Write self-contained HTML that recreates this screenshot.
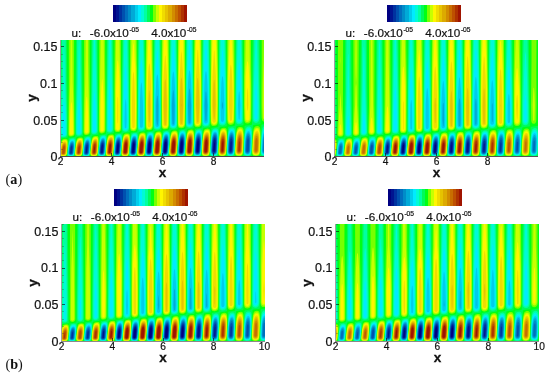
<!DOCTYPE html><html><head><meta charset="utf-8"><style>
*{margin:0;padding:0}
html,body{width:550px;height:374px;overflow:hidden;background:#fff}
body{position:relative;font-family:"Liberation Sans",Arial,sans-serif;color:#111}
.tl,.xl,.lg{-webkit-text-stroke:0.2px #111}
.fs{position:absolute;display:block;filter:blur(.35px)}
.ax{position:absolute}
.tl{position:absolute;font-size:12.5px;line-height:14px;white-space:nowrap}
.xl{position:absolute;font-size:10.2px;line-height:12px;white-space:nowrap}
.c{width:40px;text-align:center}
.at{position:absolute;font-size:13.5px;font-weight:bold;line-height:16px;-webkit-text-stroke:0.3px #111}
.yt{width:20px;text-align:center;transform:rotate(-90deg)}
.cb{position:absolute;width:74px;height:17px;filter:blur(.35px)}
.lg{position:absolute;font-size:11.7px;line-height:13px;white-space:nowrap}
.lg sup{font-size:6.7px;vertical-align:0;position:relative;top:-5.6px;margin-left:.6px}
.pl{position:absolute;font-family:"Liberation Serif",serif;font-size:14.2px;line-height:16px}
.pl b{font-weight:bold}
</style></head><body><svg class="fs" style="left:61px;top:40px" width="203" height="116" viewBox="0 0 2030 1160" fill-rule="evenodd"><rect width="2030" height="1160" fill="#00fa5a"/><path fill="#00ff14" d="M60 0h91l-8 705v260l-5 5-53 8-6 2-2 5-17 175h-60v-171l8 -4 38 -5 21 -5-1 -245-8 -730zM215 0h88l-6 650-1 300-5 5-56 9-5 6-17 190h-78l17 -185 10 -5 37 -5 20 -5-1 -290-7 -670zM370 0h87l-5 600-2 335-4 5-56 9-5 6-18 205h-79l19 -200 10 -5 36 -5 20 -5-1 -300-6 -645zM525 0h88l-5 390-2 535-16 5-42 5-7 5-18 220h-80l19 -215 10 -5 43 -6 13 -4-1 -395-5 -535zM680 0h89l-4 420-1 495-4 3-9 2-44 5-9 5-18 230h-81l19 -225 8 -5 43 -5 16 -5zM840 0h88l-4 385-1 520-11 5-44 5-11 5-19 240h-81l19 -235 10 -5 45 -5 12 -5-2 -545-3 -365zM1000 0h88l-4 400-1 495-3 3-6 2-45 5-12 5-19 250h-82l19 -245 12 -5 46 -5 10 -5-2 -525-3 -375zM1160 0h89l-4 885-9 5-45 5-13 5-18 260h-83l18 -254 10 -5 49 -6 10 -5zM1325 0h88l-3 395-2 480-3 3-6 2-46 5-8 2-5 3-17 270h-83l17 -265 13 -5 46 -5 11 -5-1 -490-4 -390zM1490 0h88l-3 400-1 465-12 5-52 7-6 3-1 5-15 275h-85l17 -274 10 -5 49 -6 12 -5-1 -465-3 -405zM1655 0h92l-4 315-2 540-14 5-47 5-10 5-16 290h-85l16 -285 10 -5 48 -5 14 -5-1 -490-4 -370zM1820 0h97l-5 430-2 415-15 4-49 6-10 5-14 300h-86l15 -295 10 -5 47 -5 17 -5-3 -515-4 -335zM1990 0h40v842l-21 3-4 4-1 6-12 305h-86l13 -305 7 -5 46 -5 22 -5-8 -840z"/><path fill="#78ff00" d="M80 0h51v430l5 500-2 15-5 10-14 8-15 2h-10l-10 -5-5 -8-2 -12 5 -510v-430zM230 0h55l4 915-2 15-7 11-10 6-15 3-10 -1-11 -4-6 -10-3 -15 4 -490zM385 0h56l3 635v260l-4 20-5 9-15 8-15 2-10 -1-10 -8-4 -10-2 -15 4 -900zM540 0h58l3 405v475l-3 20-5 10-13 9-15 2-15 -2-10 -9-4 -10-2 -15v-380l3 -505zM695 0h62l3 435-1 435-2 20-7 13-10 6-15 3-15 -1-12 -6-5 -10-3 -20v-555l2 -320zM850 0h66l4 475-1 385-3 20-6 12-10 7-20 4-15 -2-10 -6-5 -10-3 -20-1 -430zM1010 0h68l2 405-1 445-3 20-6 13-10 6-20 4-15 -1-10 -6-6 -11-2 -20-2 -440 3 -415zM1170 0h70l2 430-1 410-3 20-4 10-9 7-20 6-20 -2-10 -7-5 -12-2 -22-1 -440zM1335 0h69l2 400-2 425-3 25-6 11-10 7-20 4-15 -2-10 -5-6 -10-3 -25-2 -325 2 -405 1 -100zM1500 0h68l3 440-2 370-3 25-6 13-10 8-20 5-15 -2-8 -4-4 -5-6 -15-2 -20v-715l1 -100zM1665 0h69l3 435-2 365-4 25-6 12-11 8-19 4-15 -3-10 -8-5 -13-3 -25-1 -370 2 -430zM1835 0h64l5 500-2 285-3 20-6 15-13 12-15 3-15 -2-10 -8-6 -15-2 -20-2 -140v-300l3 -350zM2010 0h20v817l-10 -4-7 -8-4 -10-3 -20-2 -125v-145l3 -295v-210zM1950 863l15 -2 10 2 10 7 5 9 5 31 1 60-5 135-4 35-5 10-7 5-10 3-20 1-20 -2-9 -7-5 -15v-25l6 -135 5 -65 8 -30 10 -12zM1785 870l15 -1 15 6 7 10 4 15 1 65-5 145-4 30-3 9-5 5-15 5-26 1-14 -2-6 -3-4 -5-3 -10-1 -30 5 -105 5 -70 6 -35 3 -10 6 -10 9 -7zM1615 879l15 -2 15 3 10 10 4 15 2 60-7 150-4 28-7 12-15 5h-34l-14 -5-5 -10-1 -10 8 -160 5 -50 5 -25 8 -13zM1445 890l20 -4 17 4 8 10 5 20-1 70-8 140-2 15-4 8-5 4-10 3-45 -1-7 -4-3 -5-2 -10 6 -120 7 -85 4 -20 5 -13 6 -7zM1280 899l20 -3h10l10 4 7 10 4 15v65l-9 140-3 15-4 9-5 4-7 2-48 -1-6 -4-3 -5-2 -10 6 -120 8 -80 7 -26 6 -9zM1120 908l20 -3 15 3 8 7 4 10 2 20v35l-9 145-3 20-7 11-9 4h-45l-6 -2-5 -4-3 -19 10 -155 5 -35 5 -20 8 -11zM975 915l15 1 10 5 5 9 3 15-2 70-10 125-2 10-4 5-5 4-4 1h-47l-9 -5-3 -5-1 -15 7 -110 7 -65 5 -21 8 -14 12 -7zM815 925h15l10 5 5 8 3 12-1 65-10 125-3 10-4 6-5 3-51 1-9 -5-3 -10v-10l8 -112 7 -58 5 -20 6 -10 12 -8zM650 935l20 -1 10 4 6 7 3 10 1 20-1 35-10 125-4 16-5 6-5 3h-50l-8 -5-2 -5-1 -15 8 -100 6 -55 4 -20 8 -15 10 -7zM495 945l15 -1 10 2 5 3 4 6 3 10v55l-11 120-5 15-6 4-51 1-9 -7-2 -18 7 -90 7 -55 4 -20 8 -15 11 -7zM340 960l15 -1 10 2 5 3 4 6 2 10v50l-10 110-6 15-8 5h-49l-8 -7-2 -18 8 -85 6 -50 6 -20 6 -10 11 -8zM185 975l15 -1 10 1 6 5 5 10 1 15-1 30-9 105-6 15-6 4-51 1-7 -5-2 -15 7 -80 6 -45 5 -20 6 -10 11 -7zM30 990l15 -2 11 2 7 5 5 10v40l-9 95-4 13-9 7h-46v-132l5 -18 5 -9 10 -8z"/><path fill="#c8ff00" d="M100 0h13l4 430 8 220 4 260v25l-4 10-10 8-15 4-10 -3-5 -3-4 -6-1 -10 4 -285 8 -220 4 -430zM250 0h19l1 215 11 565 1 135-3 10-4 7-10 6-10 2-10 -2-6 -3-5 -10-1 -10 3 -260 6 -225 3 -220 2 -210zM400 0h27l10 640-1 255-1 10-6 10-9 6-10 3-10 -2-5 -2-7 -10-1 -10v-250l10 -650zM550 0h35l3 210 6 200 1 240-1 230-3 15-6 8-10 6-10 1-10 -2-5 -3-7 -10-2 -10v-385zM705 0h40l4 210 3 70 3 370-2 220-3 15-5 8-10 7-10 2-10 -1-11 -6-6 -10-2 -15-2 -215 2 -225zM860 3v-3h46l9 480-1 375-2 15-7 13-10 7-15 3-10 -2-10 -6-5 -10-3 -15-1 -210 1 -215zM1020 0h48l2 85 5 345-1 415-2 15-7 14-10 7-15 2-10 -1-10 -6-6 -11-3 -15-1 -200v-235l8 -415zM1180 0h51l6 430 1 220-2 180-1 15-6 15-9 8-15 5-15 -2-10 -7-5 -10-3 -19-1 -185 1 -250 4 -280 2 -120zM1345 0h50v21l6 409v220l-1 170-4 20-6 11-10 7-15 3-10 -1-10 -6-6 -9-4 -20-1 -175v-260l7 -390zM1505 4v-4h54l7 435v215l-2 155-3 20-6 13-10 8-15 3-10 -1-12 -8-5 -10-3 -20-2 -160 1 -220zM1675 0h47l8 435 1 215-2 145-4 20-6 10-9 8-15 3-10 -2-10 -9-5 -12-2 -18-2 -145v-215zM1850 0h35l3 210 7 225 1 215-2 135-3 15-6 11-10 7-10 3-10 -2-6 -4-6 -10-3 -10-4 -140 2 -290 6 -155 3 -210zM2030 0v794l-5 -4-3 -5-3 -10-4 -125 3 -220 9 -220zM1950 879l10 -2 10 2 8 6 6 10 6 30 2 50-4 125-3 28-4 12-6 7-10 5-15 2-20 -3-9 -6-6 -15-1 -20 5 -115 6 -64 5 -23 5 -13 5 -8zM1785 883l10 -1 10 3 9 10 4 10 6 40-1 75-4 90-4 25-5 10-10 7-10 3-15 1-15 -3-11 -8-4 -15-1 -25 6 -113 7 -62 9 -30 9 -11zM1620 890h15l10 7 5 8 5 17 2 63-5 120-4 30-3 8-5 7-15 6-20 1-11 -2-9 -4-5 -7-3 -9-1 -25 4 -75 6 -75 7 -40 7 -15 5 -7zM1450 899l15 -2 10 3 6 5 6 10 5 30-1 65-5 105-5 25-6 10-5 3-15 4-15 1-15 -3-10 -7-4 -13v-20l6 -110 7 -60 9 -30 7 -10zM1285 908l10 -2h10l10 5 5 5 4 9 3 15 1 45-6 125-4 25-3 10-5 6-5 3-10 3-15 1-20 -3-8 -5-4 -10-2 -20 7 -110 7 -56 5 -21 5 -11 5 -7zM1135 915l10 1 10 6 5 8 5 20v55l-7 115-4 20-4 9-5 4-15 5h-20l-10 -1-10 -6-4 -6-2 -10v-20l9 -115 5 -40 8 -25 4 -7 8 -8zM970 925h15l8 5 7 10 3 15 1 50-7 110-4 25-3 7-5 6-15 5-20 1-10 -2-10 -4-6 -13v-20l6 -88 6 -52 7 -30 4 -10 8 -9zM810 934h15l10 6 5 7 3 13 1 50-7 110-3 20-4 8-5 5-15 5-20 1-16 -4-6 -5-3 -9-1 -21 6 -75 6 -55 7 -30 5 -10 7 -9zM650 944l15 -1 10 4 6 8 4 12 1 48-7 105-4 20-5 11-5 4-10 3-25 1-15 -4-5 -5-3 -10v-20l6 -75 5 -45 7 -30 10 -18zM495 954l15 -1 10 5 5 8 3 14 1 45-7 95-4 20-3 8-5 6-15 5h-20l-16 -4-5 -5-3 -10v-15l6 -70 6 -50 7 -28 10 -16zM335 970l15 -3 10 3 5 4 5 8 3 28-2 55-6 65-5 17-5 6-10 5-25 1-15 -3-5 -4-4 -12v-15l8 -80 6 -40 10 -24 6 -6zM180 985l10 -3 10 1 10 5 5 8 4 29-3 50-5 55-6 19-5 5-10 4-25 1-15 -4-5 -5-2 -10v-15l7 -70 7 -40 8 -18 6 -7zM25 1000l10 -3h10l9 3 5 5 4 10 1 10v35l-6 70-4 15-4 7-10 6-25 2-15 -3v-109l5 -22 5 -12 5 -7z"/><path fill="#fff500" d="M875 0h17l3 54 11 316 4 280-3 210-2 8-5 8-10 7-10 1-10 -3-5 -4-4 -7-2 -10-3 -205 5 -335 9 -237zM1030 0h26l6 145 8 295 1 210-2 195-4 15-5 7-10 6-10 2-14 -5-7 -10-2 -10-1 -55-2 -145 2 -240 7 -260zM1190 0h30l11 395 3 255-3 185-3 10-6 10-7 6-10 2-15 -3-9 -10-3 -10-1 -40-2 -150 2 -225 7 -305zM1355 0h29l4 100 7 330 2 220-3 170-4 15-5 8-10 7-10 2-10 -3-5 -3-5 -6-3 -10-4 -175 2 -231 7 -324 4 -100zM1520 0h28l4 120 8 315 1 215-4 160-2 11-6 9-9 7-10 2-10 -3-5 -3-5 -8-3 -10-4 -160 2 -244 7 -311 4 -100zM1690 0h17l3 43 10 250 5 357-4 150-4 10-7 9-5 3-10 2-10 -4-4 -5-5 -15-4 -150 2 -220 4 -170 7 -185zM725 27l5 34 7 149 6 75 6 370-3 215-1 7-5 8-6 5-9 3-10 -2-5 -3-5 -7-2 -6-2 -220 5 -350 14 -253zM570 204l5 41 5 73 5 106 2 376-2 85-6 10-9 4-5 1-10 -5-5 -10v-375l5 -171 5 -87 5 -45zM1865 210l5 10 5 37 10 156 3 237-4 135-3 10-4 5-7 5-5 1-10 -5-6 -11-5 -140 4 -280 7 -99 5 -43zM410 393l5 5 8 112 4 135 1 155-2 100-6 9-10 4-10 -4-4 -9v-100-125l4 -128 5 -98zM260 568l5 43 5 112 3 187-2 10-4 5-12 5-10 -5-3 -5 1 -120 7 -180 5 -49zM105 617l5 23 5 73 3 87 2 130v5l-5 7-5 4-10 1-6 -2-4 -5-1 -35 1 -105 5 -104 5 -62zM1790 895l10 2 9 8 6 14 3 16 3 60-5 110-4 25-7 13-14 7-16 1-10 -1-9 -5-4 -5-4 -10-1 -20 4 -90 5 -55 7 -40 7 -15 5 -7 5 -4zM1950 895l5 -2h10l10 7 5 9 6 31 2 50-3 110-2 20-3 10-6 10-9 6-15 3-15 -2-10 -7-5 -10-3 -20 4 -100 6 -60 8 -34 5 -11zM1615 903l10 -3 10 2 5 4 6 9 4 12 3 18 1 55-5 105-3 25-4 10-7 7-10 5-15 1-15 -2-10 -7-5 -14-1 -20 5 -100 6 -55 5 -22 5 -13 6 -10zM1450 910l10 -3 10 2 7 6 6 10 5 30 1 45-5 110-4 22-5 11-5 5-10 5-15 1-15 -2-11 -7-5 -10-1 -20 6 -100 6 -55 5 -22 5 -13 5 -7zM1285 918l10 -3 10 1 6 4 8 10 5 25 1 45-6 110-4 25-5 10-5 5-10 4-15 1-15 -2-10 -6-5 -12-1 -20 6 -96 7 -54 8 -30 7 -10zM1130 924h10l10 5 5 7 5 14 3 40-3 70-4 60-5 20-6 8-5 4-10 3h-15l-15 -2-9 -8-4 -15v-20l7 -95 7 -50 4 -15 9 -15 6 -6zM965 935l10 -2 10 2 6 5 6 10 4 25v50l-6 90-3 20-5 10-7 6-10 4-15 1-15 -3-10 -7-4 -11v-15l7 -95 7 -49 5 -18 5 -10 5 -7zM805 944l10 -2 10 2 5 3 6 8 5 25v50l-6 90-5 20-5 8-5 4-10 3-15 1-15 -2-10 -9-3 -10v-15l6 -85 7 -47 5 -19 5 -11 6 -8zM645 954l10 -3 10 1 10 7 3 6 5 25v45l-6 85-5 20-7 10-5 3-10 3h-15l-10 -1-10 -5-5 -10-1 -20 7 -80 7 -45 7 -25 7 -10zM490 964l15 -3 10 4 5 7 6 23v45l-6 80-5 20-5 8-5 4-10 3-15 1-11 -1-10 -5-5 -10-1 -15 7 -80 6 -40 9 -26 7 -9zM335 978l10 -2 10 1 5 3 5 7 5 23v40l-7 75-3 15-5 8-5 4-10 4-15 1-11 -2-10 -5-5 -10-1 -15 7 -70 7 -40 8 -22 6 -8zM180 993l10 -3 10 2 5 3 5 6 5 24v35l-6 65-4 17-5 7-5 4-10 3-15 1-11 -2-9 -5-4 -10-1 -10 6 -65 6 -35 8 -22 6 -8zM35 1005h10l5 2 6 8 4 11 1 39-6 67-4 13-6 7-15 5-20 -1-10 -4 1 -92 6 -25 6 -15 9 -10z"/><path fill="#f0dc00" d="M1365 99h5l1 6 14 247 6 298-5 170-1 7-5 8-7 5-8 1-10 -4-5 -7-1 -5-5 -175 5 -265zM1530 102l5 8 14 255 6 285-6 160-4 10-5 5-10 3-10 -5-6 -13-5 -160 6 -290zM1205 110l5 42 13 238 5 260-5 185-3 10-5 5-10 4-10 -2-5 -4-5 -13-4 -185 4 -255 15 -261zM1045 155l10 120 5 91 6 289-4 190-2 7-5 8-5 3-10 2-10 -4-6 -11-4 -200 3 -215 3 -80 4 -69 10 -125zM880 240l5 -4 5 31 5 67 5 112 3 204-3 205-5 13-5 4-10 2-8 -4-5 -10-4 -210 6 -265 6 -106zM1700 247l5 32 5 81 5 145 2 145-7 145-4 10-6 4h-5l-5 -3-3 -6-8 -150 6 -262 5 -88 5 -46zM725 315l5 27 5 75 5 238-1 145-2 70-2 5-5 5-5 1h-5l-5 -4-2 -7-3 -70-1 -145 6 -247 5 -72zM1865 474l5 27 4 149-4 49-5 11-5 -29-2 -31 2 -95zM570 568l3 87-1 145-2 36-5 -5-2 -31v-145l2 -77zM1785 908h10l5 2 5 6 6 14 6 35v50l-4 90-3 20-5 10-5 6-10 5-10 1-15 -2-10 -9-4 -11-1 -20 4 -95 6 -49 5 -23 5 -13 5 -8zM1950 910l10 -3 5 1 5 4 5 8 7 30 3 50-5 115-5 14-5 7-10 6-10 2-15 -3-7 -6-5 -10-3 -20 5 -95 5 -50 9 -35zM1615 914l5 -2h10l10 8 5 10 5 30 1 50-4 95-3 20-4 10-9 10-11 4h-10l-15 -3-7 -6-5 -10-2 -20 6 -95 5 -50 8 -30 5 -11zM1450 920l10 -3 10 3 5 5 5 10 5 30 1 45-5 100-3 20-5 10-8 7-10 3-10 1-15 -3-10 -8-4 -10-1 -20 6 -90 6 -50 8 -31 5 -10zM1295 924l10 2 5 4 6 10 5 20 1 55-5 100-5 20-7 10-15 6-15 1-10 -3-6 -4-4 -5-3 -10-1 -20 6 -85 5 -45 8 -32 10 -16 5 -4zM1125 935l10 -2 10 3 5 5 5 10 5 29v50l-6 85-4 19-5 9-5 4-10 4-15 1-12 -2-8 -6-5 -10-1 -19 6 -89 6 -46 9 -28 5 -9zM965 943l10 -2 10 4 5 5 4 10 5 30-1 45-5 80-4 20-7 10-7 5-20 3-14 -3-7 -5-5 -10-1 -20 6 -80 6 -45 10 -31 6 -9zM815 950l10 3 5 5 5 10 3 17 1 45-6 90-4 15-4 8-5 5-15 5h-15l-10 -3-5 -4-4 -6-2 -10 7 -100 6 -35 8 -26 10 -14 5 -3zM650 960l10 -1 10 5 5 8 3 8 3 30-2 50-5 60-4 18-5 8-6 4-9 3-15 1-10 -3-9 -6-4 -10-1 -15 7 -80 7 -42 10 -26 5 -6zM495 970l10 -1 5 3 5 4 5 11 4 28-2 50-5 60-5 15-3 5-9 6-20 3-15 -4-5 -5-4 -10v-15l6 -75 8 -40 10 -24 6 -6zM340 984h10l5 2 5 6 5 12 2 31-2 45-4 45-4 15-4 5-8 6-20 3-15 -4-5 -5-4 -10v-15l7 -65 7 -38 10 -22 5 -5zM185 999h10l5 2 5 5 5 14 2 35-6 70-3 15-8 9-10 4-15 1-14 -4-7 -10-1 -10 4 -50 5 -35 8 -25 10 -15zM30 1013l10 -1 7 3 7 10 3 10 1 35-5 60-3 10-9 10-11 4h-15l-10 -3-5 -4v-62l5 -30 5 -18 10 -17z"/><path fill="#e6c300" d="M1205 375l5 19 5 58 6 198-5 155-4 30-7 6-5 -1-4 -5-4 -35-4 -150 7 -218 5 -45zM1365 380h5l6 50 4 73 4 147-7 150-3 20-4 6h-5l-5 -9-2 -17-7 -150 6 -190 3 -49zM1045 393l5 30 2 42 6 190-4 155-4 35-5 7h-5l-5 -7-4 -45-4 -150 8 -220 5 -35zM1530 395l5 5 5 43 6 207-6 108-5 37-5 4-5 -26-7 -123 6 -215zM885 500l5 55 3 100-3 137-5 35-5 -4-3 -23-4 -145 2 -67 5 -79zM1700 644v12l-3 -6zM1790 920l10 5 5 7 5 16 2 17 2 45-3 90-2 15-5 15-9 9-15 4-10 -1-10 -7-5 -10-2 -20 4 -95 7 -50 6 -19 5 -10 5 -7zM1615 925l10 -3 5 1 7 7 5 10 5 30 1 45-4 90-3 20-5 10-6 6-10 4-10 1-10 -2-10 -8-5 -11-1 -15 5 -90 5 -45 10 -35 6 -11zM1955 923l5 -1 5 3 5 6 5 12 5 32 1 45-5 95-4 10-7 8-15 6-10 -2-9 -7-5 -10-2 -15 4 -90 5 -45 8 -30 5 -10zM1450 929l10 -2 5 1 5 3 6 9 4 13 2 17 2 45-5 95-3 15-4 10-7 7-10 5-10 1-10 -2-10 -6-6 -10-1 -20 5 -85 5 -45 8 -30 4 -10zM1290 934h10l5 2 5 6 5 11 5 32-1 50-4 75-4 20-6 10-5 4-10 4-10 1-10 -2-11 -7-4 -10-2 -20 6 -85 6 -44 10 -32 5 -7zM1125 944l10 -3 5 2 8 7 5 10 4 30v50l-5 75-3 15-4 8-8 7-12 4h-10l-10 -2-9 -7-4 -10-1 -15 5 -80 7 -45 9 -30 6 -10zM970 950l10 1 5 4 6 10 4 18 1 47-5 85-3 15-8 13-10 5-15 2-16 -5-4 -5-4 -10-1 -15 5 -60 5 -45 6 -30 9 -19 5 -6zM810 958l10 1 7 6 5 10 3 15 2 45-6 80-5 20-6 9-10 5-15 2-15 -5-7 -11-2 -15 4 -55 5 -46 8 -34 11 -20zM650 968l10 -1 6 3 7 10 4 15 1 45-5 75-5 20-7 10-11 5-15 1-15 -6-5 -9-2 -11 2 -25 5 -57 7 -38 8 -23 5 -7zM490 980l10 -3 5 1 5 3 6 9 5 25-1 40-5 65-4 15-6 9-5 3-10 3-10 1-10 -3-9 -8-3 -10v-10l6 -65 6 -38 10 -26zM335 994l10 -3 5 2 5 3 5 9 4 20v35l-6 65-2 10-6 9-5 4-10 3h-10l-10 -2-6 -4-5 -10-1 -10 6 -65 6 -30 10 -25zM180 1009l10 -3 5 1 5 4 5 8 4 21v30l-5 55-4 13-10 10-10 3h-10l-10 -3-5 -3-4 -10v-10l4 -50 6 -30 9 -25zM35 1020h5l7 5 3 5 4 15 1 30-5 55-3 10-7 7-10 4h-15l-10 -4-5 -6v-25l4 -41 6 -25 5 -13 10 -13z"/><path fill="#dcaa00" d="M1205 635l2 15-2 18-3 -18zM1620 933h5l5 2 5 6 6 14 4 35v47l-3 68-3 15-4 10-5 6-10 5-10 1-10 -3-9 -9-4 -10v-15l4 -80 6 -45 8 -30 5 -9zM1785 934l5 -1 5 2 5 5 5 12 5 31 1 42-5 90-4 10-7 8-5 3-10 3-10 -2-8 -7-5 -10-1 -15 4 -85 5 -40 5 -23 5 -12zM1450 939l10 -3 5 2 5 5 5 10 5 27 1 45-6 95-4 10-6 8-10 5-10 1-10 -2-10 -7-4 -10-1 -15 5 -84 5 -39 9 -32 6 -11zM1955 939h5l5 4 7 17 4 25 1 40-4 85-3 8-5 8-5 4-10 3-10 -2-6 -6-5 -10-1 -15 3 -75 4 -39 5 -23 5 -13 5 -8zM1290 943h10l5 4 5 8 3 10 4 30v45l-4 70-3 15-5 10-5 5-10 5-10 1-10 -2-10 -9-4 -10v-15l4 -75 6 -45 9 -30 5 -8zM1125 952l10 -2 5 2 5 5 4 8 5 25 1 38-5 82-2 15-3 7-6 8-9 5-10 2-10 -2-10 -5-5 -10-2 -15 6 -80 6 -40 9 -30zM965 960l10 -2 5 2 5 6 4 9 5 30-1 40-5 70-3 15-5 8-5 5-10 4h-10l-10 -2-6 -5-5 -10-1 -15 5 -75 6 -40 9 -25 7 -11zM805 968l10 -2 5 2 5 5 5 11 4 26v40l-5 65-3 15-6 10-5 4-10 3-10 1-10 -3-6 -5-5 -10-1 -15 6 -70 6 -38 10 -27zM655 975l10 4 4 6 6 24v41l-5 70-5 15-5 7-10 5-15 1-9 -3-6 -5-4 -10v-10l6 -70 5 -35 8 -23 10 -14zM490 988l10 -3 5 2 5 5 4 8 4 25-1 35-5 60-2 11-5 9-5 4-10 4h-10l-10 -3-6 -5-3 -10-1 -10 6 -60 4 -30 10 -30zM340 1000h6l7 5 5 10 2 10 1 35-5 60-1 10-6 10-9 6-15 2-10 -3-5 -4-4 -11 4 -55 5 -30 5 -20 10 -18zM185 1015h7l7 5 6 18 1 32-5 55-3 10-8 10-10 3h-10l-10 -4-6 -9 4 -60 5 -25 7 -20 5 -8zM30 1029h10l5 4 3 7 4 20-1 25-6 51-5 7-5 3-15 3-10 -3-5 -4-3 -12 4 -45 5 -25 9 -22z"/><path fill="#d28c00" d="M1620 945h5l7 5 4 10 4 15 3 40-3 65-2 30-4 15-9 10-15 3-10 -3-8 -10-2 -10v-20l4 -75 5 -35 6 -20 4 -10 6 -7zM1450 950l5 -3h5l5 3 6 10 6 25 1 45-4 75-2 15-5 10-4 5-8 4-10 2-10 -3-5 -3-6 -10-1 -15 4 -75 4 -35 9 -35zM1785 948l5 -1 5 3 7 15 4 25 1 35-3 80-2 10-7 12-5 4-10 3-10 -3-5 -4-5 -11-1 -11 4 -80 3 -30 9 -34 5 -9zM1290 952h5l5 1 5 5 5 11 5 31-1 40-4 70-3 15-6 10-6 5-15 3-10 -3-6 -5-5 -10-1 -15 5 -75 5 -40 10 -30 7 -9zM1130 959h5l5 3 5 7 6 26 1 40-4 75-3 15-6 10-9 7-15 1-10 -4-5 -5-3 -9-1 -10 4 -67 5 -38 5 -23 10 -21zM1955 957l6 3 4 5 3 10 3 20 1 30-4 85-8 13-10 4-7 -2-6 -5-4 -10v-10l3 -75 3 -30 6 -24 5 -10zM965 969l10 -2 5 3 6 10 5 25v45l-7 75-4 9-7 6-8 4h-10l-10 -3-6 -6-4 -10v-10l5 -70 5 -34 10 -31zM810 975h5l5 3 5 7 5 20 1 40-5 70-3 15-8 10-10 4-10 1-12 -5-4 -5-3 -10 4 -65 4 -35 6 -24 10 -20zM650 984h10l5 5 5 11 3 25v30l-6 65-2 10-5 8-5 4-15 4-10 -3-5 -3-6 -10-1 -10 6 -70 5 -30 10 -25 6 -8zM495 994h5l8 6 4 10 3 15v35l-5 60-3 10-7 10-10 5h-10l-11 -5-6 -10 5 -65 3 -25 7 -25 7 -13zM340 1008l5 1 5 3 5 9 3 14v30l-4 55-2 10-7 10-10 5h-10l-11 -5-5 -10 5 -60 4 -25 6 -20 6 -10zM185 1023h5l5 4 5 8 2 10 1 25-5 55-3 10-5 6-10 4h-10l-10 -5-4 -10 5 -55 4 -20 5 -15 5 -9zM30 1038l5 -1 5 2 5 7 3 19v20l-6 50-7 8-5 2-10 1-5 -1-7 -5-3 -5v-7l5 -48 3 -15 7 -18z"/><path fill="#c86e00" d="M1455 958h5l5 4 6 13 4 28v37l-4 70-2 10-9 13-5 3-10 1-10 -3-5 -5-4 -9v-15l4 -75 5 -35 10 -29 5 -6zM1615 960l5 -3h5l5 5 5 12 4 26v30l-5 85-4 9-5 6-5 2-10 2-9 -4-4 -5-4 -10v-10l3 -70 4 -34 5 -22 5 -12zM1290 962l5 -1 5 3 5 7 3 9 4 25v40l-6 75-5 10-5 5-6 3-10 1-10 -3-5 -5-4 -11v-10l4 -70 5 -37 10 -31zM1785 963h5l5 5 5 12 3 25v25l-4 80-4 10-5 5-10 3-10 -3-4 -5-3 -15 3 -75 4 -30 5 -22 5 -10zM1130 968l5 1 5 4 6 12 3 25v35l-5 75-4 9-5 6-5 3-10 2-10 -2-9 -8-3 -10v-10l5 -70 6 -35 6 -20 5 -9zM965 977l5 -1 5 1 5 4 5 12 3 27v30l-4 65-3 10-6 10-5 3-15 3-10 -4-5 -7-3 -15 5 -65 4 -30 9 -30zM810 983l5 1 6 6 4 8 3 17 1 30-5 70-4 15-5 6-10 5-10 1-10 -5-6 -12 4 -70 3 -25 7 -25 7 -14zM1955 981l5 3 5 18v55l-2 48-5 10-8 3-5 -1-5 -6-2 -11 5 -90 7 -25zM650 992h5l5 2 6 11 4 20v35l-6 65-4 8-5 5-5 3-10 1-10 -2-5 -4-3 -6-1 -10 5 -60 4 -30 10 -28zM495 1003h5l5 4 5 12 2 11v30l-5 60-3 10-4 6-10 5-10 1-10 -6-4 -11 4 -60 5 -28 5 -16 5 -10zM335 1020l5 -2h5l5 7 5 19v21l-5 60-5 11-6 4-9 2-10 -2-5 -4-3 -11 8 -74 5 -17zM185 1033l5 1 5 6 4 15v20l-4 45-2 10-3 6-5 4-10 2-8 -2-5 -5-2 -11 5 -49 4 -20 6 -14 5 -6zM30 1047h5l5 4 4 14 1 15-5 49-2 6-6 5-12 2-6 -2-4 -5-1 -5 4 -45 7 -26 5 -8z"/><path fill="#be5000" d="M1455 969l5 1 5 6 6 24 1 35-4 70-1 10-5 10-7 6-10 2-10 -4-5 -9-2 -10 2 -31 3 -49 5 -30 7 -21 5 -7zM1290 972h5l5 4 5 11 3 18 1 30-4 74-2 11-7 10-6 4-10 2-10 -5-5 -8-2 -13 2 -26 3 -49 5 -30 7 -21 5 -8zM1615 974l5 -3 5 1 5 8 5 25v30l-5 80-7 10-8 4h-5l-5 -2-5 -5-3 -7-1 -10 6 -90 5 -25zM1130 978l5 2 5 6 5 17 2 27-2 41-5 51-5 8-5 4-10 3-10 -3-5 -5-4 -9v-10l5 -65 4 -31 5 -17 5 -11 5 -5zM1785 981l5 1 5 10 3 38-3 76-5 11-5 4-5 1-5 -1-5 -5-2 -11 5 -90 6 -25zM965 987l5 -2 5 2 5 8 5 21 1 29-6 75-5 10-5 5-10 3-10 -2-5 -4-4 -7-1 -10 5 -65 3 -25 7 -24 5 -9zM805 995l5 -2 5 1 5 6 5 20 1 30-6 72-4 8-5 5-11 4-10 -3-5 -4-3 -7-1 -10 5 -60 3 -25 6 -20zM645 1005l5 -4h5l5 4 3 5 4 20v25l-6 70-7 10-14 4-11 -4-4 -6-1 -9 6 -75 5 -21zM495 1013l5 1 6 11 3 20v20l-6 60-7 10-11 4-10 -3-5 -6-1 -10 1 -14 5 -51 4 -20 6 -13 5 -7zM335 1030l5 -2 5 2 3 5 3 15v20l-5 55-6 10-10 4-10 -4-5 -10 7 -65 6 -20zM185 1044l5 3 2 3 3 15-5 60-5 10-10 3-8 -3-3 -5 4 -50 7 -26 5 -7zM30 1059l5 2 5 14-5 55-5 6-10 2-5 -3-1 -5 4 -45 4 -15 3 -6z"/><path fill="#af3200" d="M1290 984h5l5 6 5 20 1 30-4 70-3 10-4 6-5 4-10 1-5 -1-5 -5-3 -10 3 -62 6 -43 5 -15 4 -7zM1450 985l5 -3 5 2 5 10 3 21 1 20-6 80-3 7-5 4-10 3-5 -2-5 -5-3 -12 6 -90 6 -25zM1130 989l5 3 4 8 4 20v25l-3 55-1 15-4 10-5 5-10 3-10 -4-5 -8v-24l4 -52 4 -25 7 -22 5 -7zM1620 987l5 3 2 5 4 20-3 90-3 10-4 5-6 3h-5l-5 -3-5 -10 4 -75 6 -34 5 -11zM965 998l5 -2 5 3 5 11 2 20v20l-5 70-7 10-10 4h-5l-6 -4-4 -5-2 -10 7 -81 5 -20 5 -11zM805 1005l5 -2 5 3 5 9 2 15 1 20-6 70-7 12-10 3h-5l-7 -5-3 -5-1 -10 7 -75 5 -20zM1785 1009l5 11v40l-2 45-3 6-5 1-5 -5v-14l4 -68 1 -6zM645 1015l5 -4 5 1 5 7 3 16 1 20-5 65-5 10-8 5-6 1-10 -6-3 -10 7 -75 5 -20zM495 1024l6 6 4 20-5 70-5 11-10 4-10 -5-2 -5 2 -36 6 -44 4 -11 5 -8zM335 1042l5 -1 5 6 2 23-5 55-3 5-9 4-8 -4-2 -9 5 -54 5 -17zM180 1062l5 -1 2 4 2 15-4 45-3 5-7 2-4 -2-1 -7 5 -48z"/><path fill="#a01400" d="M1290 997l5 2 3 6 4 20-4 85-3 10-5 5-10 2-5 -3-5 -9 4 -70 6 -33 5 -11zM1455 998l5 5 4 22-4 85-5 10-5 3h-5l-5 -3-4 -10 4 -71 5 -28 5 -10zM1125 1004l5 -2 5 5 4 18 1 20-5 70-5 10-10 3-5 -1-5 -5-2 -12 6 -75 6 -23zM965 1010l5 -1 5 6 3 15 1 20-5 65-4 10-10 5-5 -1-5 -4-3 -10 6 -75 5 -20zM1615 1014l5 -3 4 9 1 15-4 70-1 6-5 4-5 -1-3 -9 3 -69zM805 1017l5 -2 5 6 3 14 1 20-6 65-3 6-5 4-5 1-5 -1-5 -4-2 -11 6 -70 6 -21zM650 1024l5 2 5 19-4 70-1 6-5 7-10 3-5 -2-4 -9 4 -58 5 -25 5 -10zM495 1039l5 11v10l-4 60-6 8-5 1-5 -2-2 -7 4 -55 3 -15 5 -9zM335 1063l5 7v5l-5 47-5 4-2 -6 2 -31z"/><path fill="#00ffa0" d="M10 1v-1h37l4 430 9 370-1 150-4 10-5 6-10 5-15 2-15 -1-5 -3-5 -6v-289l6 -244zM165 0h35l5 430 7 370 1 120-2 15-4 10-7 6-10 5-15 2-10 -1-10 -6-5 -11-1 -10v-130l8 -370 4 -430zM315 0h40l10 710 1 195-2 15-5 10-9 8-20 4-14 -2-7 -5-5 -10-2 -15 1 -150zM470 0h41l9 571 2 314-2 16-6 14-14 9-15 2-10 -1-10 -5-6 -10-2 -20 1 -265 9 -625zM625 0h44l8 430 3 445-3 20-5 10-12 9-15 3-15 -2-10 -6-5 -9-3 -20 4 -495 6 -385zM780 0h48l9 435 2 430-3 20-6 12-10 7-20 4-15 -3-10 -7-5 -12-2 -16 3 -440 8 -430zM940 0h49l8 420 2 435-3 20-6 13-10 6-20 4-15 -2-11 -6-5 -10-2 -25 2 -460 8 -395zM1100 0h51l7 400 2 442-3 23-7 13-10 6-20 4-15 -2-10 -6-5 -10-3 -25 2 -445 7 -400zM1260 0h54l7 395 2 435-3 23-5 12-10 8-20 4-15 -1-12 -6-7 -15-2 -20 2 -445 7 -390zM1425 0h53l7 405 2 415-3 20-7 15-12 8-20 3-15 -2-10 -8-5 -11-2 -25 1 -430 7 -390zM1590 0h53l8 435 1 370-2 20-6 15-11 10-18 5-15 -2-8 -3-5 -5-7 -15-2 -20 2 -407 7 -403zM1760 0h48l8 430 2 360-3 25-5 13-10 9-10 4-10 1-15 -2-10 -8-5 -12-4 -25v-145l4 -329 6 -321zM1930 0h44l10 650v130l-2 20-7 16-10 9-15 4-15 -3-10 -10-5 -13-2 -18 1 -240 10 -545zM2030 863v296l-15 -2-11 -7-5 -10-1 -25 5 -130 5 -70 8 -35 5 -10zM1865 868l15 -2 10 2 10 7 3 5 3 10 3 20 1 55-5 140-4 35-5 10-6 5-10 3-20 1-20 -3-8 -6-4 -10-1 -25 7 -140 6 -65 5 -20 5 -10 5 -6zM1705 874l15 1 10 4 7 11 4 15 1 65-6 145-3 25-3 8-5 6-15 6h-26l-9 -1-9 -4-4 -5-3 -10v-30l8 -140 5 -50 6 -25 5 -10 6 -5zM1535 884l15 -1 15 5 6 7 4 15 1 60-7 150-4 24-7 11-14 5h-32l-14 -5-3 -5-3 -15 9 -170 4 -35 6 -25 9 -14zM1365 894l20 -2 13 3 7 6 5 15 2 24-1 35-8 145-3 24-6 11-12 5h-38l-11 -5-4 -5-1 -10v-30l8 -120 4 -46 5 -26 6 -13 4 -5zM1200 905l20 -4 15 3 7 6 5 15 1 55-8 140-4 25-6 11-10 4h-41l-10 -5-3 -5-2 -10 9 -145 5 -45 5 -25 7 -13zM1040 914l15 -3 15 1 10 7 5 12 2 19-1 35-9 140-5 25-7 8-6 2h-43l-6 -2-5 -6-2 -17 10 -145 4 -35 4 -20 9 -15zM880 923l15 -3 15 2 10 6 5 13 1 19v35l-9 130-5 25-7 8-6 2h-44l-5 -2-5 -5-2 -18 10 -140 5 -35 5 -20 7 -11zM735 930l15 1 9 4 6 10 2 10-1 60-10 125-3 10-8 9-4 1h-45l-8 -5-3 -7-1 -13 9 -110 6 -55 5 -20 6 -10 10 -7zM575 940h15l10 3 6 7 3 15-1 60-10 115-6 15-7 5h-46l-9 -6-3 -19 8 -95 6 -55 5 -20 7 -15 7 -6zM410 955l15 -3 15 1 9 7 3 10 2 20-2 30-9 115-4 15-4 6-5 3-47 1-8 -5-3 -15 12 -130 4 -25 5 -15 7 -10zM255 970l15 -3 15 1 8 7 4 10v45l-9 105-4 15-4 7-5 2-47 1-8 -6-2 -14 11 -120 4 -20 5 -15 7 -10zM100 985l15 -3 15 1 5 2 7 10 2 15-1 25-9 100-3 15-6 8-5 2h-46l-7 -5-2 -15 10 -102 4 -23 5 -15 6 -9z"/><path fill="#00fad7" d="M180 0h1l4 37 20 758v125l-1 10-6 10-8 6-15 2-10 -3-5 -5-4 -10v-20l1 -115 11 -365 7 -344zM330 0h11l16 655 2 245-2 15-7 10-10 6-10 1-10 -3-5 -4-5 -10v-10l3 -255 12 -532 3 -118zM480 0h19l13 565 3 235-2 95-3 7-7 8-8 4-10 1-10 -2-5 -4-5 -9-1 -10 2 -240zM635 0h23l11 420 4 235 1 145-1 80-3 10-5 8-10 6-10 2-10 -1-10 -6-5 -10-2 -14 1 -220 4 -225 11 -430zM790 0h28l12 419 4 231-1 220-3 10-7 10-8 5-15 3-15 -5-5 -5-4 -8-2 -15-1 -55 1 -160 3 -220zM950 0h29l13 420 2 220 1 160-2 60-3 11-6 9-9 6-15 2-15 -3-5 -4-5 -8-3 -18-1 -40 3 -385 13 -430zM1110 0h31l12 395 2 172v278l-4 15-6 9-10 6-15 3-15 -4-5 -4-5 -8-3 -17-1 -45 3 -400 12 -400zM1270 0h34l11 395 4 255-1 180-3 15-5 10-10 8-15 4-15 -2-10 -8-5 -12-1 -15-1 -180 3 -260 11 -390zM1435 0h33l12 435 3 215-2 170-3 15-8 12-10 6-15 2-15 -5-8 -10-4 -15-1 -25v-150l3 -250 11 -400zM1600 0h32l12 435 3 215-1 155-3 15-8 14-10 6-10 3-15 -3-10 -9-5 -14-2 -17v-150l2 -215 13 -435zM1770 0h27l11 395 4 255-2 150-5 14-5 7-10 6-10 2-10 -2-10 -9-5 -13-2 -15-1 -140 3 -220 13 -430zM1945 0h13l12 383 6 267-2 135-2 10-6 10-6 5-10 2-10 -2-5 -4-6 -11-2 -15-1 -55v-75l4 -215zM30 61l5 120 5 249 10 286 3 224-2 10-6 8-10 5-10 2-10 -2-5 -3-5 -7-1 -43 1 -117 13 -363 7 -336zM1865 884l10 -2 10 1 5 3 7 9 7 25 2 50-4 135-4 25-3 10-5 6-10 6-15 2-20 -3-8 -6-6 -15-1 -20 5 -110 7 -65 8 -33 5 -9zM2030 882v270l-15 -3-9 -9-3 -10-2 -20 4 -105 5 -62 7 -38 7 -15zM1700 889l10 -2 10 2 7 6 6 10 5 30 1 50-5 120-4 29-5 11-5 5-10 4-15 2-20 -3-9 -8-4 -15v-20l6 -115 6 -60 5 -20 6 -14 5 -6zM1540 895h10l10 5 6 10 5 20 2 60-6 115-2 25-6 15-9 8-10 3-15 1-10 -1-10 -4-5 -4-3 -8-2 -25 4 -80 6 -73 7 -37 9 -20 9 -7zM1370 904l10 -1 10 1 8 6 5 10 5 30-1 60-5 105-5 25-6 10-6 4-10 3-15 1-15 -3-10 -6-5 -14v-20l7 -110 7 -60 6 -20 5 -10 5 -5zM1205 914l10 -3 10 1 10 7 5 8 5 28-1 55-6 105-4 25-6 10-7 5-11 2-15 1-15 -3-8 -5-4 -10-1 -25 7 -105 7 -55 9 -28 6 -7zM1040 925l10 -4h10l10 3 5 5 5 11 2 10 1 40-7 125-4 25-5 10-7 5-10 3h-15l-15 -2-10 -6-4 -10-1 -15 7 -100 6 -55 9 -30 6 -10zM895 930l10 1 10 7 5 12 2 10v55l-7 110-3 15-7 12-15 6h-25l-10 -3-5 -4-3 -6-2 -10 5 -78 6 -62 5 -30 8 -20 11 -11zM730 940h15l9 5 6 9 3 11 1 50-8 105-3 20-8 13-15 5h-20l-15 -4-5 -5-3 -9v-20l7 -80 6 -50 5 -25 10 -17zM575 949h10l10 4 6 7 4 15 1 50-8 100-5 20-8 10-15 4-20 -1-10 -2-5 -4-4 -7-1 -9 9 -111 5 -35 6 -20 10 -14zM410 965l10 -4h10l9 4 5 5 5 20v40l-7 95-5 20-3 5-9 6-25 3-15 -3-7 -6-3 -10v-15l7 -80 7 -45 5 -15 5 -10zM255 980l10 -4h10l9 4 4 5 6 20v40l-7 80-5 20-2 5-10 7-25 2-10 -1-10 -6-4 -7-1 -15 8 -75 6 -40 10 -25zM100 995l15 -5 10 2 6 3 4 5 3 10 2 30-7 85-4 20-4 7-5 3-10 3-15 1-10 -1-10 -3-5 -5-2 -15 6 -65 6 -40 9 -25z"/><path fill="#00ebff" d="M1285 37l5 18 4 50 11 208 5 122 4 220-2 175-3 10-6 10-8 6-10 2-15 -4-7 -9-3 -10-2 -180 7 -312 15 -273zM1450 37l5 28 15 272 3 98 4 220-2 165-3 10-7 9-15 6-10 -1-7 -4-7 -10-2 -10-2 -165 4 -220 4 -112 12 -218 3 -46zM1125 65l5 42 16 293 5 250v145l-1 45-5 15-10 11-15 3-10 -3-5 -3-5 -8-3 -10-1 -195 4 -218 5 -121 10 -176 5 -60zM1615 92l5 26 13 212 4 105 4 220-2 150-3 10-6 10-5 3-10 3-10 -1-5 -3-6 -7-3 -10-2 -155 6 -280 15 -256zM960 114l5 -3 5 51 10 153 5 110 4 225v145l-2 65-5 10-6 5-6 3-10 1-13 -4-7 -10-2 -10-2 -60 1 -145 4 -220 8 -160zM805 194l10 88 7 148 6 220v150l-2 70-5 10-6 5-15 3-10 -3-5 -5-5 -15v-210l5 -221 5 -114 5 -72 5 -40zM1780 222l5 2 5 38 5 72 4 101 6 220-3 140-7 14-5 4-10 2-5 -1-7 -4-3 -5-3 -10-3 -140 8 -285 8 -116zM645 266l5 15 5 55 5 99 6 215 1 150-2 80-5 10-8 5-7 1-7 -1-7 -5-5 -10-1 -80 1 -150 7 -220 7 -133zM490 405l5 43 7 162 4 185-1 90v5l-5 9-5 3-10 2-7 -4-5 -10v-90l2 -145 5 -128 5 -92zM1950 434l5 20 10 201-2 125-5 10-8 4-7 -4-4 -10-2 -125 8 -177zM335 525l5 32 5 83 5 160v105l-5 11-6 4-9 1-5 -2-4 -4-2 -5v-110l6 -178 5 -75zM180 587l5 17 5 68 5 128 1 110v15l-2 5-4 5-10 3-11 -3-4 -10 5 -218 5 -87zM30 615l5 36 5 86 5 203-5 11-8 4-7 1-10 -5-3 -6v-35l3 -115 5 -113 5 -57zM1705 900l10 1 10 8 5 12 4 19 2 60-5 105-4 25-7 13-12 7-18 2-10 -3-7 -4-4 -5-3 -10-2 -20 4 -85 5 -55 7 -39 10 -22 5 -5zM1865 900l5 -3h10l10 8 5 9 6 31 2 45-5 115-2 20-4 10-7 8-10 5-10 1-15 -2-10 -7-5 -13-2 -17 5 -100 5 -55 8 -35 5 -10zM2030 901v246l-10 -3-10 -9-4 -15-1 -15 3 -95 5 -50 7 -39zM1530 909l5 -2 10 -1 10 4 5 6 5 11 3 13 2 45-5 120-4 25-4 10-7 8-10 4-10 1-15 -1-11 -7-5 -10-2 -20 6 -100 6 -55 9 -35 6 -10zM1370 914l10 -1 10 3 5 5 5 10 5 33v56l-5 90-5 25-5 10-5 4-10 4-15 1-15 -3-7 -6-5 -15-1 -20 6 -95 7 -54 5 -20 5 -12 5 -7zM1205 924l15 -3 10 6 5 6 6 27 1 45-6 105-4 25-5 10-6 5-11 4-10 1-15 -2-10 -6-5 -12-1 -15 6 -94 7 -56 8 -29 5 -9zM1055 930l10 3 7 7 4 10 4 20v50l-7 100-5 20-8 10-15 5h-15l-15 -6-5 -7-2 -12 7 -115 6 -40 8 -25 11 -15zM890 939h10l10 7 5 9 4 15 1 50-7 95-3 20-4 10-6 5-10 4-20 1-15 -5-5 -7-2 -8v-20l6 -80 6 -45 6 -25 9 -17 5 -4zM730 949l10 -1 10 5 5 7 3 10 3 30-2 55-5 65-4 20-5 7-5 4-10 4-15 1-15 -4-8 -7-3 -10 1 -20 7 -85 7 -45 5 -15 6 -11 5 -5zM570 959l10 -2 10 3 5 5 5 10 3 30-2 55-5 60-4 20-7 10-5 3-10 2-15 1-15 -5-5 -6-2 -10v-15l7 -80 6 -40 9 -27 6 -8zM425 970l10 3 5 6 6 21v45l-7 80-3 15-7 10-14 5h-20l-12 -5-3 -5-3 -10 5 -65 5 -40 6 -30 7 -16 10 -10zM265 985h10l7 5 6 10 2 10 1 40-7 75-3 15-7 10-12 5-17 1-15 -5-6 -11-1 -15 7 -65 5 -33 7 -22 8 -12 5 -4zM110 999h10l5 3 5 5 5 13 1 40-6 70-5 15-5 6-15 5h-15l-10 -3-5 -3-4 -10 5 -70 6 -30 6 -20 7 -12 5 -4z"/><path fill="#00cdeb" d="M1285 303l5 9 5 35 5 63 8 245-3 172-5 13-5 5-10 3-11 -3-5 -5-3 -10-3 -175 7 -225 5 -69 5 -42zM1450 309l5 15 4 31 5 75 7 225-3 160-3 9-5 6-10 5-5 -1-8 -4-3 -5-3 -10-3 -160 7 -230 5 -67 5 -38zM1125 315l5 21 5 47 5 91 5 176-1 145-3 50-6 10-5 3-10 2-10 -5-5 -9-1 -6-2 -190 8 -242 5 -57 5 -31zM965 345l5 25 5 52 5 120 3 108v150l-3 55-6 10-9 5h-5l-10 -5-5 -10-2 -55v-145l8 -225 4 -52 5 -30zM1615 359l5 16 6 55 8 225-4 145-5 14-10 5-10 -4-5 -10-4 -150 8 -225 6 -57zM805 422l5 31 7 127 3 75 1 140-3 70-3 7-10 6-10 -2-5 -7-3 -74 3 -206 5 -100 5 -54zM1780 512l5 7 5 52 4 84-7 135-2 5-5 1-3 -6-2 -16-5 -124 5 -96zM645 589l5 14 4 47 3 150-3 75-4 6-5 2-5 -3-2 -5-3 -75 4 -150zM1700 913l10 -1 5 2 5 4 6 12 5 30 1 50-4 95-3 20-4 10-6 7-10 4-10 2-10 -2-10 -6-6 -10-2 -20 5 -95 5 -50 8 -31 5 -10zM1865 915l10 -4 5 1 5 4 5 9 7 30 2 45-4 105-2 15-8 16-10 6-10 2-15 -3-7 -6-4 -10-2 -20 3 -85 5 -49 8 -36 7 -15zM1535 918l10 -1 5 2 6 6 6 15 5 35-1 55-4 80-4 20-5 10-8 6-10 3h-10l-10 -2-10 -8-5 -14v-15l5 -93 5 -47 10 -35 5 -9zM2030 920v221l-10 -4-6 -7-4 -10-2 -15 7 -128 5 -32zM1370 924l10 -1 6 2 9 10 3 10 4 35v50l-5 80-3 20-4 9-6 6-9 4-15 2-15 -5-6 -6-4 -14v-16l5 -86 7 -54 8 -28 5 -9zM1205 933l5 -2h10l6 4 7 10 5 25 1 45-5 95-3 20-5 10-6 6-10 4-10 2-12 -2-9 -5-6 -10-2 -20 6 -85 6 -50 9 -30 6 -10zM1050 939l10 1 7 5 5 10 4 15 2 50-6 90-3 20-4 10-4 5-11 6-15 1-15 -4-5 -5-4 -8-1 -20 4 -65 6 -50 6 -30 9 -20 5 -5zM885 950l10 -2 5 1 8 6 5 10 4 30v45l-6 75-4 20-6 10-6 4-10 3h-10l-12 -2-8 -6-5 -14v-15l6 -80 7 -45 8 -25 7 -10zM725 959l5 -2h10l6 3 7 10 5 25v45l-6 80-4 15-6 10-7 5-20 3-10 -2-8 -6-5 -10-1 -15 7 -80 6 -40 8 -25 6 -10zM570 967l10 -1 5 1 5 3 6 10 4 25v40l-6 75-3 15-6 10-5 4-10 3-10 1-14 -3-6 -5-5 -10v-15l6 -75 7 -40 9 -25 8 -9zM415 980l10 -2 5 2 6 5 5 15 3 35-4 57-4 38-6 14-10 7-20 2-10 -3-6 -5-4 -10v-18l6 -62 7 -40 7 -20 5 -7zM260 994l10 -1 5 2 6 5 5 15 2 40-6 70-4 15-8 9-10 3-15 1-10 -3-5 -4-4 -11 4 -56 5 -34 5 -23 10 -20zM105 1009l10 -2 5 2 5 3 4 8 4 20v35l-6 55-3 10-9 10-10 3h-10l-10 -1-9 -7-3 -15 6 -60 6 -30 9 -20z"/><path fill="#00aad7" d="M1285 483l5 13 5 48 6 111-4 145-4 30-8 5-5 -2-2 -3-4 -30-4 -145 5 -94 5 -56zM1125 501l5 29 7 125-2 145-4 40-6 6h-5l-5 -6-3 -40-3 -145 6 -104 5 -43zM1450 510l5 22 8 123-6 140-2 13-5 8-5 -4-3 -17-6 -140 8 -115 1 -14zM965 554l5 36 4 65-1 145-3 34-5 20h-5l-1 -4-6 -50-1 -145 3 -51 5 -45zM1615 615l6 35-1 19-5 30-5 -24-1 -25 1 -16zM1705 924h5l5 3 5 7 5 14 4 37v50l-3 70-3 15-8 16-10 6-10 1-10 -1-10 -9-5 -13v-15l5 -90 5 -44 10 -33 5 -8zM1535 928h10l5 3 5 6 5 13 4 35-1 50-3 75-3 15-5 10-7 6-10 4-10 1-10 -3-8 -8-4 -10-1 -20 5 -85 6 -45 9 -30 6 -10zM1870 927l5 -1 5 2 5 6 5 13 5 33v40l-5 95-3 10-7 9-5 3-10 2-10 -1-9 -8-5 -10-1 -15 4 -90 6 -45 8 -30 7 -10zM1370 934l10 -1 5 2 5 6 5 11 5 33-1 50-4 75-4 20-6 9-5 4-10 4h-10l-10 -2-9 -10-3 -10-1 -15 5 -85 6 -45 9 -30 6 -10zM1215 940l10 5 5 8 6 27 1 50-6 85-3 15-8 12-10 5-15 1-10 -3-5 -4-6 -16 6 -100 5 -38 8 -27 10 -15 7 -5zM2030 940v194l-8 -4-4 -5-4 -10-1 -10 5 -110 5 -35zM1050 948l10 2 5 5 5 10 4 20 1 45-5 80-4 20-6 11-10 6-15 2-10 -3-5 -3-5 -7-2 -6-1 -15 5 -65 5 -45 7 -30 10 -20zM885 958l10 -2 5 2 5 5 5 10 4 27v45l-5 70-4 18-4 7-6 5-10 4h-10l-10 -2-9 -7-3 -10-1 -15 6 -75 6 -40 10 -30zM735 965l10 4 4 6 6 25v45l-5 75-4 15-6 8-10 6-15 1-10 -3-5 -3-6 -14 6 -85 5 -35 7 -25 10 -15 8 -5zM575 974l10 2 5 6 5 12 2 11 1 40-6 70-2 15-5 10-10 8-15 2-15 -5-7 -10-1 -15 3 -35 5 -49 7 -31 8 -19 5 -7zM415 988l10 -1 5 3 6 10 5 25-1 35-5 60-3 15-7 9-5 3-15 3-10 -2-6 -3-6 -10-1 -10 6 -65 6 -35 9 -25 7 -9zM260 1003l10 -1 5 3 5 7 5 23v30l-6 60-2 10-7 10-5 3-15 2-10 -2-6 -3-5 -10v-10l5 -60 6 -30 10 -23zM105 1017l10 -1 5 2 5 7 5 20v30l-7 60-8 11-10 4-10 1-14 -6-3 -5-2 -10 9 -76 9 -24 6 -9z"/><path fill="#008cc8" d="M1535 940l5 -2 5 1 5 5 6 11 4 25 1 45-6 95-4 10-6 7-6 3-9 2-11 -2-9 -7-3 -8-2 -15 5 -85 5 -40 5 -22 5 -12zM1700 938l5 -2 5 1 5 5 5 10 5 28 1 45-4 80-2 14-5 11-5 5-15 4-10 -2-7 -7-4 -10-1 -15 4 -75 4 -40 9 -38zM1370 944l5 -1 8 2 4 5 5 10 4 25 1 40-6 95-4 10-7 9-15 5-10 -1-10 -7-5 -11-1 -15 6 -85 5 -38 10 -31zM1870 943l5 -1 5 4 6 14 4 25 1 40-3 80-2 10-6 11-5 5-10 3-10 -3-5 -4-5 -10-1 -12 3 -80 4 -35 4 -21 5 -14 5 -9zM1210 950l10 1 5 6 5 11 4 32v40l-5 70-2 15-5 10-5 5-7 4-10 1-10 -2-10 -8-3 -10-1 -15 5 -75 7 -45 8 -25 7 -10zM1045 959l10 -1 5 2 5 7 3 8 4 30v40l-7 81-4 9-6 6-10 4-10 1-10 -4-5 -4-4 -8-2 -15 6 -75 5 -37 10 -32zM2030 962v165l-5 -3-5 -7-3 -17 4 -90 4 -29zM885 967l10 -1 5 2 7 12 5 25-1 45-4 65-4 15-8 11-10 5h-10l-10 -3-5 -4-4 -9-1 -15 5 -70 5 -35 9 -30zM730 974l10 1 5 5 5 13 2 12 1 40-5 70-3 15-7 10-8 5-15 2-7 -2-7 -5-4 -10-1 -10 5 -60 4 -35 6 -25 9 -19zM570 984l10 -1 5 3 5 9 5 25v35l-6 65-2 10-6 10-6 4-15 3-10 -2-6 -5-4 -10v-10l5 -64 5 -32 10 -29zM415 997h10l5 4 4 9 4 25-1 30-5 55-2 12-5 8-5 4-15 3-10 -2-6 -5-4 -10v-10l5 -57 5 -30 10 -26zM260 1011l5 -1 5 1 5 5 4 9 3 20-1 30-5 50-3 10-8 9-15 3-9 -2-6 -5-3 -5-1 -10 6 -55 4 -25 9 -24zM110 1024l5 1 5 4 5 11 1 10 1 25-5 50-2 10-5 7-10 5h-10l-10 -3-5 -9 4 -55 5 -25 6 -17 5 -8z"/><path fill="#006ebe" d="M1540 950l5 2 5 6 7 27 1 40-3 68-1 17-4 15-10 10-10 3-10 -2-5 -3-6 -13-1 -10 2 -46 4 -54 6 -32 10 -22 5 -5zM1705 950l5 2 5 7 5 16 2 15 1 35-4 80-3 15-6 9-5 3-10 2-11 -4-4 -5-3 -10 2 -80 5 -40 5 -25 6 -12 5 -6zM1370 955l5 -2 5 1 5 5 5 12 4 24v35l-6 90-8 14-5 4-10 2-10 -1-9 -9-3 -10-1 -10 8 -105 9 -35 6 -11zM1210 960l5 -1 5 3 5 8 3 10 3 25v40l-6 77-4 8-6 7-5 3-10 2-10 -3-5 -4-5 -10-1 -15 5 -75 5 -35 5 -20 5 -10 6 -8zM1865 965l5 -4h5l5 7 5 19 2 33-5 90-7 13-10 4-8 -2-5 -5-4 -15 6 -100 5 -25zM1045 969l5 -2h5l5 4 5 10 4 24 1 30-6 85-4 10-5 7-5 3-10 3-10 -2-8 -6-4 -10-1 -10 5 -70 4 -30 9 -33zM890 974l5 1 5 4 3 6 6 25v35l-5 70-4 15-5 7-10 5-10 1-10 -4-5 -6-3 -8 5 -70 3 -29 6 -26 9 -19zM730 983l5 -1 5 3 7 15 3 20v35l-6 70-4 8-5 6-5 3-10 2-10 -2-8 -7-3 -10v-10l5 -65 6 -34 10 -25zM570 993l5 -1 5 1 5 5 3 7 4 20v35l-7 68-4 7-6 6-15 3-10 -3-5 -6-3 -15 5 -60 5 -30 8 -25zM2030 993v124l-6 -7-1 -10 3 -75zM420 1005l5 2 5 7 5 21v25l-5 60-3 10-7 10-15 4-11 -4-6 -10 5 -65 4 -25 6 -20 7 -10 5 -4zM265 1020l5 2 5 8 3 20v20l-5 55-3 10-5 5-5 3-10 1-10 -4-5 -10 5 -60 5 -25 5 -13 5 -7 5 -4zM110 1034l5 2 5 7 3 17-4 65-3 10-4 5-7 3-10 1-8 -4-4 -10 4 -50 8 -31 5 -9 5 -4z"/><path fill="#0050af" d="M1375 964l5 2 5 8 5 19 2 32-2 38-5 57-6 10-7 5-7 1-10 -2-5 -4-4 -10-1 -15 5 -75 5 -33 5 -16 5 -10 5 -5zM1535 963l5 -1 5 4 5 9 4 25 1 31-5 84-5 10-4 5-11 4-10 -3-5 -5-4 -16 4 -78 3 -27 7 -27 5 -10zM1210 970h5l5 5 5 11 3 24v35l-6 75-7 13-5 3-10 2-10 -3-5 -5-3 -10-1 -10 5 -65 4 -35 5 -19 5 -12 5 -6zM1700 967l5 -2 5 3 5 12 3 25 1 25-4 80-4 10-4 5-7 4h-5l-10 -5-4 -9-1 -10 5 -95 5 -23 5 -13zM1045 979l5 -2 5 1 7 12 4 20 1 30-6 80-6 12-5 4-10 3-10 -2-5 -4-4 -8-1 -10 4 -70 4 -25 7 -26zM890 984l5 1 5 6 6 24v35l-5 65-2 10-7 10-7 4-10 1-10 -6-5 -14 5 -70 4 -30 6 -19 5 -10 5 -5zM1870 983l5 3 5 18v51l-2 50-5 10-8 5-5 -2-5 -6-1 -12 5 -90 6 -21zM725 995l5 -3h5l7 8 5 20v30l-6 75-6 10-5 3-10 3-6 -1-8 -5-3 -5-2 -10 5 -60 4 -30 6 -20zM570 1003l5 -2 5 2 5 8 4 19v30l-6 65-8 12-5 2-10 2-11 -6-2 -5-2 -10 5 -60 4 -25 6 -19 5 -8zM410 1020l5 -4 5 -1 6 5 4 15 1 25-6 67-5 8-5 4-10 1-10 -4-4 -11 6 -70 5 -20zM260 1031h5l5 4 5 20-5 69-5 11-5 4-10 1-9 -5-3 -5 2 -27 6 -48 6 -15zM105 1047l5 -1 5 4 4 15v15l-5 50-4 6-10 4h-5l-5 -3-3 -7v-5l6 -55 7 -18z"/><path fill="#0032a0" d="M1370 978l5 -1 5 3 5 12 3 18v25l-5 80-3 8-5 6-10 3-8 -2-5 -5-4 -15 7 -94 5 -21 5 -11zM1535 977h5l5 5 3 8 2 15 1 30-4 75-2 7-5 8-10 4-10 -4-3 -5-3 -15 6 -86 5 -24 5 -12zM1205 984l5 -3 5 1 5 7 5 21 1 30-6 78-8 12-12 4-10 -4-3 -5-3 -15 7 -85 4 -20 5 -13zM1700 985l5 -1 5 7 4 19v25l-4 75-5 9-5 3-5 1-5 -2-4 -6-2 -10 6 -90 5 -22zM1045 989l5 -1 5 2 5 10 3 20 1 25-6 75-8 12-10 3h-5l-8 -5-3 -5-1 -10 7 -88 5 -21 5 -11zM890 995l5 2 4 8 4 20v25l-4 65-3 10-6 7-5 3-10 1-9 -6-3 -10 5 -70 7 -37 5 -11 5 -6zM725 1005l5 -3 5 1 5 8 4 19v20l-5 70-4 9-5 5-10 3-10 -3-5 -9-1 -5 7 -75 4 -20 5 -13zM570 1013l5 -1 4 3 4 10 3 20-1 25-6 55-8 10-11 2-5 -2-6 -10 1 -27 6 -53 4 -16 5 -11zM415 1027h5l2 3 3 5 2 10 1 20-3 32-2 23-3 9-7 6-8 1-5 -2-6 -9 5 -55 6 -29 5 -10zM260 1044l5 1 5 15-5 65-5 8-10 2-5 -3-2 -7 4 -50 5 -20 3 -6zM105 1061l5 1 1 3 2 15-4 45-4 8-5 2-5 -2-2 -3v-5l4 -45 3 -12z"/><path fill="#001491" d="M1210 994l5 3 4 8 3 20-4 85-3 10-3 5-7 4-5 1-8 -5-4 -10 4 -65 3 -27 5 -17 5 -9zM1370 992l5 -1 6 9 3 20v20l-4 72-5 11-10 4-5 -1-5 -4-3 -12 6 -85 6 -25zM1535 994l5 1 5 12 1 33-3 70-6 10-7 3-5 -1-5 -6-1 -11 6 -85 5 -19zM1045 1002l5 -2 5 5 2 5 3 18v22l-5 67-5 9-10 5-5 -1-5 -3-4 -12 6 -80 5 -20zM885 1008l5 -1 6 8 3 15 1 20-6 70-4 7-10 5-5 -1-5 -3-4 -13 7 -75 5 -20zM730 1014l6 6 5 20-5 75-1 6-5 8-10 4-7 -3-4 -5 1 -37 5 -48 5 -15 5 -8zM1700 1012l5 1 2 12-2 67-3 18-2 3h-5l-4 -8 4 -75zM570 1026h5l5 9 2 25-5 60-2 5-4 5-6 2h-5l-5 -4-3 -8 7 -70 6 -18zM415 1042l5 3 2 15-4 60-3 8-5 3h-5l-5 -5-1 -6 5 -50 5 -20zM260 1065l2 10-2 30-3 20-2 2-5 -3 5 -52z"/><path fill="#000082" d="M1370 1010l5 1 1 4 3 25-4 70-5 10-5 1-5 -2-3 -9 4 -70 4 -22zM1205 1013l5 -3 5 7 2 28-5 70-2 5-5 3-5 1-6 -4-2 -10 5 -70 3 -16zM1045 1017h5l4 8 2 25-5 65-6 9-5 2-5 -2-5 -9 5 -70 5 -20zM885 1023h5l3 7 2 10v15l-4 60-6 10-5 2-6 -2-4 -10 6 -65 4 -19zM1535 1021l4 14-3 70-1 6-5 2-4 -3v-5l4 -70zM730 1030l5 10 1 10-5 65v5l-4 5-7 2-5 -2-2 -5 4 -60 4 -20 4 -8zM570 1043l5 5 1 17-5 55-6 6-5 -1-2 -10 5 -55 2 -9z"/></svg><div class="ax" style="left:60px;top:40px;width:1px;height:117px;background:#a0a0a0"></div><div class="ax" style="left:60px;top:156px;width:204px;height:1px;background:#4a4a4a"></div><div class="ax" style="left:61px;top:149px;width:2px;height:1px;background:rgba(40,40,40,.28)"></div><div class="ax" style="left:61px;top:142px;width:2px;height:1px;background:rgba(40,40,40,.28)"></div><div class="ax" style="left:61px;top:134px;width:2px;height:1px;background:rgba(40,40,40,.28)"></div><div class="ax" style="left:61px;top:127px;width:2px;height:1px;background:rgba(40,40,40,.28)"></div><div class="ax" style="left:61px;top:120px;width:3px;height:1px;background:rgba(0,0,0,.6)"></div><div class="ax" style="left:61px;top:112px;width:2px;height:1px;background:rgba(40,40,40,.28)"></div><div class="ax" style="left:61px;top:105px;width:2px;height:1px;background:rgba(40,40,40,.28)"></div><div class="ax" style="left:61px;top:98px;width:2px;height:1px;background:rgba(40,40,40,.28)"></div><div class="ax" style="left:61px;top:90px;width:2px;height:1px;background:rgba(40,40,40,.28)"></div><div class="ax" style="left:61px;top:83px;width:3px;height:1px;background:rgba(0,0,0,.6)"></div><div class="ax" style="left:61px;top:76px;width:2px;height:1px;background:rgba(40,40,40,.28)"></div><div class="ax" style="left:61px;top:68px;width:2px;height:1px;background:rgba(40,40,40,.28)"></div><div class="ax" style="left:61px;top:61px;width:2px;height:1px;background:rgba(40,40,40,.28)"></div><div class="ax" style="left:61px;top:54px;width:2px;height:1px;background:rgba(40,40,40,.28)"></div><div class="ax" style="left:61px;top:46px;width:3px;height:1px;background:rgba(0,0,0,.6)"></div><div class="ax" style="left:111px;top:153px;width:1px;height:3px;background:rgba(25,25,25,.75)"></div><div class="ax" style="left:162px;top:153px;width:1px;height:3px;background:rgba(25,25,25,.75)"></div><div class="ax" style="left:213px;top:153px;width:1px;height:3px;background:rgba(25,25,25,.75)"></div><div class="tl" style="right:492.5px;top:150.3px">0</div><div class="tl" style="right:492.5px;top:113.6px">0.05</div><div class="tl" style="right:492.5px;top:76.9px">0.1</div><div class="tl" style="right:492.5px;top:40.2px">0.15</div><div class="xl c" style="left:40.5px;top:155.8px">2</div><div class="xl c" style="left:91.5px;top:155.8px">4</div><div class="xl c" style="left:142.5px;top:155.8px">6</div><div class="xl c" style="left:193.5px;top:155.8px">8</div><div class="at c" style="left:142.5px;top:164.6px">x</div><div class="at yt" style="left:21.5px;top:90.3px">y</div><div class="cb" style="left:113px;top:5px;background:linear-gradient(90deg,#000082 0.00% 4.17%,#001491 4.17% 8.33%,#0032a0 8.33% 12.50%,#0050af 12.50% 16.67%,#006ebe 16.67% 20.83%,#008cc8 20.83% 25.00%,#00aad7 25.00% 29.17%,#00cdeb 29.17% 33.33%,#00ebff 33.33% 37.50%,#00fad7 37.50% 41.67%,#00ffa0 41.67% 45.83%,#00fa5a 45.83% 50.00%,#00ff14 50.00% 54.17%,#78ff00 54.17% 58.33%,#c8ff00 58.33% 62.50%,#fff500 62.50% 66.67%,#f0dc00 66.67% 70.83%,#e6c300 70.83% 75.00%,#dcaa00 75.00% 79.17%,#d28c00 79.17% 83.33%,#c86e00 83.33% 87.50%,#be5000 87.50% 91.67%,#af3200 91.67% 95.83%,#a01400 95.83% 100.00%)"></div><div class="lg" style="left:71.5px;top:26.4px">u:</div><div class="lg" style="left:89.8px;top:26.4px">-6.0x10<sup>-05</sup></div><div class="lg" style="left:151.2px;top:26.4px">4.0x10<sup>-05</sup></div><svg class="fs" style="left:335px;top:40px" width="203" height="116" viewBox="0 0 2030 1160" fill-rule="evenodd"><rect width="2030" height="1160" fill="#00fa5a"/><path fill="#00ff14" d="M10 0h92l-3 430-5 365v175l-6 5-49 5-9 2-3 3-17 175h-10v-179l10 -2 6 -4v-175l-5 -370-3 -430zM165 0h93l-4 430-5 365v165l-2 5-2 1-50 5-12 4-18 185h-79l18 -180 11 -4 53 -6 3 -5v-170l-5 -365-3 -430zM320 0h94l-8 750v200l-1 5-5 2-50 5-10 4-19 194h-80l19 -190 10 -3 55 -7 2 -5v-160l-5 -365zM480 0h91l-7 710-1 235-58 8-6 2-3 5-17 200h-81l18 -195 2 -5 7 -2 59 -8v-215l-8 -735zM635 0h94l-5 430-2 505-12 4-50 6-6 5-17 210h-81l17 -205 4 -5 3 -1 50 -6 12 -3-1 -365zM795 0h93l-4 355-2 570-12 4-49 6-7 5-17 220h-82l17 -215 3 -4 5 -2 50 -5 12 -4-3 -565zM960 0h88l-4 380-2 535-2 3-6 2-48 5-12 5-17 230h-82l17 -225 9 -5 49 -5 12 -5-2 -540-4 -380zM1120 0h89l-3 400-2 505-5 5-49 5-14 5-17 240h-83l17 -235 14 -5 49 -5 7 -5-1 -550-4 -360zM1285 0h87l-3 370-1 525-3 5-5 1-55 6-6 3-2 5-15 245h-83l16 -243 10 -6 56 -6 5 -5-1 -430-4 -470zM1445 0h92l-3 350-2 535-2 5-5 1-55 7-7 2-3 5-14 255h-84l15 -250 2 -5 6 -2 60 -8 4 -5zM1610 0h94l-4 330-2 545-3 5-5 2-55 6-7 2-3 5-13 265h-85l14 -260 3 -5 6 -2 60 -7 5 -6zM1775 0h98l-7 585-1 280-3 5-7 2-55 6-6 2-3 5-13 275h-85l13 -270 3 -5 6 -2 60 -7 3 -1 3 -5-2 -485-5 -385zM1940 0h90v857l-10 4-55 6-6 3-2 5-11 285h-86l12 -280 3 -5 5 -2 60 -7 4 -1 5 -5-11 -860z"/><path fill="#78ff00" d="M30 0h51l-2 650 7 285-2 15-6 10-8 5-15 3-15 -2-10 -6-5 -10-1 -10 7 -290zM185 0h52l-2 650 7 275-2 15-5 9-10 7-15 3-15 -2-10 -6-5 -10-1 -11 6 -280-1 -650zM340 0h54v650l5 265-3 15-6 11-10 6-15 2-15 -1-10 -7-5 -11-1 -10 6 -270zM500 0h52l5 905-3 15-5 10-14 8-15 2-10 -1-10 -5-6 -9-3 -15 4 -260 1 -650zM655 0h57l5 445-1 450-4 20-7 9-10 5-15 2-15 -2-10 -6-5 -12-2 -16v-390l4 -505zM815 0h59l3 505v380l-4 20-8 10-10 5-15 2-15 -1-10 -6-6 -10-2 -20-1 -530 4 -355zM970 0h66l3 550-1 320-2 20-6 13-10 7-20 3-15 -1-10 -5-6 -12-3 -20v-490l3 -385zM1130 0h68l3 505-1 360-3 20-7 10-15 7-15 2-15 -2-10 -6-5 -11-3 -20-1 -360zM1295 0h67l3 490-1 360-3 20-6 14-10 6-20 4-20 -2-8 -7-5 -10-2 -20v-700l2 -155zM1460 0h66l3 500-1 340-3 20-5 12-10 8-20 4-20 -2-9 -7-5 -10-2 -20v-690l1 -155zM1625 0h65l3 505v320l-3 22-6 13-9 8-20 5-15 -1-12 -7-7 -15-2 -20v-585l3 -245zM1795 0h57l6 570-1 245-3 20-8 15-11 8-15 2-15 -2-10 -7-5 -11-3 -25-1 -420 5 -395zM1965 0h50l-2 305 2 345-2 150-2 15-6 14-10 8-10 1-10 -3-5 -5-5 -11-3 -19-2 -150 5 -440zM1910 884l15 1 10 4 8 11 4 15 2 60-4 135-4 30-6 12-5 3-10 3-25 1-10 -1-10 -4-5 -5-3 -9-1 -30 4 -105 5 -60 7 -35 8 -16 10 -7zM1735 894l20 -2 10 2 8 6 7 17 3 28-2 80-6 111-5 14-5 5-10 4-11 1-24 -1-14 -4-6 -10-2 -15 6 -125 6 -68 5 -22 5 -10 5 -5zM1580 900h15l11 5 7 10 3 15 1 60-7 135-3 20-7 10-15 5h-32l-15 -5-3 -5-3 -15 4 -95 6 -75 4 -30 7 -20 12 -11zM1410 909l15 -1 15 4 7 8 5 15v60l-7 130-3 20-7 11-11 4h-40l-9 -3-5 -5-3 -17 10 -160 4 -30 6 -20 8 -10zM1240 920l20 -3 15 2 5 3 5 7 4 16v60l-8 125-2 15-4 8-5 4-8 3-47 -1-7 -4-3 -6-1 -9 6 -110 6 -70 4 -17 5 -12 5 -6zM1075 930l20 -4h10l10 3 5 4 4 7 3 15-1 60-8 120-3 13-4 7-10 5h-47l-9 -5-4 -10v-20l5 -75 8 -80 6 -25 5 -8zM930 935h15l10 3 6 7 4 15v60l-9 120-6 15-9 5h-50l-8 -5-3 -10v-10l7 -105 6 -55 6 -20 6 -11 10 -6zM760 945l20 -2 15 4 7 8 3 10v50l-9 120-3 15-8 9-55 1-7 -5-3 -8v-12l12 -140 3 -20 5 -15 9 -10zM600 955l20 -2 13 2 7 5 5 11 2 19-1 30-9 115-4 15-3 5-5 4-53 1-8 -5-3 -15 12 -135 3 -20 5 -15 8 -10zM445 965l15 -2 15 2 6 5 5 10 2 15-1 30-9 110-4 15-4 6-5 3-49 1-9 -5-4 -15 12 -124 5 -25 5 -13 8 -8zM290 974l15 -1 15 4 6 8 3 10v45l-9 98-5 15-10 7h-45l-10 -6-3 -14 12 -120 4 -20 7 -14 10 -9zM130 984l15 -2 15 2 8 6 4 10 1 40-9 95-4 16-5 6-5 2-47 1-9 -5-3 -15 11 -105 4 -20 5 -15 8 -10zM5 994l5 3 5 8 3 30-9 100-4 15-5 7v-165z"/><path fill="#c8ff00" d="M205 0h11l1 215-2 149-4 66 4 33 5 187 14 260v20l-4 9-10 8-10 2-10 -1-6 -3-7 -10-1 -10 9 -190 6 -85 4 -172 4 -48-4 -100-2 -115zM360 0h15l3 430 3 220 10 260-1 12-5 9-10 7-10 2-10 -2-5 -3-7 -10-1 -10 11 -265 3 -220 2 -430zM515 0h21l1 210 12 690-2 15-7 9-10 5-10 1-10 -3-5 -3-5 -9-1 -10 6 -255 8 -650zM670 0h28l11 460v435l-2 10-7 10-10 5-10 1-10 -1-7 -5-6 -10-2 -10 1 -360 11 -535zM825 0h36l8 315 3 335-1 230-3 15-7 10-11 6-10 2-10 -2-10 -6-5 -8-2 -12-2 -235 3 -300 9 -350zM980 0h45l9 550-1 320-3 15-5 9-10 7-15 3-15 -3-7 -6-5 -10-2 -15v-365l3 -240zM1140 0h48l2 50 6 455v355l-3 15-8 12-10 5-15 3-10 -2-10 -6-6 -12-2 -15v-340zM1305 0h47l3 129 5 376-1 340-3 20-6 10-10 7-15 3-15 -3-9 -7-5 -10-2 -15v-345l4 -350 3 -155zM1470 0h46l2 75 6 420-1 340-2 15-6 13-10 7-15 4-15 -2-9 -7-5 -10-3 -15v-335l4 -350 3 -155zM1635 0h43l7 295 4 355-2 175-3 15-5 10-9 8-15 4-10 -1-11 -6-6 -10-4 -20-1 -235 3 -290 7 -300zM1810 0h26l15 545v110l-2 160-4 15-5 9-10 6-10 2-11 -2-10 -10-5 -15-1 -25-1 -145 2 -230 13 -420zM55 157l2 53-2 33-1 -33zM1990 477l5 60 4 118-4 145-5 8h-5l-3 -3-2 -10-4 -145 7 -145 2 -24zM55 524l5 68 1 58 9 103 8 157v25l-2 10-9 10-12 3-15 -3-7 -10-1 -10 8 -175 9 -110zM1910 900h10l10 5 5 7 5 13 5 45-1 70-3 70-4 25-6 10-6 5-10 3-15 1-15 -3-10 -7-5 -14-1 -25 5 -105 7 -55 4 -18 5 -12 10 -11zM1735 908l10 -3 10 1 10 5 5 7 4 12 3 15 2 45-4 120-4 25-5 10-6 5-10 4-15 2-20 -4-9 -7-3 -10-2 -20 6 -105 5 -55 9 -30 6 -10zM1570 914l10 -3 10 1 10 5 5 6 7 22 2 40-5 125-4 25-4 10-6 6-10 4-15 2-18 -2-10 -5-5 -10-2 -20 5 -100 6 -60 9 -30 5 -8zM1410 920l10 -2 10 2 10 8 5 10 4 32-1 60-4 85-4 25-7 10-8 5-25 3-15 -3-10 -6-5 -14v-20l6 -100 7 -55 6 -20 6 -10 5 -5zM1245 928l10 -2 10 1 10 6 5 7 4 15 2 15-1 60-5 90-5 23-5 8-7 4-13 3h-15l-15 -2-9 -6-4 -10-1 -20 7 -100 6 -50 6 -20 5 -10 5 -6zM1095 935l10 2 10 7 5 10 3 16v55l-6 100-5 20-7 8-15 5h-25l-15 -6-4 -7-2 -10 4 -80 6 -60 6 -30 7 -15 3 -5 10 -7zM925 944h15l10 4 6 7 5 15 1 50-6 100-4 20-7 13-15 5-25 1-15 -5-5 -6-2 -8-1 -20 7 -85 5 -40 6 -26 10 -17zM760 954l15 -3 10 2 10 7 3 5 4 25v40l-7 95-4 20-6 8-5 3-10 3h-20l-15 -2-10 -7-3 -10v-15l8 -90 6 -45 9 -24 5 -6zM600 964l10 -3h10l10 3 6 6 4 10 3 15-1 45-6 85-5 20-6 9-5 2-15 3h-15l-15 -2-8 -7-3 -10v-15l7 -80 6 -45 8 -22 6 -8zM445 974l10 -2 10 1 10 6 5 8 4 28-3 55-5 60-6 19-5 5-10 3-25 1-14 -3-6 -5-3 -10v-15l7 -75 6 -40 10 -24 5 -6zM290 984l10 -1 10 2 7 5 6 10 3 25-3 50-5 55-4 15-4 6-10 5-25 2-15 -3-6 -5-3 -10v-15l7 -70 7 -40 10 -21 5 -5zM130 995l10 -3 10 1 10 5 5 7 4 20-1 35-6 70-4 15-3 5-10 6-25 2-10 -1-10 -5-4 -7-1 -15 6 -65 8 -40 8 -20zM2 1005l5 5 4 10 2 30-7 80-2 10-4 9v-145z"/><path fill="#fff500" d="M995 0h16l10 245 8 405-2 220-2 10-5 8-10 6-10 1-10 -2-5 -3-6 -10-2 -85-1 -145 4 -269 3 -121zM1155 0h21l9 264 6 386-1 210-3 10-7 10-10 5-10 1-10 -3-5 -3-6 -10-2 -75-1 -145 4 -270 10 -330 3 -50zM1315 0h25l6 155 7 350 2 150-2 190-3 15-5 8-10 6-10 2-15 -4-8 -12-2 -10-1 -50 1 -315 7 -330 7 -155zM1480 0h24l7 155 7 350 1 150-2 180-2 11-5 9-10 8-10 2-15 -4-8 -11-3 -10v-40l-1 -150 2 -213 6 -282 7 -155zM1655 2l5 17 5 60 11 206 6 365-2 175-3 10-7 10-5 4-10 2-10 -1-5 -3-5 -7-3 -10-3 -180 7 -395 9 -166 5 -64zM840 98l5 5 15 217 6 335-2 225-2 10-7 9-5 3-10 1-10 -2-5 -4-5 -12-2 -230 5 -315 12 -195zM680 270l5 -3 5 34 5 69 5 100 2 185-1 240-6 11-6 4-9 1-6 -1-7 -5-3 -5-1 -10 2 -365 5 -140 5 -74zM1820 278l5 11 3 26 7 91 6 114 2 130-3 165-4 10-4 5-12 4-11 -4-4 -6-3 -9-2 -165 5 -233 10 -120zM525 659l5 19 5 61 5 161-2 10-3 5-10 4h-5l-8 -4-4 -10 7 -164 5 -60zM365 775l5 5 5 33 7 97-2 10-4 5-11 4-10 -4-4 -10 4 -66 5 -48zM210 819l5 10 5 33 4 48-1 20-3 5-10 4-10 -4-3 -10 3 -56 5 -37zM55 841l5 11 7 58-1 30-4 5-7 2-8 -2-3 -5-1 -5 2 -45 5 -36zM1910 914l10 1 10 9 5 12 4 19 2 55-3 95-3 21-7 14-13 8-15 1-15 -4-6 -5-4 -10-2 -20 2 -61 4 -59 6 -38 10 -26 5 -6zM1740 919l10 -1 10 5 5 6 5 11 4 30 1 50-4 90-3 20-5 10-8 7-10 4h-10l-15 -2-10 -8-4 -11-2 -20 5 -95 6 -48 5 -21 5 -12 5 -7zM1575 924l10 -2 10 5 5 5 5 11 5 37v60l-4 75-4 20-7 10-5 4-10 3-15 1-15 -4-9 -9-3 -10v-20l5 -95 7 -50 5 -18 5 -10 5 -7zM1415 929l10 1 10 6 5 9 5 20 1 55-5 95-3 20-8 12-10 5-20 2-10 -1-10 -6-6 -12-2 -20 4 -70 6 -55 8 -35 10 -18 5 -4zM1245 938l10 -2 10 2 5 3 6 9 6 25 1 45-5 95-4 20-4 9-6 6-9 4-15 1-15 -2-10 -6-5 -9-2 -18 6 -90 6 -45 5 -20 5 -12 6 -8zM1090 944l10 1 10 6 5 9 4 15 2 50-6 95-5 20-8 10-12 5h-20l-16 -5-4 -5-3 -10-1 -15 6 -85 5 -40 8 -29 10 -15zM920 954l10 -3 10 1 10 7 4 6 5 25 1 35-6 95-4 18-5 9-5 4-10 4-15 1-15 -2-10 -5-4 -9-2 -15 6 -80 7 -50 8 -25 5 -8zM770 959l10 1 10 6 5 9 3 15 1 45-6 85-3 18-7 12-13 6-20 1-15 -4-5 -3-5 -10v-20l5 -70 7 -45 7 -25 11 -15zM610 969h10l10 6 5 8 3 12 2 45-7 85-3 15-7 10-13 6h-20l-15 -4-5 -4-3 -8-1 -15 6 -70 6 -40 7 -25 10 -14zM445 983l10 -2 10 2 5 3 5 7 5 22v40l-6 70-4 16-5 7-5 4-10 3-15 1-10 -2-10 -5-5 -9-1 -15 6 -65 7 -40 8 -22 6 -8zM290 993l10 -1 10 4 5 5 5 14 2 40-6 70-4 15-7 10-15 5h-15l-10 -2-9 -8-3 -15 2 -21 5 -49 7 -35 9 -20 4 -5zM130 1004l15 -3 9 4 4 5 6 15 1 30-6 70-3 15-6 9-5 3-20 3-10 -1-11 -4-5 -10-1 -10 6 -60 6 -33 9 -22zM3 1020l5 15 1 25-6 70-3 12v-127z"/><path fill="#f0dc00" d="M1325 160l5 12 10 160 6 158 2 165-2 190-2 10-4 6-6 4-9 2-10 -3-5 -5-3 -9-2 -195 3 -165 7 -185zM1490 157l5 26 10 169 5 153 2 150-2 180-3 10-4 5-13 5-10 -2-5 -5-3 -8-3 -185 7 -285 4 -93zM1165 213l5 30 5 72 7 190 3 150-3 205-2 7-5 6-10 4-10 -2-5 -3-5 -12-2 -205 2 -140 8 -195 7 -94zM1000 266l5 1 7 83 7 155 3 150-3 215-4 10-8 5-7 1-10 -5-4 -11-3 -215 7 -257 5 -90zM1655 287l5 18 5 68 9 282-3 170-6 10-10 5-10 -4-5 -11-3 -170 8 -262 5 -78zM840 365l5 7 5 61 7 222-3 225-4 9-10 3-6 -2-3 -5-1 -5-3 -225 5 -170 3 -71zM1820 544l5 15 5 96-5 126-5 20-5 -63-3 -83 3 -64zM685 612l2 43-1 235-1 5h-5l-1 -240 1 -36zM1910 929l10 2 5 5 5 10 5 21 2 48-3 90-3 20-6 10-10 7-15 2-10 -3-5 -3-5 -8-3 -10 2 -85 4 -45 7 -34 10 -20zM1575 935l10 -1 5 2 5 4 5 10 6 30 1 45-4 85-3 19-5 10-5 5-10 4-10 1-15 -2-9 -7-4 -10-2 -15 5 -85 5 -45 5 -22 5 -13 5 -8zM1740 932l10 -1 5 2 5 5 5 10 5 27 2 50-4 85-2 15-5 10-6 6-10 5-10 1-10 -1-10 -6-5 -10-3 -20 5 -85 5 -45 8 -30 6 -10zM1415 939l10 1 6 5 6 10 5 20 1 50-4 90-4 18-9 12-11 5-15 1-10 -2-6 -4-5 -5-3 -10-1 -15 4 -75 5 -45 7 -30 9 -17 5 -5zM1255 945l10 3 5 5 5 10 4 17 1 50-5 85-4 20-6 9-10 6-20 2-10 -3-7 -4-3 -5-3 -10-1 -15 5 -80 6 -40 8 -30 10 -14 5 -4zM1085 954l10 -1 5 1 8 6 5 10 5 30-1 45-5 75-3 15-6 10-8 5-20 3-13 -3-7 -5-5 -10-2 -15 6 -80 6 -42 10 -30 6 -8zM930 959l10 2 5 4 6 10 4 15 2 45-6 85-3 15-8 12-15 6h-15l-15 -5-5 -6-2 -7-1 -15 6 -75 5 -40 7 -23 10 -16 5 -3zM760 970l15 -3 10 5 5 6 6 22 1 35-6 85-3 15-5 10-6 5-12 4h-10l-15 -2-9 -7-4 -10v-10l6 -75 6 -40 8 -25 7 -10zM605 978l10 -1 5 1 5 2 7 10 5 25v40l-6 70-4 15-4 5-8 6-20 3-10 -1-10 -5-5 -8-2 -15 6 -70 7 -40 9 -23 5 -7zM455 990l10 3 5 5 5 12 1 10 1 35-6 70-4 15-7 8-10 4-15 1-15 -5-5 -6-2 -7 5 -75 5 -30 7 -20 10 -14 5 -4zM290 1003l10 -2 5 2 5 5 4 7 4 20v35l-5 55-3 12-5 7-5 4-10 3-10 1-11 -2-8 -5-4 -10v-10l6 -60 6 -30 8 -20 8 -10zM130 1014l10 -4 5 1 5 2 5 6 5 16 1 30-7 70-4 8-5 4-10 4-10 1-12 -2-8 -5-2 -5-2 -10 5 -50 5 -30 9 -25zM0 1030l5 15 1 20-6 64z"/><path fill="#e6c300" d="M1325 478l5 7 5 52 5 118-2 145-3 45-1 5-4 4-5 1-6 -5-4 -48-2 -147 7 -142zM1490 481l5 15 1 9 4 60 3 90-3 150-3 30-2 4-5 2-5 -3-1 -3-3 -35-3 -145 7 -145zM1165 506l5 33 6 116-2 145-4 59-5 4-5 -1-2 -2-3 -36-3 -169 3 -72 5 -64zM1000 579h5l6 71-3 145-3 34h-5l-3 -29-2 -91-1 -59zM1655 641l2 14-2 16-1 -16zM1580 944l10 4 5 7 5 13 3 17 1 45-4 80-2 15-8 13-10 6-15 1-10 -3-5 -4-6 -13-1 -15 4 -75 5 -40 8 -30 10 -16zM1740 945l5 -2 6 2 6 5 5 10 5 30 1 40-5 90-3 9-5 6-10 6-10 2-10 -2-8 -6-5 -10-1 -15 4 -80 4 -40 9 -30 7 -11zM1910 944l5 1 5 3 8 17 4 25 1 40-4 85-3 10-6 8-5 3-10 3-10 -2-10 -7-4 -10-1 -15 4 -80 5 -40 5 -20 5 -10 6 -8zM1410 950l10 -1 5 2 5 5 5 10 5 29v40l-6 90-4 10-5 6-10 5-10 2-14 -3-7 -5-5 -10-2 -15 5 -80 6 -40 9 -30 7 -10zM1250 954l10 1 5 4 8 16 4 30v45l-4 65-3 15-5 9-5 5-10 4-10 1-15 -4-6 -5-5 -10-1 -15 6 -80 6 -40 10 -28 5 -6zM1085 963l10 -2 5 2 5 5 5 10 5 27v45l-5 70-4 15-6 8-5 3-10 3-10 1-10 -2-10 -8-3 -10-1 -15 5 -70 6 -40 8 -26 6 -9zM925 968h10l5 2 5 5 5 11 4 29v40l-5 65-4 15-5 8-5 4-10 3-10 1-10 -2-10 -5-5 -9-1 -15 6 -75 5 -35 10 -28 5 -7zM770 974l10 3 5 4 5 10 3 14 1 40-5 75-3 15-7 10-14 6h-15l-10 -3-5 -3-3 -5-3 -10 6 -80 5 -33 7 -22 10 -15zM610 984l10 2 5 4 5 9 3 16 1 35-5 70-3 15-6 9-10 6-15 1-15 -4-5 -4-3 -8-1 -10 4 -55 5 -36 8 -29 11 -15zM450 999l10 1 5 3 5 9 3 13 1 35-5 60-3 15-6 8-10 5-15 2-12 -5-7 -10-1 -10 5 -55 5 -30 5 -18 10 -17zM290 1012l10 -1 5 3 5 8 5 23-1 30-4 50-3 10-9 10-8 3-10 1-10 -3-5 -3-4 -8-1 -10 5 -53 5 -27 10 -24zM140 1020l5 1 5 4 5 10 2 10v30l-5 55-5 10-5 5-12 4-10 -1-10 -4-5 -9 5 -61 5 -24 5 -13 10 -14zM0 1050l1 20-1 23z"/><path fill="#dcaa00" d="M1415 958l5 1 7 6 8 20 3 30-1 35-3 60-3 15-5 10-6 5-15 4-10 -2-10 -7-4 -10-1 -15 5 -75 5 -35 10 -29 5 -7zM1575 957l5 -1 5 1 5 4 5 10 5 26 1 38-5 85-8 15-8 5-10 2-10 -2-7 -5-5 -10-2 -15 4 -72 5 -39 9 -29 6 -9zM1740 958l5 -1 5 2 5 5 5 11 4 25 1 35-5 82-5 11-5 5-5 3-10 2-10 -3-6 -5-4 -10-1 -10 4 -75 3 -30 9 -33zM1250 964l10 1 5 5 5 11 4 29v40l-5 75-4 8-6 7-9 5-10 1-10 -2-10 -8-4 -11v-10l5 -70 5 -40 9 -27 5 -7zM1905 964l5 -3 5 1 5 6 3 7 4 20 2 30-4 88-5 12-6 5-9 3-10 -2-5 -4-4 -7-2 -10 6 -103 5 -23 5 -13zM1090 970l10 3 5 7 6 25 1 40-4 70-3 15-7 10-9 5-14 2-10 -3-5 -4-6 -10v-15l4 -60 5 -40 7 -25 10 -15zM920 979l10 -4 5 1 5 4 5 7 6 23 1 35-5 75-3 10-4 8-5 5-10 4-10 1-10 -2-9 -6-4 -10-1 -10 5 -65 4 -30 9 -30zM765 983l10 -1 5 3 8 15 4 25-1 35-6 70-5 9-5 5-10 4-10 1-10 -2-10 -7-3 -10-1 -10 6 -65 5 -35 10 -25 8 -10zM605 993l10 -1 5 3 7 10 5 25-1 35-5 60-3 10-9 10-9 3-10 1-10 -3-8 -6-3 -10v-10l5 -60 6 -34 10 -24zM445 1010l10 -2 5 2 5 6 5 18 1 26-7 70-4 8-5 5-15 4-10 -2-7 -5-3 -5-2 -10 5 -55 4 -25 8 -23zM290 1022l5 -1 5 1 5 6 3 7 3 20-1 25-5 50-5 9-5 3-15 3-12 -5-3 -5-1 -10 8 -70 8 -23zM130 1034l5 -3 5 -1 5 3 5 7 3 15v20l-4 50-3 10-6 7-15 3-13 -5-4 -10 8 -65 4 -15z"/><path fill="#d28c00" d="M1415 969l5 1 5 5 5 11 3 19 2 35-4 70-2 10-4 10-10 8-10 2-10 -2-5 -3-6 -10-1 -10 2 -36 4 -49 6 -34 10 -21 5 -4zM1575 969l5 -1 5 2 5 7 3 8 4 25v30l-5 80-7 12-5 3-10 3-10 -3-6 -5-4 -10-1 -10 4 -70 4 -30 8 -28 5 -9zM1250 973h5l8 7 7 20 2 30-2 48-2 37-3 11-5 9-5 4-15 3-10 -2-6 -5-5 -10v-10l4 -70 6 -35 9 -25 7 -9zM1740 974l5 -2 5 3 5 10 5 25v30l-4 75-6 12-5 4-10 2-8 -3-5 -5-4 -15 3 -70 4 -30 5 -21 5 -10zM1090 979l5 1 8 10 6 25 1 30-5 70-3 15-7 8-10 5h-10l-10 -3-5 -5-4 -10 4 -70 5 -34 5 -19 10 -18zM925 985h10l5 5 5 11 4 24-1 35-4 60-3 10-6 9-5 3-15 3-10 -2-8 -8-3 -10v-10l5 -65 5 -30 10 -25 6 -7zM1905 984l5 -3 5 3 3 6 4 15 1 25-3 80-5 11-10 5-6 -1-6 -5-3 -7-1 -8 5 -85 5 -25zM770 989l5 2 5 4 5 10 3 15 1 35-5 65-2 10-7 11-10 5h-10l-10 -2-5 -3-6 -11 5 -70 4 -30 7 -22 10 -15zM605 1001h10l5 4 5 9 4 21v30l-7 65-6 10-6 4-15 2-10 -3-5 -5-3 -8-1 -10 5 -55 4 -26 10 -27zM445 1020l5 -3 5 1 7 7 4 15 1 25-6 65-9 10-12 3-10 -2-5 -5-3 -11 4 -50 4 -25 5 -16zM290 1033h5l5 3 5 11 2 18-2 28-5 39-9 8-11 1-10 -6-2 -5 2 -31 7 -44 6 -15zM135 1043h5l5 6 3 11 1 20-4 40-1 10-4 6-6 4-9 1-5 -1-5 -4-2 -6 2 -24 6 -41 4 -12 5 -7z"/><path fill="#c86e00" d="M1250 983l5 1 6 6 4 9 3 16 1 30-4 66-1 9-5 10-9 7-10 2-11 -4-4 -5-3 -10 3 -58 3 -32 6 -25 6 -13 5 -6zM1410 982l5 -1 5 2 5 7 5 20 1 35-5 75-6 10-7 5-8 1-7 -1-7 -5-3 -5-2 -10 4 -66 4 -29 6 -24 5 -9zM1575 982l5 -1 5 4 5 11 3 19 1 25-4 75-5 10-5 5-10 3-9 -3-5 -5-3 -15 4 -65 3 -29 5 -19 5 -10zM1085 990l5 -1 5 1 6 10 5 20 1 30-7 75-6 10-14 5-10 -1-5 -4-6 -10v-10l5 -65 4 -25 7 -23zM925 993h5l5 2 5 7 3 8 3 25-1 36-5 55-5 9-5 4-15 3-10 -3-5 -5-3 -9v-10l4 -55 4 -30 10 -27zM1740 991l5 -1 6 10 4 19v26l-4 70-6 9-10 2-5 -1-4 -5-3 -15 5 -80 6 -25zM765 998h5l5 2 5 6 3 9 3 20v30l-4 55-3 10-9 10-15 4-10 -3-5 -5-3 -6-1 -10 5 -55 4 -30 10 -27zM605 1010l5 -1 5 1 7 10 4 20v30l-7 60-9 10-15 3-8 -3-5 -5-2 -5-1 -10 8 -75 8 -24zM1905 1014l5 -3 2 4 3 9 1 11-3 70-3 8-5 3-5 -2-3 -9 3 -66zM450 1028l5 2 4 5 4 15v20l-3 39-2 16-3 7-5 5-10 2-11 -4-3 -10 4 -50 6 -30 5 -10 4 -4zM290 1047l5 1 4 7 2 20-4 50-2 5-5 5-5 1h-5l-5 -4-2 -7 7 -60 5 -13zM135 1058l5 4 2 13-4 50-3 8-5 2h-5l-6 -5 5 -50 6 -18z"/><path fill="#be5000" d="M1250 995l5 1 5 7 5 22v25l-4 65-1 6-5 8-5 4-10 2-10 -5-5 -10 4 -65 7 -40 4 -11 5 -7zM1410 995l5 -1 2 1 3 2 3 8 3 15 1 25-4 70-3 9-5 5-10 3-7 -2-5 -5-2 -5-1 -10 6 -80 5 -20 4 -10zM1090 999l5 3 4 8 4 20v25l-4 60-2 10-7 8-5 3h-10l-10 -6-3 -10 5 -70 3 -20 5 -16 5 -9 5 -5zM1575 998h5l5 7 4 20v20l-4 70-5 9-10 3-5 -1-5 -5-2 -11 5 -80 5 -20zM925 1003l5 -1 5 4 7 19 1 25-3 50-2 20-3 10-10 8-10 1-9 -4-4 -5-2 -5v-14l4 -56 4 -20 7 -22 5 -7zM765 1007h5l5 3 5 9 2 11 2 25-4 53-2 17-3 7-10 7-10 2-10 -4-5 -7v-23l4 -47 4 -25 7 -18 5 -7zM605 1019l5 -1 5 3 6 14 2 25-3 40-3 25-2 6-10 8h-10l-9 -4-4 -10 3 -39 6 -41 5 -15zM1740 1017l5 2 3 16-3 70v5l-3 5-7 2-5 -7v-5l4 -70zM445 1044l5 -2 5 5 3 23-5 55-3 6-10 3-8 -4-1 -5 4 -55 5 -18z"/><path fill="#af3200" d="M1250 1008l5 3 2 4 4 20-4 80-2 7-5 6-10 2-8 -5-3 -10 4 -60 2 -19 5 -17 5 -8zM1415 1010l5 8 2 17-3 75-4 12-5 4h-5l-5 -1-5 -10 4 -70 6 -28 5 -7zM925 1013l5 1 5 6 4 20-3 75-3 10-3 5-5 4-10 1-9 -5-3 -10 4 -55 3 -23 5 -17 5 -8zM1085 1012h5l6 8 3 15 1 20-5 65-5 8-10 4-10 -3-4 -9v-5l5 -70 6 -20 3 -8zM760 1020l5 -4 5 1 5 5 5 18v20l-5 65-8 10-12 2-5 -1-5 -5-3 -11 7 -70 5 -20zM1575 1020l5 3 2 17-2 65-2 10-3 3-5 2-5 -4-1 -6 1 -27 4 -48zM605 1030l5 -1 5 6 4 15v15l-5 60-4 6-10 5-10 -3-4 -8v-5l7 -65 7 -20zM445 1070l3 5-3 40-2 -15z"/><path fill="#a01400" d="M765 1027l5 2 3 6 3 15-4 70-5 10-7 3h-5l-6 -3-3 -10 4 -54 5 -25 5 -10zM920 1030l5 -4 5 2 4 12 1 15-4 65-6 9-5 2h-5l-5 -4-3 -7 5 -65 3 -14zM1085 1028l5 1 2 6 3 20-5 64-5 7-5 1-6 -2-3 -5v-5l4 -62 5 -19zM1245 1028l5 -2 5 10v36l-3 43-2 5-5 4h-5l-5 -4-1 -5 1 -16 4 -54zM1410 1035l5 7v17l-3 51-2 6-5 1-2 -2-1 -5 3 -55zM605 1044l5 1 2 5 2 20-4 50-5 9-5 2-5 -1-4 -5v-5l5 -55 4 -15z"/><path fill="#00ffa0" d="M115 0h36l4 505 9 425-2 15-6 10-11 6-15 3-10 -1-10 -4-6 -9-3 -15 9 -430zM270 0h37l5 505 8 415-2 15-6 10-12 7-15 2-10 -1-10 -4-6 -9-3 -15 9 -420zM430 0h35l6 505 6 360v45l-4 20-3 5-10 7-20 3-10 -2-10 -5-6 -13-1 -15 7 -405 5 -505zM585 0h39l10 585 2 320-4 15-7 9-10 5-15 2-15 -3-10 -7-4 -11-1 -15 12 -900zM740 0h45l10 572 1 313-1 16-6 14-9 8-20 4-15 -2-10 -6-5 -9-3 -20 4 -465zM900 0h47l10 580 1 295-3 20-5 12-10 7-20 4-15 -2-10 -5-6 -11-3 -20v-225l4 -275 7 -380zM1060 0h49l9 525 1 340-2 20-7 14-15 8-15 2-15 -2-10 -5-6 -12-3 -20 1 -220 3 -278 7 -372zM1220 0h52l8 485 2 370-2 19-5 13-10 8-20 4-20 -2-10 -7-5 -13-2 -17 2 -379 8 -481zM1385 0h51l8 490 2 355-3 20-3 9-5 6-10 6-20 3-15 -1-11 -8-5 -10-3 -25 4 -498 6 -347zM1550 0h50l9 575 1 260-3 20-7 14-15 8-15 2-15 -2-11 -7-5 -10-3 -25 4 -515 6 -320zM1715 0h48l12 625v195l-2 20-8 16-10 7-20 4-15 -3-10 -7-5 -12-2 -25 2 -337zM1890 0h35l12 650 1 150-2 20-4 15-7 10-10 6-10 2-15 -3-10 -8-5 -12-3 -25 1 -190 13 -615zM0 515l9 425-2 15-7 10zM1985 884l15 -3 15 4 5 5 5 8 5 24v114l-5 96-4 13-6 8-10 4-15 2-20 -2-10 -4-5 -7-2 -6-1 -20 5 -125 5 -65 8 -30 5 -8zM1825 889h15l10 4 5 5 5 11 4 36-1 80-4 90-4 28-4 7-6 5-10 3-20 2-20 -4-7 -6-4 -15v-25l6 -125 6 -55 4 -18 5 -10 10 -9zM1650 900l20 -4 15 5 5 5 4 9 4 30-1 80-7 110-4 15-5 5-6 3-14 2h-21l-15 -4-5 -6-3 -15 5 -115 6 -75 7 -30 5 -8zM1495 905h15l10 3 7 7 5 15 1 25v35l-7 135-3 20-3 6-5 5-13 4h-32l-10 -3-5 -4-3 -8-1 -10 9 -158 5 -37 5 -17 10 -13zM1325 915l15 -2 15 3 5 3 5 6 3 10 2 20-1 35-7 135-3 20-4 8-5 4-9 3h-38l-11 -5-3 -5-2 -10 8 -144 5 -41 5 -22 10 -13zM1160 924l15 -2 15 1 10 7 5 13 2 22-1 30-7 130-5 25-4 5-5 3-6 2h-41l-10 -5-3 -5-1 -10 9 -140 4 -35 4 -20 9 -15zM995 935l20 -4 15 2 10 8 4 19v55l-9 120-5 18-5 5-7 2h-43l-9 -5-4 -10v-20l5 -75 8 -76 4 -19 4 -10zM850 939l15 1 10 4 5 6 4 15-1 60-9 115-4 12-5 6-5 2h-48l-8 -5-2 -5-1 -15 8 -105 6 -52 5 -18 5 -10 10 -7zM685 949h20l10 3 5 6 4 12v50l-9 115-4 15-6 8-5 2h-48l-7 -5-3 -10v-10l12 -140 4 -20 7 -15 10 -8zM525 960l15 -2 15 4 7 8 3 10v45l-9 110-4 15-7 8-5 2h-45l-8 -5-3 -15 11 -130 5 -24 5 -13 7 -8zM370 970l15 -1 10 2 8 9 3 10v45l-9 100-3 15-4 5-5 4-5 1h-40l-10 -5-3 -15 11 -120 5 -25 7 -14 10 -8zM210 980l15 -2 10 2 8 5 5 10 2 15-1 25-8 100-4 15-7 8-7 2h-39l-10 -5-3 -5-1 -10 11 -105 4 -24 5 -15 9 -11zM55 989l15 -2 10 2 8 6 4 10 1 40-8 90-4 15-6 7-8 3h-39l-9 -5-3 -5-1 -10 11 -100 4 -22 5 -14 7 -9z"/><path fill="#00fad7" d="M445 0h1l4 51 20 854-1 10-4 10-10 7-10 3-10 -1-10 -7-4 -7-1 -10 7 -260 13 -597 4 -53zM600 0h10l16 610 3 285-2 15-7 9-10 5-10 2-10 -2-6 -4-6 -10-1 -10 2 -175 16 -699 1 -26zM755 0h17l12 370 6 297v223l-3 10-7 10-10 5-10 2-10 -1-10 -7-5 -9-1 -15 1 -235 4 -235 11 -369 2 -46zM910 0h26l9 335 7 315v230l-3 10-6 10-8 5-15 3-15 -3-6 -5-5 -10-2 -15v-220l3 -164 13 -491zM1070 0h29l11 415 4 235v220l-4 13-5 8-10 6-15 2-15 -3-7 -6-5 -10-2 -15 1 -215 3 -196 12 -454zM1230 0h32l13 490 2 165v200l-3 15-6 10-8 6-15 4-15 -2-10 -7-5 -11-2 -15 2 -355 10 -391 3 -109zM1395 0h31l10 355 5 295-1 200-5 15-5 6-10 6-15 2-15 -3-7 -6-4 -10-3 -20v-190l4 -224 11 -426zM1560 0h29l11 388 5 262v185l-4 15-6 9-10 6-15 3-10 -1-11 -7-5 -10-3 -20v-180l4 -234 12 -416zM1730 0h21l11 370 7 285-1 170-5 15-8 9-10 5-10 1-15 -5-7 -10-4 -15-1 -25v-150l7 -284 12 -366zM290 62l5 121 3 252 15 485-3 10-5 8-10 5-10 1-10 -2-8 -7-3 -10v-15l9 -260 12 -565zM1905 114l5 32 10 229 8 275 1 150-2 15-4 10-8 9-10 4-10 -2-10 -11-3 -10-2 -20 1 -145 9 -263 10 -225zM135 143l6 292 15 495-2 10-4 7-10 6-10 1-10 -2-8 -7-3 -10v-25l14 -405 5 -315 2 -45zM1995 899l10 1 10 8 6 12 4 20 2 60-3 105-4 25-5 12-10 8-20 3-15 -3-10 -9-4 -16-1 -20 5 -105 6 -55 9 -30 10 -12zM1825 905l10 -1 10 5 5 6 5 11 5 39-1 70-3 75-4 25-5 10-7 5-10 3-15 1-15 -3-7 -6-6 -15v-20l5 -105 6 -55 9 -30 8 -10zM1665 910l10 1 10 9 5 12 2 13 3 55-5 115-4 20-6 12-5 4-10 4-20 1-10 -2-7 -4-4 -5-4 -14v-21l5 -105 5 -45 8 -30 6 -10 6 -5zM1490 918l10 -2 10 2 5 2 8 10 6 25 1 50-5 105-4 25-4 10-7 7-10 4-15 1-15 -2-10 -6-5 -10-1 -19 5 -100 6 -55 5 -21 5 -12 5 -7zM1330 925h15l10 5 6 10 3 15 2 55-6 105-4 25-6 10-15 7h-20l-15 -3-5 -4-4 -10-2 -20 4 -70 6 -60 6 -35 5 -13 5 -8 5 -5zM1165 934l10 -2 10 1 9 7 5 10 4 30-1 50-5 90-4 20-5 10-8 5-10 2-15 1-15 -2-9 -6-4 -10-1 -20 7 -100 7 -48 5 -17 5 -10 5 -6zM1000 943l10 -3 10 1 10 4 5 7 5 18 1 40-6 106-4 24-5 10-6 5-10 3-15 1-15 -2-10 -5-5 -12-1 -15 7 -90 6 -50 8 -27 6 -8zM845 949l10 -1 10 2 7 5 5 10 4 30-3 65-5 65-4 20-4 6-10 6-25 2-15 -3-8 -6-3 -10v-20l7 -85 7 -50 5 -15 5 -10 7 -7zM685 958l10 -1 10 2 8 6 5 10 3 30-2 55-5 65-5 20-4 7-10 5-25 2-15 -3-8 -6-3 -10 1 -20 7 -85 7 -45 6 -15 5 -8 5 -4zM525 969l10 -2 13 3 7 6 4 9 3 30-2 50-6 60-4 20-5 7-10 5-25 2-15 -4-5 -5-3 -10v-15l7 -80 6 -40 5 -16 5 -9 5 -5zM370 980l10 -1 10 3 8 8 3 10 2 40-7 85-5 20-6 8-15 5h-20l-10 -3-5 -3-5 -12 6 -80 5 -35 7 -25 11 -15zM215 989h10l10 4 5 7 5 15v40l-7 75-4 15-9 9-15 4h-15l-15 -5-5 -8-1 -5 6 -74 5 -32 7 -24 8 -13 5 -4zM55 999l10 -2 10 2 5 3 5 8 4 25-2 50-5 45-3 15-4 5-10 6-25 2-12 -3-6 -5-3 -10v-15l7 -60 6 -35 9 -20 5 -5z"/><path fill="#00ebff" d="M1410 84l5 40 2 31 8 149 5 133 5 213 1 150-1 40-3 15-7 9-5 3-15 4-10 -3-5 -3-5 -8-3 -12v-190l3 -165 10 -243 10 -152zM1245 89l5 24 5 74 10 210 7 253v150 50l-2 12-4 8-6 6-15 5-15 -3-5 -4-5 -9-1 -10-1 -55 1 -150 6 -239 12 -241 3 -53zM1570 129l5 -4 5 48 10 179 9 298v145 35l-4 14-10 11-15 4-12 -4-8 -10-3 -10v-40-145l7 -270 6 -120zM1085 143l10 122 5 100 8 265 1 170-1 65-2 10-6 9-5 3-15 4-10 -2-5 -4-5 -7-2 -8-1 -215 3 -121 10 -253 10 -132zM920 222l5 4 5 39 5 76 10 274 2 185-2 80-5 10-5 5-15 5-14 -5-6 -10-3 -85 1 -150 7 -217 6 -123 4 -56zM1740 260l5 30 5 65 5 109 7 186v150l-1 20-6 15-10 7-10 2-9 -4-5 -5-5 -15-1 -165 14 -325 6 -61zM760 296l5 4 5 48 5 90 7 212 1 150-1 90-7 12-5 3-10 2-9 -2-6 -5-3 -10-1 -90 1 -150 8 -225 5 -88zM605 470l5 51 5 95 5 177 1 102-2 10-4 5-5 4-10 1-11 -5-3 -5-1 -10 4 -180 6 -162 5 -72zM1905 545l5 22 5 66 2 162-2 17-5 6-5 2-5 -1-5 -5-2 -19 1 -145 6 -83zM445 677l5 20 5 62 6 146-2 10-4 5-10 4h-5l-7 -4-4 -10 6 -147 5 -63zM290 732l5 31 3 37 5 120-5 10-8 4h-5l-5 -2-5 -5-1 -17 6 -128 5 -44zM130 759l5 -1 5 37 6 115-1 25-5 6-10 3-8 -4-3 -5v-5l6 -130zM1825 919h10l5 3 5 5 5 11 5 32 1 50-3 90-3 17-5 11-5 5-10 5-10 1-15 -2-9 -7-4 -10-2 -20 5 -95 5 -48 5 -21 5 -12 5 -8zM1990 917l10 -1 5 2 5 5 6 12 6 35 1 55-3 80-3 20-5 10-7 7-10 4-10 1-10 -2-10 -8-5 -12-1 -20 4 -90 5 -50 8 -30 6 -10zM1655 925l10 -3 9 3 6 6 5 10 5 29 1 50-4 90-3 20-4 9-5 6-10 5-15 2-10 -2-10 -6-5 -9-3 -20 5 -95 6 -50 9 -30 7 -10zM1490 930l10 -3 10 3 5 4 5 9 6 27 1 50-5 90-3 20-4 10-5 7-10 4-15 2-15 -3-7 -5-5 -10-2 -20 6 -90 6 -50 9 -30 6 -10zM1330 935l10 -1 10 5 5 7 4 9 4 30-1 55-4 75-4 20-4 8-8 7-7 3-15 1-15 -3-8 -6-4 -10-1 -20 6 -90 7 -50 5 -18 5 -10 5 -6zM1165 943l10 -2 10 3 5 5 5 9 5 32-1 50-5 80-4 19-5 8-5 3-10 4-15 1-15 -4-7 -6-3 -10-1 -20 6 -85 6 -45 9 -27 6 -8zM1010 950l10 1 7 4 6 10 4 15 1 50-6 90-4 20-8 10-15 5h-15l-15 -5-5 -6-3 -9v-15l6 -80 5 -40 7 -28 10 -15 5 -4zM840 960l15 -3 10 3 5 6 6 19 2 40-6 95-3 15-4 10-5 5-10 5-15 1-15 -2-7 -4-6 -10-1 -15 6 -80 6 -45 8 -25 7 -10zM680 969l10 -4 10 1 5 3 6 6 6 20 1 35-6 90-4 20-7 10-6 4-20 2-15 -2-7 -4-5 -10-1 -15 6 -80 7 -40 9 -25zM525 978l10 -2 10 2 5 5 4 7 4 25v40l-6 70-3 15-4 7-10 7-20 2-10 -2-10 -5-5 -9-1 -15 6 -70 7 -40 8 -23 5 -7zM370 990l10 -1 10 5 7 16 2 35-4 59-3 26-5 15-12 8-20 2-15 -5-5 -7-2 -13 2 -27 5 -49 7 -34 8 -19 6 -6zM215 999h10l5 3 6 8 4 12 1 38-5 65-4 15-7 9-10 5-15 1-15 -4-5 -6-2 -5-1 -10 3 -33 5 -43 7 -29 8 -16 5 -5zM55 1009l10 -2 5 1 5 3 5 6 5 20v33l-6 60-2 10-7 9-5 3-20 3-16 -5-6 -10-1 -10 6 -60 6 -30 9 -20z"/><path fill="#00cdeb" d="M1410 367l5 26 5 61 5 96 3 100 1 150-1 40-3 10-10 10-10 1-10 -4-6 -12v-190l6 -166 5 -74 5 -41zM1245 371l5 15 10 130 5 134 1 150-2 55-4 10-6 5-9 2-11 -2-7 -10-3 -60 1 -150 5 -124 10 -136zM1570 405l5 -1 2 11 3 22 5 69 6 144 1 145-3 40-7 10-12 3-10 -5-5 -8-1 -40 1 -180 5 -103 5 -71zM1085 410l5 31 5 65 5 99 2 195-2 68-4 7-6 5-10 2-10 -5-5 -12-1 -65v-145l6 -133 5 -72 5 -37zM920 481l5 3 5 40 5 75 2 56 1 145-1 75-5 10-7 4h-5l-9 -4-3 -5-2 -80 1 -155 8 -129zM1740 539l5 26 6 85v145l-1 25-5 7-5 3-5 -1-6 -4-2 -5-1 -25v-145l4 -63 5 -41zM760 599l5 3 5 45 2 153-1 85-1 5-5 4-5 1-5 -4-1 -6-2 -85 2 -150zM1665 935l10 5 5 8 6 27 2 50-4 85-3 15-6 13-10 7-15 2-15 -5-6 -7-3 -10-1 -15 5 -80 5 -45 6 -25 9 -18 5 -5zM1825 934h10l5 5 7 16 5 30 1 45-4 80-3 15-5 10-6 5-15 4-10 -1-10 -7-5 -11-2 -15 4 -85 6 -45 8 -30 6 -10zM1990 935l5 -2h5l5 4 8 18 5 30v45l-2 75-3 15-3 9-5 6-10 5-10 1-10 -3-7 -8-4 -10-1 -15 3 -80 4 -40 9 -35 6 -11zM1495 939h10l5 4 5 7 5 14 3 31v50l-4 70-3 15-5 10-6 5-10 4h-10l-10 -1-11 -8-4 -11-1 -19 5 -85 6 -42 5 -19 5 -12 5 -7zM1330 945l10 -1 5 3 5 5 5 11 5 32-1 50-4 70-4 20-6 8-5 4-10 3-10 1-10 -2-10 -7-5 -12-1 -15 6 -85 5 -40 10 -30 5 -8zM1165 953l10 -2 5 1 8 8 5 10 4 30-1 50-4 65-4 20-7 10-6 4-20 2-10 -2-10 -8-3 -11-1 -15 6 -75 6 -45 7 -25 6 -10zM1005 959h10l5 1 5 5 6 10 4 30v45l-5 70-3 15-7 10-5 4-10 3h-10l-12 -2-8 -5-5 -10-1 -15 6 -79 6 -41 9 -26 5 -7zM850 965l10 2 5 4 5 9 4 15 1 45-5 80-4 15-6 11-10 6-20 1-10 -2-5 -4-6 -12-1 -15 6 -75 6 -38 7 -22 8 -13 5 -4zM685 975l10 -2 5 2 5 4 5 7 5 25v44l-6 70-4 15-10 10-10 3-10 1-10 -2-10 -5-5 -9-1 -13 6 -74 6 -36 9 -27 5 -6zM530 984l10 1 5 4 5 6 4 15 2 40-6 70-3 15-7 12-10 5-15 1-15 -5-5 -5-3 -8 4 -60 4 -35 7 -30 8 -15 5 -5zM370 999h10l5 3 6 8 4 15 1 35-6 65-5 15-5 6-10 5h-15l-14 -6-4 -10 4 -60 4 -30 5 -20 10 -19zM215 1009l10 1 5 4 5 11 2 10 1 30-6 60-2 11-6 9-9 5-15 1-10 -3-5 -3-4 -10 4 -56 5 -29 5 -19 10 -17zM55 1019l10 -2 5 2 8 11 3 20v30l-5 50-4 10-4 5-8 5-15 1-10 -2-5 -4-3 -5-1 -10 5 -50 4 -25 9 -25z"/><path fill="#00aad7" d="M1245 581l5 15 5 54 2 145-3 55-4 9-5 1-5 -1-3 -4-3 -60 1 -145 5 -51zM1410 585l5 27 3 38 1 145-3 45-2 5-4 3-5 -1-5 -7-2 -45 1 -145 6 -58zM1085 627l4 28 2 140-1 30-5 40-5 -3-6 -67 3 -140 3 -25zM1570 634l5 -1 3 22v140l-3 24-5 -1-2 -18v-145zM1495 950h6l8 5 7 15 4 30v46l-3 64-3 15-4 9-5 6-10 5h-10l-10 -2-9 -8-3 -10-1 -15 4 -75 7 -45 7 -25 5 -8zM1660 948h5l5 2 5 6 5 13 3 16 1 40-3 85-3 15-6 10-12 7-10 1-10 -3-5 -4-5 -10-2 -11 2 -37 4 -58 6 -40 10 -24zM1825 949l5 -1 5 3 5 7 4 12 4 30 1 35-4 75-2 10-8 14-5 3-10 2-10 -2-8 -7-4 -10-1 -10 3 -75 5 -42 5 -22 5 -11 5 -8zM1330 955h10l5 4 8 16 4 30-1 45-3 65-4 15-9 12-10 5h-10l-10 -2-7 -5-5 -10-1 -15 5 -80 6 -40 8 -25 7 -10zM1990 953l5 -2 5 2 7 12 5 20 2 35-4 94-4 11-5 5-11 5-10 -2-5 -3-6 -10-2 -15 3 -75 4 -35 6 -25 5 -11zM1165 962l10 -1 5 2 5 5 4 7 5 25 1 35-5 80-3 15-6 10-6 5-15 3-10 -1-10 -6-5 -10-1 -11 5 -75 5 -40 10 -30zM1005 968h10l5 3 5 6 3 8 5 30-1 40-4 65-3 11-5 9-5 5-10 4h-10l-10 -2-9 -7-4 -10v-10l5 -70 5 -40 8 -25 5 -8zM845 974h10l5 2 8 14 4 25v40l-5 65-3 15-9 11-10 4-10 1-10 -2-10 -7-3 -7-2 -15 6 -70 7 -40 10 -25 7 -8zM685 983l10 -1 5 2 8 11 4 25v40l-5 60-3 15-9 11-10 4-10 1-10 -2-10 -7-4 -12v-10l6 -65 6 -35 9 -25 8 -10zM525 995l10 -2 5 2 8 10 5 25-1 35-5 60-3 10-9 11-10 4h-10l-10 -3-5 -3-5 -9-1 -10 6 -64 5 -30 10 -26zM370 1009l5 -1 5 2 5 4 5 11 2 20-1 30-4 50-3 10-9 10-15 3-10 -2-5 -3-5 -8-1 -10 6 -60 5 -25 10 -23zM215 1019h5l7 6 3 5 3 15 1 25-5 55-3 10-6 8-10 4h-10l-10 -4-5 -8 4 -60 5 -25 6 -17 5 -8zM55 1030l10 -2 5 4 4 8 3 20v25l-5 45-2 6-10 10-15 1-8 -2-5 -5-2 -5v-10l5 -50 4 -20 6 -14z"/><path fill="#008cc8" d="M1335 964l5 2 7 9 3 10 3 20 1 35-4 75-4 15-6 8-10 5-10 1-10 -4-5 -4-5 -11v-10l4 -75 5 -35 6 -20 10 -17zM1490 964l5 -3h5l5 3 6 11 5 25 1 40-3 70-3 15-6 9-5 4-15 3-10 -3-5 -4-4 -9-1 -15 4 -75 4 -30 7 -25zM1655 964l5 -3h5l5 4 5 10 5 25 1 25-4 90-7 15-5 5-10 3-10 -1-8 -7-4 -10-1 -10 3 -70 4 -35 6 -23 5 -12zM1820 969l5 -4h5l5 5 3 5 5 20 1 30-4 90-4 10-5 5-11 3-10 -2-5 -6-4 -15 6 -95 4 -25zM1165 972l10 -2 5 4 5 7 6 24 1 35-6 85-5 10-5 5-6 3-10 2-10 -2-10 -8-3 -10-1 -10 5 -65 4 -35 10 -30zM1990 975l5 -2 3 2 6 10 3 15 1 25-3 85-5 12-10 5-10 -2-4 -5-3 -15 4 -90 5 -25zM1005 977h10l5 4 5 10 4 24 1 40-5 65-3 10-6 10-6 4-15 2-10 -3-5 -3-5 -10-1 -15 6 -70 5 -32 10 -26zM845 982h10l5 4 5 9 5 25-1 40-4 60-2 10-6 10-7 5-15 3-10 -2-7 -6-5 -10v-10l5 -65 6 -35 8 -25 8 -10zM690 989l5 1 6 5 5 10 3 15 1 35-5 65-4 15-6 7-10 5-10 1-10 -2-5 -4-6 -12 4 -65 6 -35 6 -21 10 -15zM525 1003l10 -1 5 3 5 8 4 22v30l-5 60-3 10-4 5-7 5-15 2-10 -4-5 -6-2 -7v-10l4 -55 5 -25 8 -25zM370 1019h5l5 3 5 9 3 19v25l-6 55-7 10-15 4-12 -4-3 -5-2 -10 5 -55 4 -20 8 -21zM210 1032l5 -2 5 1 5 6 4 13 1 20-6 60-7 10-12 4-12 -4-4 -5-1 -10 7 -62 5 -16zM60 1040l5 1 5 8 3 16-5 65-3 6-5 5-5 2h-10l-7 -3-3 -5-1 -5 5 -50 6 -25 5 -9 5 -5z"/><path fill="#006ebe" d="M1495 974h5l5 5 5 11 3 15 1 35-4 70-1 10-6 10-8 6-10 1-10 -4-6 -13 3 -70 3 -33 5 -22 5 -12 5 -6zM1325 980l5 -4h5l5 2 5 8 5 22 1 27-5 85-6 12-5 5-10 3-10 -2-6 -3-5 -10-1 -10 7 -94 5 -22zM1655 979l5 -3 5 1 5 7 5 18 2 28-5 85-2 7-5 7-10 4-10 -2-5 -4-3 -7-1 -10 5 -90 6 -25zM1165 982l5 -2 5 1 5 5 4 9 4 20 1 30-5 70-2 10-7 11-7 4-8 2-10 -3-6 -4-4 -9-1 -11 5 -65 4 -30 7 -24zM850 990l5 2 5 6 4 12 3 15v30l-5 65-2 10-5 7-10 7-10 1-13 -5-6 -10-1 -10 5 -60 4 -30 6 -20 10 -16zM1005 987l5 -1 5 2 5 6 4 11 3 25-1 30-3 55-3 13-4 7-6 5-15 3-9 -3-5 -5-4 -10v-10l4 -60 5 -30 9 -28zM1820 990l5 -5 5 1 5 9 4 35-3 80-6 12-10 5-5 -1-5 -5-4 -11 4 -80 5 -28zM685 999l5 -1 5 1 5 6 4 10 3 20v30l-7 65-5 8-5 4-15 3-10 -3-5 -5-3 -7v-10l4 -55 5 -30 9 -26zM1990 1005l5 -1 3 6 2 9 1 16-3 70-3 9-5 3-6 -2-4 -10 4 -75 1 -11zM525 1013l5 -2 5 1 7 8 4 15 1 25-7 70-8 10-12 4-10 -2-5 -4-5 -13 5 -56 4 -24 6 -19zM365 1035l5 -4 5 1 5 6 3 12 1 20-6 60-8 8-10 2-10 -5-3 -10 7 -65 6 -18zM215 1044l6 6 4 15-5 60-4 10-11 4-9 -4-3 -5 4 -50 3 -15 5 -13 5 -6zM60 1054l5 6 2 15-4 50-4 10-9 3-8 -3-3 -5 5 -45 6 -23 5 -7z"/><path fill="#0050af" d="M1330 988h5l5 4 6 23 2 30-4 65-2 10-5 10-7 5-10 1-9 -6-5 -10 4 -70 7 -40 6 -15zM1495 987l5 2 5 8 4 23 1 25-4 65-2 10-4 7-5 4-10 1-5 -2-5 -4-3 -11 3 -65 3 -25 5 -20 7 -14zM1165 993l5 -2 5 2 5 7 5 20v30l-5 72-4 8-6 5-10 3-10 -3-4 -5-4 -15 4 -60 4 -28 5 -18 5 -10zM1660 994l5 3 5 14 2 34-4 65-3 10-5 5-5 2-5 -1-5 -3-5 -13 5 -80 5 -23 5 -10zM845 1000l5 -1 5 3 5 9 4 24v30l-6 60-3 7-5 6-5 2-10 1-6 -1-7 -5-4 -10 1 -10 4 -55 4 -25 8 -25zM1005 997l5 -1 5 4 5 9 3 16 1 25-4 61-1 9-4 11-10 7-10 1-9 -4-4 -5-2 -16 4 -59 4 -25 7 -21 5 -8zM685 1008l5 -1 5 3 6 10 3 20v30l-4 50-3 10-3 5-7 5-12 2-10 -4-5 -8v-18l4 -52 5 -25 6 -16zM1825 1014l5 8 1 8-1 46-2 34-3 5-5 2-6 -7 1 -32 3 -48 2 -8zM525 1023l5 -2 5 2 5 9 3 13v20l-5 60-5 10-8 4-5 1h-5l-7 -5-4 -10 6 -67 5 -19 5 -11zM370 1047l5 3 3 15-4 60-4 7-5 2h-5l-5 -2-2 -7 4 -50 3 -15 5 -10zM210 1066l5 1 1 3-1 31-3 24-2 5-5 1-3 -1-1 -5 4 -46z"/><path fill="#0032a0" d="M1170 1004l5 3 3 8 3 20-3 80-3 9-5 6-10 3-10 -4-4 -9 4 -65 7 -35 8 -15zM1330 1002l5 1 5 8 3 19v20l-3 65-5 11-10 5-10 -3-5 -8v-5l6 -80 4 -19 5 -10zM1495 1004l6 6 4 20-3 80-2 8-5 6-10 2-5 -3-3 -8 3 -69 5 -28 5 -10zM845 1010h5l5 5 5 20 1 25-4 55-2 10-5 8-5 3-10 2-10 -5-3 -8 3 -56 7 -39 7 -15zM1005 1008h5l5 6 5 21v25l-4 55-2 10-4 6-5 3-10 1-8 -5-4 -10 4 -60 3 -20 5 -18 5 -10zM685 1018l5 -1 3 3 5 10 3 20-1 26-5 50-6 9-9 3h-5l-7 -3-5 -10 2 -36 5 -44 5 -15 5 -8zM1655 1024l5 -4 5 20-4 70-2 5-4 3-5 -2-2 -6 3 -65zM525 1035l5 -2 5 5 3 12 1 20-5 55-4 7-10 4-5 -1-5 -4-2 -11 6 -60 6 -19z"/><path fill="#001491" d="M1170 1020l5 8 2 17-4 70-5 10-8 3-6 -3-4 -10 4 -60 6 -27 5 -8zM1330 1019l6 6 2 25-4 65-4 7-5 3-5 -1-3 -4-2 -10 5 -69 5 -17zM845 1021l5 1 4 8 3 15-4 70-2 10-3 5-8 4h-5l-7 -4-3 -10 4 -55 6 -30 5 -10zM1005 1022l5 1 5 12 1 25-5 60-6 9-5 2-5 -1-5 -4-2 -11 6 -70 6 -18zM685 1029l5 1 3 5 4 15-5 70-4 10-8 4h-5l-5 -3-3 -6 3 -55 5 -25 5 -11zM1495 1032l2 13-2 57-1 8-4 7-5 -2v-28l4 -47 1 -5zM525 1051h5l3 19-5 55-3 3-5 2-6 -5 1 -17 4 -43z"/><path fill="#000082" d="M845 1036l5 5 2 14-4 65-3 6-5 3-5 -1-4 -3-1 -5 4 -60 6 -20zM1005 1043l4 7v10l-3 55-1 5-5 3-6 -3 1 -24 4 -41 1 -6zM685 1045l5 5 1 20-4 50-2 6-5 2-5 -1-3 -7 4 -55 4 -14zM1165 1047l3 8-3 60-5 3v-31z"/></svg><div class="ax" style="left:334px;top:40px;width:1px;height:117px;background:#a0a0a0"></div><div class="ax" style="left:334px;top:156px;width:204px;height:1px;background:#555"></div><div class="ax" style="left:335px;top:149px;width:2px;height:1px;background:rgba(40,40,40,.28)"></div><div class="ax" style="left:335px;top:142px;width:2px;height:1px;background:rgba(40,40,40,.28)"></div><div class="ax" style="left:335px;top:134px;width:2px;height:1px;background:rgba(40,40,40,.28)"></div><div class="ax" style="left:335px;top:127px;width:2px;height:1px;background:rgba(40,40,40,.28)"></div><div class="ax" style="left:335px;top:120px;width:3px;height:1px;background:rgba(0,0,0,.6)"></div><div class="ax" style="left:335px;top:112px;width:2px;height:1px;background:rgba(40,40,40,.28)"></div><div class="ax" style="left:335px;top:105px;width:2px;height:1px;background:rgba(40,40,40,.28)"></div><div class="ax" style="left:335px;top:98px;width:2px;height:1px;background:rgba(40,40,40,.28)"></div><div class="ax" style="left:335px;top:90px;width:2px;height:1px;background:rgba(40,40,40,.28)"></div><div class="ax" style="left:335px;top:83px;width:3px;height:1px;background:rgba(0,0,0,.6)"></div><div class="ax" style="left:335px;top:76px;width:2px;height:1px;background:rgba(40,40,40,.28)"></div><div class="ax" style="left:335px;top:68px;width:2px;height:1px;background:rgba(40,40,40,.28)"></div><div class="ax" style="left:335px;top:61px;width:2px;height:1px;background:rgba(40,40,40,.28)"></div><div class="ax" style="left:335px;top:54px;width:2px;height:1px;background:rgba(40,40,40,.28)"></div><div class="ax" style="left:335px;top:46px;width:3px;height:1px;background:rgba(0,0,0,.6)"></div><div class="ax" style="left:385px;top:153px;width:1px;height:3px;background:rgba(25,25,25,.75)"></div><div class="ax" style="left:436px;top:153px;width:1px;height:3px;background:rgba(25,25,25,.75)"></div><div class="ax" style="left:487px;top:153px;width:1px;height:3px;background:rgba(25,25,25,.75)"></div><div class="tl" style="right:218.5px;top:150.3px">0</div><div class="tl" style="right:218.5px;top:113.6px">0.05</div><div class="tl" style="right:218.5px;top:76.9px">0.1</div><div class="tl" style="right:218.5px;top:40.2px">0.15</div><div class="xl c" style="left:314.6px;top:155.8px">2</div><div class="xl c" style="left:365.6px;top:155.8px">4</div><div class="xl c" style="left:416.6px;top:155.8px">6</div><div class="xl c" style="left:467.6px;top:155.8px">8</div><div class="at c" style="left:416.6px;top:164.6px">x</div><div class="at yt" style="left:295.5px;top:90.3px">y</div><div class="cb" style="left:387px;top:5px;background:linear-gradient(90deg,#000082 0.00% 4.17%,#001491 4.17% 8.33%,#0032a0 8.33% 12.50%,#0050af 12.50% 16.67%,#006ebe 16.67% 20.83%,#008cc8 20.83% 25.00%,#00aad7 25.00% 29.17%,#00cdeb 29.17% 33.33%,#00ebff 33.33% 37.50%,#00fad7 37.50% 41.67%,#00ffa0 41.67% 45.83%,#00fa5a 45.83% 50.00%,#00ff14 50.00% 54.17%,#78ff00 54.17% 58.33%,#c8ff00 58.33% 62.50%,#fff500 62.50% 66.67%,#f0dc00 66.67% 70.83%,#e6c300 70.83% 75.00%,#dcaa00 75.00% 79.17%,#d28c00 79.17% 83.33%,#c86e00 83.33% 87.50%,#be5000 87.50% 91.67%,#af3200 91.67% 95.83%,#a01400 95.83% 100.00%)"></div><div class="lg" style="left:345.5px;top:26.4px">u:</div><div class="lg" style="left:363.8px;top:26.4px">-6.0x10<sup>-05</sup></div><div class="lg" style="left:425.2px;top:26.4px">4.0x10<sup>-05</sup></div><svg class="fs" style="left:62px;top:224px" width="203" height="117" viewBox="0 0 2030 1170" fill-rule="evenodd"><rect width="2030" height="1170" fill="#00fa5a"/><path fill="#00ff14" d="M60 0h93l-9 810v175l-65 10-2 5-17 170h-60v-168l5 -3 38 -4 24 -5v-180l-9 -805v-5zM215 0h92l-8 805v165l-6 5-48 6-12 4-18 185h-79l18 -180 11 -3 54 -7 2 -5v-170l-8 -800v-5zM370 0h91l-6 665-1 295-17 5-42 5-7 5-18 195h-79l17 -190 12 -5 45 -5 11 -5-1 -245-7 -715v-5zM525 0h92l-5 470-2 475-1 5-59 9-3 1-3 5-18 205h-79l17 -200 6 -5 62 -10-1 -345zM685 0h89l-5 400-1 535-7 5-46 6-13 4-18 220h-81l17 -210 2 -5 3 -1 60 -9 4 -5-2 -520-5 -415v-5zM845 0h86l-3 380-2 545-11 4-48 6-8 5-17 230h-81l18 -225 11 -5 43 -5 14 -5-2 -505-4 -425zM1000 0h90l-3 380-2 530-3 5-2 1-55 8-4 1-4 5-16 240h-81l17 -235 3 -4 5 -2 55 -7 4 -2 1 -5zM1160 0h91l-4 355-2 545-10 5-43 5-14 5-17 255h-82l16 -245 3 -5 7 -3 53 -7 7 -5zM1325 0h87l-4 355-1 530-2 5-5 2-50 7-6 1-6 5-16 265h-82l16 -260 10 -5 49 -6 11 -4-2 -490-4 -405zM1485 0h89l-4 400-2 475-7 5-56 8-4 2-2 5-15 275h-83l16 -270 3 -5 5 -2 55 -7 5 -2 2 -4-1 -515-4 -365zM1645 0h92l-5 860-1 5-6 2-55 8-8 5-15 290h-83l14 -280 2 -5 5 -3 55 -8 10 -4zM1810 0h92l-6 850-7 5-54 7-7 3-4 5-13 300h-83l13 -295 4 -4 5 -2 60 -9 4 -5-6 -850v-5zM1975 0h55v846l-35 5-5 4-2 5-11 310h-85l13 -306 1 -4 9 -4 50 -6 14 -5-2 -435-5 -405v-5z"/><path fill="#78ff00" d="M80 0h51l2 950-1 10-7 11-10 6-10 2-10 -1-10 -5-5 -8-2 -10zM235 0h52l2 935-3 15-6 9-10 6-10 2-10 -1-10 -4-6 -7-3 -15 2 -940zM390 0h53l4 660-1 260-2 15-5 10-9 7-15 4-15 -2-7 -4-6 -10-3 -15v-265l3 -660zM545 0h56l4 495-1 410-3 20-5 10-11 7-15 3-15 -2-10 -6-5 -12-1 -15-1 -320 4 -590zM700 0h59l4 515v380l-3 18-5 10-10 7-20 4-15 -2-10 -7-4 -10-2 -15v-490l3 -185v-225zM855 0h64l3 515v365l-2 17-5 13-10 8-20 4-15 -1-11 -6-6 -10-2 -20v-545zM1015 0h63l3 520v350l-3 20-8 12-10 5-20 4-15 -3-10 -7-4 -11-2 -20v-350l3 -520zM1175 0h64l3 520-1 335-2 20-4 9-5 6-15 7-15 1-15 -2-9 -6-5 -10-2 -20v-590l2 -270zM1335 0h65l3 520-1 320-2 20-5 12-10 9-20 4h-15l-10 -5-7 -10-3 -25v-585l2 -260zM1495 0h67l3 520-1 305-3 25-6 11-10 7-20 5-15 -2-10 -6-5 -10-4 -25 1 -570zM1660 0h65l3 515-1 295-2 20-6 15-13 10-16 4-15 -2-12 -7-6 -15-2 -20-1 -300 3 -515zM1825 0h64l2 440-1 355-3 25-7 13-5 5-10 5-15 2-15 -4-7 -6-6 -15-3 -20v-355l2 -445zM1990 0h40v829l-10 1-15 -1-10 -6-6 -13-4 -25-1 -365 3 -420zM1935 869l15 -2 10 2 9 6 4 5 6 25 2 45-5 160-3 35-6 15-7 5-10 3-15 1-20 -2-6 -2-6 -5-4 -10-2 -25 6 -140 6 -70 8 -30 8 -10zM1775 879l15 -1 10 3 6 4 5 10 4 15 1 20-1 80-4 110-4 30-4 10-8 6-10 3-20 1-20 -3-8 -7-4 -15v-25l6 -135 7 -65 4 -17 5 -11 10 -10zM1610 890l15 -2 15 4 7 8 4 15 2 60-6 145-3 30-4 10-5 5-15 5h-27l-13 -3-5 -3-3 -4-3 -10v-30l6 -110 5 -60 5 -32 5 -13 5 -7zM1450 900l20 -1 10 5 5 6 5 17 1 63-8 145-3 20-5 9-5 3-10 3h-35l-10 -3-5 -4-4 -18 10 -170 4 -35 5 -20 10 -14zM1295 910l15 1 10 4 6 10 3 15v70l-9 135-4 15-6 7-9 3h-41l-11 -5-4 -10-1 -10 6 -110 7 -75 5 -25 8 -15 10 -7zM1120 924l20 -3 15 2 9 7 4 10 2 20-1 35-8 140-3 20-3 7-5 5-7 3h-46l-9 -5-3 -5-1 -15 9 -145 4 -35 5 -20 8 -14zM965 934l20 -2 12 3 8 7 4 13v55l-9 135-5 18-10 7h-49l-9 -5-2 -6-1 -14 12 -155 4 -25 5 -15 8 -10zM815 944h15l10 3 7 8 3 10v55l-10 130-5 15-9 5h-50l-7 -5-3 -5-1 -15 8 -105 7 -55 5 -20 5 -9 10 -8zM645 959l20 -3 15 2 9 7 3 10v50l-9 120-3 15-5 7-5 3h-52l-8 -6-2 -14 11 -135 4 -25 5 -15 7 -11zM495 969l15 -1 15 3 5 4 5 14v51l-10 110-5 15-9 5h-49l-8 -5-3 -15 13 -135 4 -20 7 -15 10 -8zM350 980l15 1 7 4 4 5 3 15-2 55-9 95-4 10-9 5h-49l-7 -5-3 -10v-10l8 -85 6 -45 5 -16 6 -9 14 -8zM180 994l15 -2 15 2 9 6 3 10 1 45-9 95-4 12-5 6-5 2h-49l-7 -5-3 -15 11 -110 5 -20 6 -15 7 -7zM30 1004l15 -1 12 2 7 5 4 10v40l-8 90-5 14-8 6h-47v-132l5 -17 5 -7 10 -7z"/><path fill="#c8ff00" d="M255 0h12l2 220 7 220 3 225v270l-3 10-4 5-12 5-10 -2-4 -3-4 -5-1 -10 3 -490 8 -225 2 -220zM405 0h22l12 660-1 260-2 10-6 9-5 3-10 3-10 -1-5 -3-5 -7-2 -9-1 -120 2 -290 9 -515zM560 0h27l3 225 8 285-1 395-2 13-5 8-10 7-10 2-10 -2-6 -3-7 -10-1 -10-1 -330 11 -580zM710 0h37l2 220 6 150 3 295-1 230-2 10-6 10-9 6-15 3-10 -1-10 -8-4 -10-1 -10-1 -230 2 -255 6 -190zM870 0h37l3 220 4 95 3 315-1 250-3 15-7 10-11 6-10 2-15 -3-7 -5-5 -10-2 -15-1 -220 4 -325 4 -115 2 -220zM1025 0h43l9 570-1 290-1 15-7 15-8 7-15 4-12 -1-10 -5-6 -10-3 -15v-355l8 -515zM1185 0h43l9 555v295l-3 15-4 10-10 9-15 4-15 -1-9 -7-5 -10-3 -15v-195l2 -260 7 -400zM1345 0h44l8 525 1 310-3 17-5 11-10 8-15 4-15 -2-9 -8-5 -10-2 -15 1 -372 8 -468zM1505 0h46l8 515v305l-3 20-6 11-10 7-15 4-10 -2-10 -6-5 -9-4 -20 1 -310 3 -255zM1670 0h44l7 440v365l-2 15-7 15-7 7-15 5-10 -1-10 -6-6 -10-4 -20-1 -150 4 -370 5 -290zM1835 0h42l2 220 5 185v385l-3 20-6 10-10 9-10 2-10 -1-10 -6-6 -9-4 -20 2 -455 3 -120 2 -220zM2000 0h30v814l-10 2-10 -1-10 -7-6 -13-2 -15v-355l5 -200zM105 46l13 399 5 365v140l-4 10-6 5-8 2-10 -2-5 -5-2 -5v-40l5 -470 8 -225zM1940 884l10 -1 10 4 5 6 5 11 6 36v60l-4 115-3 25-4 10-5 6-10 6-15 2-15 -2-12 -7-6 -15-1 -25 5 -115 6 -65 4 -20 6 -15 8 -11zM1775 893l10 -1 10 3 9 10 3 10 5 40v75l-4 90-5 25-5 10-8 6-10 3-15 1-15 -3-5 -3-5 -7-3 -12-1 -25 6 -115 6 -60 9 -30 8 -11zM1610 903l10 -2 10 1 9 8 5 10 5 30 1 50-6 120-3 25-5 10-6 6-10 4-15 1-20 -3-9 -8-3 -10-2 -20 7 -115 6 -60 5 -20 6 -14 5 -7zM1445 913l10 -3 10 1 10 5 5 6 4 13 3 15 1 50-6 120-4 25-3 10-10 8-10 3-15 1-15 -2-10 -6-5 -10-1 -24 6 -108 6 -57 9 -31 6 -9zM1285 923l10 -3 10 1 10 5 5 7 5 22 2 45-7 120-3 25-3 10-9 9-10 3-15 1-15 -1-13 -7-4 -10-1 -20 6 -105 7 -58 5 -20 5 -11 5 -7zM1125 933l15 -3 10 3 5 3 6 9 5 25v55l-6 100-5 27-5 8-7 5-13 3-15 1-15 -3-9 -6-4 -10-1 -20 7 -105 7 -51 5 -19 5 -10 5 -6zM965 944l15 -3 10 2 5 3 7 9 4 25v50l-7 100-4 23-4 7-6 5-10 3-20 1-15 -2-10 -7-3 -10v-20l7 -95 6 -50 5 -18 5 -11 5 -6zM810 954l10 -2 13 3 7 5 5 10 3 30-3 65-5 70-5 22-5 6-10 5-25 1-15 -2-9 -7-3 -10v-20l7 -90 8 -50 4 -15 6 -10 7 -7zM655 965h15l10 4 5 7 4 14 1 45-8 100-4 20-8 10-15 4h-25l-10 -3-5 -4-4 -12v-20l8 -95 5 -30 6 -20 10 -14zM490 980l10 -3h10l10 3 5 5 5 10 2 10v45l-7 85-4 20-6 8-5 3-10 3h-20l-15 -2-8 -7-3 -10v-15l8 -80 6 -40 7 -20 5 -8zM340 990l15 -1 10 4 5 6 4 11 1 40-6 85-5 20-8 10-16 4h-20l-14 -4-5 -5-1 -5-1 -15 6 -68 5 -37 7 -25 8 -12zM180 1003l10 -2h10l10 4 5 7 5 23-1 35-6 70-4 15-4 7-10 5-25 2-10 -1-10 -4-5 -9-1 -15 7 -65 7 -40 8 -20 4 -5zM25 1014l15 -3 10 2 5 2 7 10 3 25-3 50-4 45-5 15-6 5-7 3-30 1-10 -2v-110l5 -20 5 -11 5 -6z"/><path fill="#fff500" d="M1040 0h13l7 220 5 98 7 342-1 205-3 10-6 10-7 5-10 2-15 -3-5 -5-4 -9-2 -65 1 -230 5 -251 6 -109 6 -220zM1200 0h13l2 32 10 260 7 368-1 190-2 10-5 10-9 7-10 3-15 -4-9 -11-2 -10v-45-245l6 -266 12 -299zM1360 0h15l10 260 8 400-2 180-3 10-7 10-6 3-10 3-10 -1-5 -3-6 -7-4 -15-1 -30 1 -245 5 -240 10 -276 3 -49zM1520 0h16l11 265 7 395-1 165-3 10-8 10-7 5-10 1-10 -2-9 -9-3 -10-1 -20v-210l5 -285zM1685 0h15l6 220 4 80 5 360-1 150-3 10-6 8-5 4-10 3-10 -2-5 -3-5 -7-3 -13-1 -145 6 -375 4 -70 6 -220zM1855 0h4l1 16 7 209 7 135 3 305-1 130-6 15-6 5-9 4-10 -2-5 -4-6 -13-2 -135 4 -325 6 -115 8 -220v-5zM885 18l5 20 7 182 8 100 6 345-1 215-3 10-7 9-15 5-10 -2-5 -3-5 -6-2 -8-2 -220 7 -335 8 -110 4 -131zM2020 161l10 105v531l-10 4-7 -1-7 -5-5 -15-1 -115 2 -240 8 -161 5 -64zM730 203l10 82 6 90 5 285v150l-1 85-4 10-5 5-6 4-10 1-12 -5-4 -5-2 -10-1 -230 4 -270 10 -141 5 -34zM570 296l5 8 5 48 5 85 3 78 2 150-1 240-3 10-4 5-12 4-10 -3-5 -11-2 -245 1 -105 6 -151 5 -78zM415 458l5 26 5 100 4 226-3 110v5l-4 5-7 2-7 -2-3 -5-3 -115 3 -193 5 -121zM1940 899l10 -1 5 3 5 5 6 14 6 35 1 60-4 100-3 20-4 10-7 8-10 4-10 2-15 -3-10 -8-5 -13-1 -20 4 -105 7 -60 5 -23 5 -13 6 -9zM1770 910l5 -3 10 -1 10 6 5 7 7 26 2 50-4 120-3 20-3 10-9 10-10 4-10 1-15 -2-10 -8-5 -12-1 -18 4 -100 6 -55 8 -35 5 -10zM1610 915l10 -2 8 2 7 6 5 10 5 29 1 55-4 105-4 20-4 10-9 8-10 3-10 1-15 -2-10 -8-5 -12-1 -20 6 -100 6 -55 9 -33 5 -9zM1445 925l10 -4 10 1 5 3 7 10 4 10 3 20 1 50-5 105-4 20-3 10-8 8-10 4-15 2-15 -3-7 -6-5 -10-2 -20 6 -95 6 -55 7 -30 5 -10zM1295 930l10 1 10 9 4 10 3 15 2 55-6 105-4 20-4 8-5 6-10 4-20 2-16 -5-5 -5-4 -12-1 -18 6 -92 6 -48 7 -30 5 -10 7 -9 5 -3zM1135 939l10 2 10 8 5 11 2 15 1 50-6 100-3 20-4 9-5 5-10 5-20 2-10 -2-8 -4-5 -5-3 -10-1 -20 6 -85 6 -47 7 -28 5 -10 8 -10zM975 950l10 1 10 7 5 10 2 12 2 50-7 100-4 20-7 10-11 5-20 1-10 -1-9 -5-4 -5-3 -10v-20l6 -80 6 -45 8 -30 11 -14zM805 964l10 -3h10l8 4 4 5 7 20 1 40-6 100-4 18-5 10-5 4-10 4-15 1-15 -2-9 -5-5 -10-1 -15 7 -85 6 -45 8 -25 7 -10zM650 974l10 -2 10 1 5 3 7 9 5 25-1 45-5 75-4 20-7 10-5 3-10 3-15 1-13 -2-9 -5-4 -10-1 -15 6 -80 6 -40 10 -27 6 -8zM500 985h10l9 5 6 9 3 11 1 40-6 85-4 15-4 8-5 4-15 4h-15l-15 -4-5 -5-3 -7v-15l5 -65 6 -40 7 -23 10 -15zM335 1000l15 -4 10 4 5 5 5 10 1 10 1 30-6 80-3 15-7 10-6 4-20 3-15 -2-8 -5-5 -10-1 -10 6 -65 7 -40 10 -25zM185 1010l10 -1 10 3 5 6 4 12 2 35-6 70-3 15-7 11-10 4-20 2-15 -4-6 -8-2 -15 3 -34 5 -42 7 -29 8 -15 5 -5zM30 1019l10 -1 10 4 5 5 5 12 2 36-6 65-4 15-7 7-10 4-20 1-15 -4v-89l5 -23 5 -14 9 -12z"/><path fill="#f0dc00" d="M1365 269l5 14 5 60 7 172 4 150-1 170-3 10-4 5-8 5-5 1-10 -3-5 -5-3 -8-1 -175 3 -150 6 -138 5 -77zM1205 274l5 20 5 64 7 157 3 150-1 185-3 10-4 5-12 5h-5l-9 -5-5 -10-1 -190 3 -150 7 -154 5 -65zM1525 284l5 -3 5 47 8 187 4 150-2 155-3 10-3 5-9 5h-5l-10 -4-5 -11-1 -160 6 -221 5 -107zM1045 297l5 20 5 64 6 134 4 150-2 200-3 9-5 5-10 4-11 -3-5 -5-2 -10-2 -200 4 -150 6 -129 5 -67zM1690 316l5 19 5 77 6 253-1 140-5 12-10 5-5 -1-5 -3-4 -8-1 -145 5 -216 5 -96zM885 348l5 11 5 59 5 104 4 143-2 215-6 10-11 4-10 -4-4 -10-2 -215 6 -196 5 -85zM1855 388l5 35 1 22 5 220-1 125-5 10-5 2-6 -2-4 -5v-5l-2 -125 6 -220 1 -28zM730 427l5 45 7 193-2 225-4 10-6 3h-5l-5 -2-2 -6-3 -85v-145l5 -157 5 -69zM2020 557l5 108-5 105-6 -105zM1940 914h10l5 4 8 17 5 35 1 50-3 90-3 20-8 16-10 6-10 2-10 -2-10 -7-5 -10-3 -20 4 -95 5 -50 9 -37 5 -10zM1780 919l10 4 5 6 7 21 4 40-1 56-3 69-4 20-3 7-7 8-8 4-10 2-15 -4-8 -7-4 -10-1 -20 4 -95 7 -55 5 -20 7 -15 5 -6zM1615 925l10 1 5 4 5 8 4 12 4 35v55l-4 75-3 20-4 10-7 8-10 4-10 1-15 -3-9 -10-4 -15v-15l5 -95 7 -50 5 -20 6 -13 5 -6zM1450 933l10 -1 5 2 6 6 6 15 5 35-1 55-4 75-4 20-5 10-8 6-10 3-10 1-15 -4-6 -6-4 -10-1 -20 5 -90 6 -48 10 -34 5 -8zM1295 939l10 3 7 8 4 10 4 20 1 50-5 95-5 20-6 9-12 6-18 1-10 -2-6 -4-4 -6-3 -9-1 -15 6 -90 6 -45 7 -27 10 -17 5 -4zM1130 949l10 -1 10 7 5 9 4 16 2 50-6 95-4 20-6 10-10 6-20 2-15 -5-5 -6-3 -7-1 -20 4 -65 5 -49 6 -31 9 -20 5 -6zM970 958h10l10 5 7 12 3 15 1 50-5 85-4 20-7 11-10 6-20 1-15 -4-5 -6-3 -8-1 -15 4 -61 5 -48 6 -31 9 -20 5 -6zM810 970l10 -2 6 2 7 5 5 10 4 25v45l-6 75-3 15-5 10-6 5-12 4h-10l-15 -3-8 -6-4 -10-1 -15 6 -75 7 -44 10 -28 5 -7zM655 980l10 -1 9 6 6 10 2 10 2 40-4 67-3 28-6 15-11 7-20 2-15 -3-5 -5-3 -6-2 -15 4 -55 6 -48 7 -27 8 -15 5 -5zM495 994l10 -2 5 1 5 3 6 9 5 25v40l-6 65-4 15-6 8-5 3-20 3-10 -1-10 -6-4 -7-2 -15 6 -67 7 -38 8 -22 6 -8zM345 1004l10 2 5 4 5 8 3 12 1 35-5 70-4 15-5 7-10 5-20 2-10 -3-5 -3-6 -13 6 -70 5 -30 7 -20 8 -13 5 -4zM180 1020l5 -3h10l5 2 6 6 5 15 2 30-5 65-3 13-4 7-6 5-10 3-10 1-10 -1-10 -5-5 -8v-10l5 -55 5 -30 10 -25zM25 1029l5 -2 10 -1 8 4 5 5 4 15 2 30-6 60-2 10-6 8-5 3-20 4-10 -1-10 -5v-66l5 -28 5 -17 5 -9z"/><path fill="#e6c300" d="M1205 558l5 22 5 85v154l-2 31-3 5-5 2-5 -1-3 -6-2 -34v-151l5 -84zM1365 572l5 16 5 77-1 145-1 25-3 5-5 2-4 -2-2 -5-2 -25v-145l3 -61zM1045 579l5 22 4 64v145l-3 55-6 4-6 -4-3 -55v-145l4 -62zM1525 624l5 -1 4 42-4 139-5 -2-3 -137zM1940 929h5l5 2 5 6 5 13 5 35 1 45-3 80-3 15-3 10-7 8-5 3-10 2-12 -3-8 -9-3 -11-1 -15 4 -90 5 -45 5 -22 5 -13 5 -7zM1775 934l5 -1 5 1 5 4 6 12 5 30 1 50-3 85-3 15-5 10-6 6-15 5-10 -2-10 -8-4 -11-1 -15 4 -90 6 -45 8 -30 7 -12zM1610 939l10 -2 5 2 5 6 4 10 5 30 1 45-4 85-2 15-3 10-6 7-10 6-10 1-10 -2-9 -7-5 -10-1 -15 4 -90 6 -45 8 -30 7 -12zM1450 943h10l5 3 5 6 5 13 4 35-1 45-4 75-2 15-5 10-7 7-10 4h-10l-10 -2-10 -9-3 -10-1 -15 5 -85 6 -45 9 -30 6 -10zM1290 949l10 1 5 3 5 7 4 10 4 30v50l-4 70-4 19-5 9-5 5-10 4-10 1-10 -1-10 -7-5 -11-1 -19 5 -80 6 -45 10 -31 5 -7zM1125 959l10 -3 5 1 5 3 7 10 5 25 1 40-5 90-3 15-5 10-5 5-10 4-10 1-15 -3-8 -7-3 -10-1 -15 5 -80 6 -40 9 -30 6 -10zM965 969l5 -3h10l7 4 6 10 5 25 1 35-5 85-3 15-5 10-6 6-10 4-10 1-10 -1-10 -6-5 -9-2 -15 6 -80 6 -40 8 -25 6 -10zM810 977l10 -1 5 2 5 4 5 9 5 29-1 40-5 70-3 15-6 9-5 3-10 4h-10l-10 -1-10 -6-4 -9-2 -15 6 -70 6 -40 9 -27 5 -8zM650 989l5 -2h10l5 3 7 10 4 25v40l-5 65-3 15-7 10-6 4-20 3-10 -2-7 -5-5 -10-1 -15 6 -70 6 -35 10 -25zM490 1005l5 -3 10 -2 10 6 7 19 2 35-6 70-3 15-5 9-5 3-10 4h-10l-10 -1-8 -5-5 -10v-10l5 -60 4 -30 9 -27zM340 1013h10l5 2 7 10 4 20v35l-7 65-9 12-10 3-10 1-10 -1-8 -5-5 -10v-10l6 -60 6 -30 8 -20 8 -9zM190 1025l10 3 5 7 4 20v30l-5 55-3 10-6 6-10 4-15 1-13 -6-4 -10 5 -65 6 -25 6 -15 10 -12zM30 1034h10l5 2 5 6 4 13 1 30-5 55-3 10-7 8-10 4h-15l-10 -4-5 -5v-34l3 -24 3 -20 6 -20 8 -14z"/><path fill="#dcaa00" d="M1615 949h5l6 6 5 10 4 17 2 38-2 63-2 37-4 15-9 11-15 4-10 -3-5 -4-6 -13-1 -10 2 -50 4 -55 6 -35 10 -24zM1775 949l5 -2 5 3 5 6 5 14 3 30 1 35-4 80-2 10-3 9-5 6-5 4-10 2-10 -3-5 -4-5 -9-2 -15 4 -80 3 -35 5 -23 5 -15 5 -9zM1935 950l5 -4 5 -1 5 4 5 10 5 24 2 37-5 100-7 16-5 4-10 2-9 -2-6 -5-4 -10-2 -10 6 -111 5 -29 5 -16zM1450 954l5 -1 5 1 5 4 7 17 4 30-1 50-3 65-4 15-6 10-6 5-16 3-9 -3-6 -5-5 -10-1 -15 4 -80 6 -40 8 -30 8 -13zM1290 959l10 1 5 4 7 16 3 30v44l-4 66-3 15-3 8-7 7-8 4-10 1-10 -2-9 -8-4 -10-1 -15 5 -75 7 -45 7 -25 7 -10zM1135 965l5 1 8 9 4 10 3 20 1 40-5 80-4 15-7 10-10 6h-15l-13 -6-4 -5-3 -10 6 -90 5 -35 7 -25 7 -12 5 -5zM970 974h10l5 4 7 12 4 25v45l-5 65-3 15-8 12-10 5-10 1-10 -2-10 -7-4 -9-1 -15 6 -70 6 -40 8 -25 5 -8zM810 985l10 -1 5 3 8 13 4 25v40l-7 75-5 9-5 5-10 4-10 1-10 -2-9 -7-4 -10v-10l5 -70 6 -35 8 -25 7 -10zM655 994l10 1 5 5 5 9 3 16 1 35-5 70-4 15-5 7-10 6-15 1-10 -3-5 -4-5 -12 4 -65 5 -35 6 -22 10 -17zM495 1009l10 -1 5 3 6 9 5 25-1 35-5 55-3 10-9 10-8 3-10 1-10 -3-5 -3-5 -8-1 -10 5 -60 6 -32 9 -23zM335 1024l10 -4 5 1 8 9 5 20v25l-5 60-2 10-6 8-5 3-15 2-10 -2-5 -3-5 -8v-10l8 -75 7 -22zM185 1034l10 1 8 10 3 20v25l-6 55-10 10-15 3-10 -2-5 -4-4 -7v-10l4 -45 5 -26 10 -22zM25 1044l10 -3 5 1 5 4 6 14 1 30-5 50-2 8-5 6-5 3-15 3-10 -3-5 -3-3 -4-1 -10 4 -45 5 -24 5 -13z"/><path fill="#d28c00" d="M1450 965l5 -1 5 2 3 4 5 10 3 15 2 40-3 66-1 19-4 15-10 11-15 3-9 -4-6 -7-3 -8v-15l4 -70 4 -34 5 -22 5 -13zM1610 964l5 -2 5 1 5 6 4 11 4 25 1 35-5 85-4 9-5 6-5 4-10 1-10 -3-5 -6-4 -11v-10l4 -75 3 -30 7 -29 5 -11zM1775 965l5 -1 5 3 5 11 4 27 1 30-4 85-8 15-8 5h-5-5l-7 -5-5 -10-1 -10 3 -75 4 -35 6 -25 5 -10zM1940 964l5 1 4 5 5 15 2 20 1 30-3 80-7 15-6 5-6 1-5 -1-6 -5-4 -8-1 -12 6 -107 5 -22 5 -12zM1290 969l5 -1 5 3 5 6 4 13 4 30-1 35-4 65-3 15-5 9-5 4-15 4-10 -3-5 -4-5 -10-1 -15 5 -75 5 -35 10 -30 6 -8zM1130 974h5l5 2 5 6 5 13 3 30v35l-5 65-2 10-5 10-6 5-15 4-10 -2-8 -7-4 -10-1 -10 6 -75 5 -35 8 -25 6 -10zM970 982l10 1 5 5 5 12 4 25-1 40-4 60-3 15-6 8-5 4-15 3-10 -2-9 -8-3 -10v-10l5 -70 6 -35 9 -25 7 -10zM810 993l10 -1 5 4 5 9 5 25v35l-5 65-3 10-7 10-5 3-15 3-10 -3-5 -3-5 -10-1 -10 6 -70 5 -30 9 -25 6 -9zM650 1004l10 -2 5 2 5 6 6 20 1 35-7 75-5 8-5 5-15 4-10 -2-8 -5-5 -10v-10l5 -55 4 -30 9 -29zM495 1018l10 -1 5 4 4 9 4 20-1 30-4 55-3 8-5 7-5 3-15 3-10 -4-5 -5-3 -7v-10l8 -75 10 -27zM340 1030l5 -1 5 2 6 9 4 19v26l-6 55-4 8-5 4-15 3-13 -5-3 -5-1 -10 4 -50 5 -25 8 -21zM185 1043l5 -1 5 3 5 9 3 16-1 25-4 40-2 10-4 5-7 4-10 1-10 -3-5 -6v-20l4 -41 5 -20 6 -13zM30 1050l5 -1 5 2 6 9 3 20-1 20-5 45-8 9-15 3-8 -2-6 -5-2 -10 5 -45 4 -20 7 -17z"/><path fill="#c86e00" d="M1290 979h5l6 6 5 10 3 20 1 30-4 75-2 10-5 10-9 7-10 1-9 -3-5 -5-4 -10v-10l4 -65 4 -35 5 -20 5 -11 5 -7zM1450 977l5 -1 5 3 5 10 4 26 1 30-5 80-4 10-5 5-11 5-10 -2-5 -5-4 -8-1 -10 4 -75 3 -25 8 -30 5 -9zM1610 978l5 -2 5 2 5 10 4 22 1 33-5 81-6 11-9 5h-5l-10 -5-5 -10-1 -10 6 -90 5 -26 5 -14zM1130 983h5l5 4 6 13 4 25v36l-4 64-3 10-8 11-5 3-10 2-10 -3-5 -4-4 -9-1 -12 5 -72 5 -32 10 -27zM1775 983h5l6 12 4 20v25l-4 80-6 10-10 4-5 -1-5 -5-3 -13 5 -95 6 -25zM1940 988l5 3 5 16 1 23-1 41-2 44-6 10-7 3-6 -3-4 -8v-21l5 -81 5 -21zM965 994l5 -3 5 -1 5 3 5 7 5 20 1 35-6 80-5 9-5 4-15 4-10 -2-5 -5-5 -10v-10l5 -65 3 -25 7 -25zM815 1000l5 1 5 5 5 14 1 10 1 35-5 65-3 10-4 6-10 6-10 1-10 -3-5 -5-3 -10 4 -65 4 -28 6 -22 9 -15zM655 1010h5l5 3 6 12 3 20v30l-5 55-2 10-8 10-14 4-10 -2-5 -4-5 -8v-10l5 -60 5 -30 10 -23zM495 1026l5 -1 5 2 6 8 4 20-1 25-6 60-8 10-15 2-7 -2-5 -5-3 -5v-10l5 -54 4 -21 6 -17zM340 1039h5l5 3 5 12 2 21-2 28-5 39-8 8-12 2-10 -5-4 -7 4 -50 3 -20 5 -15 7 -12zM185 1053h5l5 6 3 11 1 20-4 42-1 8-4 6-5 4-10 1-5 -1-5 -4-2 -6 2 -26 5 -39 5 -12 5 -7zM30 1059h5l5 4 5 17-4 60-6 10-15 4-9 -4-3 -5 2 -29 6 -36 4 -11 5 -7z"/><path fill="#be5000" d="M1455 990l7 10 4 25-4 90-3 15-4 6-10 4-10 -3-5 -7-1 -5 3 -75 3 -25 5 -20 5 -10 5 -5zM1130 993l5 1 5 5 6 21 2 30-3 46-2 29-3 10-9 10-11 2-10 -3-6 -9-1 -10 2 -37 4 -43 5 -25 6 -17 5 -7zM1285 993l5 -3 5 1 6 9 5 20 1 30-4 70-2 10-7 10-9 4h-5l-9 -4-4 -5-2 -15 6 -85 6 -25zM1615 993l6 7 4 25-3 90-2 10-4 5-6 4h-5l-7 -4-4 -10 4 -75 2 -22 5 -19 5 -9zM970 1000h5l5 4 5 11 3 25v30l-4 55-2 10-8 10-14 4-10 -3-5 -6-2 -15 7 -85 5 -18 5 -12 5 -7zM810 1009l5 -1 5 3 5 9 4 20v30l-6 65-8 12-5 2-10 1-10 -4-4 -6-2 -10 1 -13 4 -52 5 -25 6 -19zM1775 1009l5 3 3 18-2 80-3 10-3 4-5 1-5 -4-2 -6 2 -49 4 -41 1 -7zM655 1018l5 1 5 5 5 16 1 20-1 27-5 50-5 8-5 4-10 2-6 -1-8 -5-3 -5-1 -10 5 -55 4 -25 9 -24 5 -5zM495 1036l5 -1 5 4 5 11 1 20-1 25-4 40-2 5-4 5-5 3-10 1-8 -4-3 -5 1 -27 5 -48 5 -15 5 -9zM340 1050h5l4 5 3 15-4 65-6 10-7 3h-5l-6 -3-4 -9 4 -51 6 -22 5 -9zM180 1069l5 -3 5 2 3 12 1 10-5 50-4 5-10 2-5 -3-2 -9 5 -45 2 -11zM25 1074l5 -4 5 2 4 8 1 10-4 50-2 5-9 5-10 -3-3 -7 5 -45 3 -12z"/><path fill="#af3200" d="M1130 1004l5 2 5 7 4 22v20l-4 65-1 10-4 7-5 4-10 2-10 -5-4 -8 4 -70 4 -25 4 -15 7 -13zM1290 1003l5 2 3 5 4 20 1 25-4 65-3 10-3 5-8 5h-5l-8 -5-4 -10 4 -70 3 -21 5 -19 5 -9zM970 1010h5l5 6 5 22v27l-4 60-1 6-5 9-5 4-10 2-10 -5-4 -11 4 -60 7 -40 7 -15zM1450 1006l5 2 5 12 2 30-4 70-5 10-8 5-5 -1-4 -4-3 -10 5 -85 7 -23zM810 1019l5 -1 5 5 5 14 2 23-2 28-5 47-9 10-11 2-5 -2-5 -5-2 -5 2 -45 6 -45 5 -15zM1610 1019l5 -1 1 2 3 25-4 75-5 6h-5l-5 -6v-10l4 -70zM655 1028l5 2 3 5 4 15 1 20-3 42-2 18-3 10-5 5-10 3-10 -4-4 -9 3 -55 7 -35 9 -15zM495 1048h5l5 8 2 24-5 55-2 5-10 5h-5l-5 -4-2 -11 6 -60 6 -17zM340 1064l6 6 1 20-4 45-3 5-5 3-8 -3-2 -5 5 -51 5 -15zM30 1089l2 11-2 25-2 15-3 2-5 -1v-5l5 -41z"/><path fill="#a01400" d="M1125 1020l5 -3 5 3 2 5 3 13 1 22-5 65-6 11-10 3-7 -4-4 -10 6 -76 5 -20zM1290 1019l5 5 3 21-3 75-5 11-5 3h-5l-5 -4-2 -10 4 -65 3 -20 5 -12zM965 1024l5 -3 5 2 4 7 2 15 1 20-5 65-7 9-10 3-5 -2-4 -5-2 -10 6 -73 5 -18zM810 1030h5l3 5 4 15 1 20-4 55-3 10-4 5-7 3h-5l-5 -3-4 -10 4 -59 5 -26 5 -10zM1450 1030l5 10v16l-4 64-6 6-5 -3-1 -3 1 -23 4 -52 1 -7zM655 1039l6 6 3 20-4 64-5 11-10 4-8 -4-3 -5 5 -60 6 -26 5 -8zM495 1064l5 5 1 16-5 50-6 4-6 -4 1 -23 4 -37z"/><path fill="#00ffa0" d="M15 0h31l12 810-2 155-4 10-7 6-10 4-10 1-10 -1-8 -5-6 -10-1 -10v-150l11 -810zM165 0h36l11 805v135l-2 15-6 10-9 6-15 3-10 -1-10 -5-5 -10-2 -13v-140zM320 0h37l10 670 1 260-3 14-5 9-10 6-15 3-14 -2-7 -5-5 -10-2 -15 2 -270 9 -660zM475 0h39l10 660 1 255-2 15-8 13-10 5-15 2h-10l-10 -5-6 -10-3 -15 1 -260 10 -660zM630 0h42l8 425 3 240v240l-3 15-6 10-14 8-15 1-15 -2-8 -7-4 -10-2 -15 3 -425 8 -480zM785 0h46l10 610 1 275-2 20-5 11-10 8-20 4-15 -1-10 -6-6 -11-2 -20 3 -404 8 -486zM945 0h46l6 370 3 240 1 270-4 20-7 8-10 6-20 3-15 -3-10 -8-4 -11-1 -20 1 -255 10 -620zM1100 0h50l10 565 1 295-2 20-4 10-4 5-11 6-20 3-15 -2-10 -7-5 -15-1 -15 1 -298zM1260 0h51l9 560 2 285-2 20-7 15-13 9-20 3-15 -2-10 -8-4 -12-2 -20 1 -295zM1425 0h48l9 590 1 240-3 25-5 12-10 7-20 5-15 -1-7 -3-5 -5-6 -15-2 -20 1 -255 5 -285 5 -295zM1585 0h50l10 640 1 175-3 25-8 15-10 7-20 4-15 -3-10 -7-5 -13-2 -23 4 -460 6 -360zM1750 0h49l7 440 3 360-3 25-6 13-10 9-20 5-15 -2-10 -8-5 -12-3 -25 3 -365 7 -440zM1915 0h47l8 440 3 345-3 25-7 15-13 10-15 3-15 -3-10 -8-5 -12-3 -25 4 -415 6 -375zM2020 865l10 -1v303l-15 1-15 -1-12 -7-5 -15-1 -25 6 -140 6 -70 4 -20 4 -10 8 -10zM1860 874h15l10 6 6 10 4 16 2 64-5 145-3 30-6 15-6 5-7 2-25 2-10 -1-10 -4-5 -7-2 -7-1 -30 4 -105 5 -70 6 -40 8 -20 10 -8zM1695 885l15 -1 10 4 8 12 4 15 1 60-6 140-2 30-6 15-5 5-9 3-25 2-10 -1-10 -4-5 -7-2 -8-1 -25 5 -95 5 -75 6 -40 9 -20 8 -7zM1535 894l15 1 10 5 6 10 4 15v65l-7 140-3 23-3 7-4 5-13 4-29 1-11 -2-5 -3-5 -10-1 -10 9 -170 5 -40 7 -25 10 -10zM1380 905l10 1 10 5 5 9 4 20-1 70-8 131-5 19-5 6-12 4h-33l-10 -3-5 -5-3 -17 6 -115 6 -75 5 -25 6 -12 10 -9zM1200 920l15 -4 15 1 10 5 6 13 2 20v35l-8 140-4 25-6 11-10 4h-40l-10 -5-3 -5-2 -10 8 -135 5 -45 4 -25 8 -18zM1045 929l15 -2 15 3 7 5 5 15 1 55-9 135-4 20-5 6-5 3-47 1-9 -5-2 -5-2 -15 11 -155 4 -25 5 -18 8 -12zM890 940l15 -1 10 2 5 2 5 7 3 10v55l-9 130-4 16-5 6-5 3h-47l-9 -5-2 -5-1 -15 13 -155 4 -25 7 -14 10 -8zM725 953l15 -3 15 2 10 6 4 12 1 50-9 120-4 20-7 8-4 2h-47l-9 -7-2 -13 11 -140 4 -25 5 -15 7 -11zM570 965l15 -3 15 2 8 6 4 10 1 20-1 30-9 115-3 15-5 7-5 3h-48l-8 -5-3 -15 12 -135 3 -20 5 -15 8 -10zM425 975h10l10 2 7 8 3 10v50l-10 108-5 12-9 5h-45l-8 -5-3 -10v-10l8 -90 6 -45 5 -15 6 -10 10 -7zM255 990l15 -3 15 1 10 7 4 10v40l-8 100-4 15-7 8-5 2h-45l-7 -5-3 -15 10 -106 4 -24 5 -15 6 -9zM105 1000l15 -2 12 2 8 6 3 9 1 40-9 95-5 14-9 6h-46l-7 -5-3 -15 12 -110 5 -20 6 -10 7 -7z"/><path fill="#00fad7" d="M490 0h10l16 625 2 185-1 110-5 10-5 5-7 3-10 2-10 -2-5 -4-6 -14-1 -110 7 -376 10 -404 1 -30zM640 0h20l15 584 3 226-1 90-2 10-5 10-5 4-10 5-10 1-10 -3-5 -4-7 -13-1 -100 5 -335zM795 0h25l4 220 6 164 6 281v225l-2 10-6 10-8 5-15 4-10 -2-10 -5-6 -12-1 -15 1 -270zM955 0h25l4 220 6 168 6 272v215l-4 15-7 10-10 5-10 2-15 -2-7 -5-6 -10-2 -15 2 -310 10 -345 4 -220zM1110 0h30l16 660v205l-5 15-6 7-10 6-15 2-10 -2-10 -8-5 -10-1 -15 1 -285zM1270 1l31 -1 15 660v190l-4 15-7 9-10 6-15 2-10 -2-10 -8-5 -12-1 -15 2 -290zM1435 0h27l16 660v175l-4 15-7 10-12 7-10 1-15 -2-7 -6-5 -10-3 -20 1 -170 5 -245 11 -415zM1595 0h30l15 665v145l-1 15-4 12-6 8-9 6-15 3-10 -2-10 -8-5 -11-2 -18 2 -235zM1760 0h28l14 660v135l-1 15-6 15-5 7-10 5-10 2-10 -2-10 -8-5 -11-2 -18 6 -420 8 -380zM1925 0h26l14 661 1 119-2 15-4 13-5 7-10 7-10 2-10 -2-10 -9-5 -13-1 -15 5 -390zM335 15l5 2 5 123 8 305 7 365v120l-4 10-4 5-7 5-10 2-10 -3-5 -4-4 -10-1 -125 9 -440zM180 134l5 -4 7 175 11 505v135l-3 8-5 6-5 3-10 2-10 -3-5 -5-2 -6-1 -10v-130l7 -370zM30 190l5 81 5 156 9 383v145l-3 10-3 5-8 5-10 1-10 -4-5 -7-1 -5v-150l11 -467 5 -117zM2020 884l10 -2v279l-15 1-15 -3-9 -9-5 -15-1 -20 5 -115 5 -60 5 -25 5 -14 5 -9zM1860 890h10l9 5 6 9 3 11 5 45-1 75-4 85-4 25-6 10-7 5-11 3-10 1-15 -3-10 -8-4 -13-1 -25 5 -113 6 -62 5 -20 6 -15 8 -10zM1695 899l10 -1 10 5 6 7 4 12 4 38-1 70-4 90-4 26-5 9-5 5-10 4-15 1-15 -3-10 -8-4 -14-1 -25 6 -110 7 -60 9 -30 8 -11zM1530 908l10 -1 10 2 7 6 5 10 3 14 2 21-1 65-5 95-3 25-4 10-9 7-10 3-15 1-15 -3-9 -8-4 -15v-20l6 -110 7 -59 5 -19 5 -11 5 -6zM1365 919l10 -2h10l10 7 4 6 6 25v45l-5 120-4 25-4 10-7 7-10 4-15 1-15 -2-10 -6-4 -9-2 -20 6 -105 7 -60 8 -29 5 -8zM1205 929l10 -3 10 1 10 7 5 8 4 28v55l-6 100-4 25-6 10-7 5-11 2-15 1-15 -3-7 -5-4 -10-1 -25 7 -102 7 -53 8 -27 6 -8zM1045 939l10 -2 10 1 10 5 5 8 4 24v50l-6 100-4 25-4 9-8 6-12 3-15 1-15 -3-8 -6-4 -10v-20l7 -100 6 -50 9 -27 6 -8zM890 949l10 -1 10 2 7 5 5 10 3 15 1 20-3 65-5 70-5 20-3 5-10 7-25 2-15 -3-8 -6-3 -10v-20l7 -95 7 -50 5 -15 6 -10 6 -6zM735 960l10 -1 10 4 7 7 4 15 1 50-7 100-5 20-5 8-15 5h-25l-10 -2-5 -4-4 -12v-20l9 -100 5 -33 5 -17 10 -14zM570 974l10 -3 10 1 10 4 5 7 4 22v40l-7 90-4 20-3 5-10 7-25 2-15 -2-8 -7-3 -10v-15l7 -80 7 -45 7 -22 6 -8zM420 984h10l10 3 7 8 4 10 1 45-7 85-4 20-6 8-15 5-20 1-15 -4-5 -6-2 -9 7 -85 5 -38 6 -22 9 -13zM260 998l10 -2 10 1 6 3 7 10 3 25-2 50-5 55-2 10-5 10-12 7-25 2-14 -4-5 -5-3 -10v-15l7 -68 7 -37 8 -21 5 -5zM105 1009l10 -2 10 1 5 3 7 9 4 25-3 50-5 50-5 15-6 5-7 3-25 1-15 -4-4 -5-3 -10 1 -10 6 -63 7 -37 8 -20 5 -6z"/><path fill="#00ebff" d="M1285 174l5 29 5 56 5 86 10 279 2 186v30l-3 15-9 12-15 6-15 -3-8 -10-3 -15v-35l2 -190 9 -266 5 -87zM1445 179l5 9 10 137 10 265 3 220-1 20-4 15-8 9-15 5-10 -2-10 -10-4 -12v-25l1 -165 8 -246 5 -106zM1610 193l10 101 5 106 8 260 1 150-3 15-6 11-10 6-10 1-10 -3-5 -5-5 -15v-155l10 -305 5 -90 5 -53zM1125 202l5 29 5 48 5 85 9 261 2 185-2 55-4 10-5 5-15 6-15 -3-5 -5-4 -8-2 -10v-50l2 -185 9 -262 5 -85 5 -47zM1775 234l5 40 8 166 6 220 1 135-1 10-4 10-10 10-10 2-7 -2-7 -5-6 -15 1 -140 9 -302 5 -84 5 -44zM965 237l5 13 5 45 5 82 9 253 2 180v60l-2 10-4 8-5 5-15 5-10 -1-5 -3-5 -5-4 -9-1 -70 2 -185 8 -218 6 -102 4 -46zM805 281l5 3 5 39 5 76 10 261 1 150-1 80-5 10-5 5-15 5-13 -5-7 -10-2 -85 2 -150 5 -156 6 -134 4 -54zM1935 290l5 2 5 48 5 94 6 226 1 120-2 14-5 9-5 4-10 3-11 -5-5 -10-2 -10 1 -125 6 -220 6 -106zM650 341l5 26 5 73 8 220 3 150-2 90-3 10-4 5-12 5-10 -2-4 -3-5 -10-2 -95 3 -150 7 -205 6 -92zM495 471l5 59 5 105 4 175-2 105-5 10-7 3-5 1-7 -4-4 -5v-5l-1 -105 3 -145 4 -110 5 -74zM335 593l5 -1 5 68 4 150-1 120-3 6-10 3-5 -2-3 -7-1 -120 4 -143zM180 709l5 -3 6 104-1 135-4 5-6 1-5 -5-1 -6v-130zM30 754l5 56v145l-1 5-4 2-7 -2v-5-145l2 -39zM2025 899l5 1v254l-15 2-10 -2-6 -4-4 -5-5 -14-1 -21 3 -75 3 -55 7 -45 8 -22 5 -7zM1865 905l10 5 5 7 5 16 3 17 1 60-4 105-3 20-7 15-10 6-15 2-10 -1-10 -7-6 -15-1 -20 4 -95 5 -55 8 -35 10 -19 5 -4zM1695 913h10l5 2 5 6 6 14 5 40-1 65-4 80-3 20-6 10-7 6-10 4h-10l-15 -4-6 -6-5 -15-1 -20 5 -100 7 -57 5 -20 5 -11 5 -7zM1535 919l10 1 6 5 6 10 5 20 2 55-5 105-3 25-6 12-10 7-20 3-10 -2-8 -5-4 -5-3 -10-1 -20 4 -80 6 -55 6 -34 10 -22 5 -5zM1370 928l10 -1 10 6 5 7 3 10 4 35v55l-5 85-4 20-6 10-7 5-20 3-15 -2-7 -6-6 -15v-20l6 -95 7 -55 5 -18 5 -11 5 -6zM1205 939l15 -3 10 6 5 7 6 26 1 45-6 105-4 20-5 10-6 5-11 4-10 1-15 -2-10 -8-4 -10-1 -15 6 -90 6 -55 9 -30 7 -10zM1045 949l15 -3 10 5 5 6 6 23 1 40-6 105-3 20-5 10-5 5-8 4-15 2-15 -2-10 -7-5 -12v-15l6 -90 7 -50 8 -25 6 -10zM885 960l15 -4 10 4 5 5 6 20 2 40-6 100-3 20-4 9-5 6-10 4-15 2-15 -2-7 -4-6 -10-1 -15 6 -85 7 -50 8 -25 7 -10zM730 969l10 -2 10 3 5 4 5 9 4 27v40l-6 80-4 20-4 7-5 5-10 3-15 1-11 -1-10 -5-5 -10-1 -15 6 -80 7 -45 9 -27 6 -8zM580 979l10 2 7 4 6 10 2 10 1 45-6 85-4 15-6 10-11 5-19 1-15 -4-5 -5-3 -7-1 -15 6 -70 6 -40 7 -24 10 -15zM415 994l10 -2 10 2 5 4 4 7 5 25-1 35-5 70-4 15-4 8-5 4-10 3-15 1-10 -1-10 -6-4 -9v-15l5 -65 7 -40 10 -25zM265 1005h10l9 5 5 10 2 10 1 40-6 70-5 15-6 6-15 5-15 -1-14 -5-5 -10v-10l6 -65 5 -30 8 -23 10 -13zM100 1020l15 -5 10 3 5 5 6 17 1 30-6 70-2 10-4 7-5 5-10 3-15 1-10 -1-9 -5-3 -5-2 -10 5 -55 6 -35 8 -23z"/><path fill="#00cdeb" d="M1285 435l5 15 2 20 8 103 4 92 1 145v30l-2 10-8 10-10 4-12 -4-6 -10-2 -40 2 -145 3 -82 7 -103 3 -27zM1125 447l5 16 1 12 9 114 3 76 2 145-2 50-3 7-5 6-10 4-10 -2-5 -5-3 -5-2 -55 2 -145 3 -77 9 -118zM1445 454l5 5 5 39 5 71 4 96 1 145v20l-4 10-6 5-10 3-10 -3-5 -7-2 -28 3 -190 9 -138zM965 473l5 12 5 44 5 75 4 206-2 65-7 11-10 3-10 -3-5 -6-1 -5-2 -65 2 -145 2 -55 9 -116zM1610 487l5 28 8 125 2 170-5 15-10 6-8 -1-6 -5-3 -15 2 -177 5 -84 5 -49zM805 537l5 1 5 38 5 74 3 160-2 75-1 5-5 6-10 3-9 -4-2 -5-2 -80 3 -166 5 -73zM1770 564l5 -1 5 48 3 54 2 130-1 5-4 8-5 4h-5l-5 -2-3 -5-2 -10 2 -135 3 -48zM650 652l5 35 4 123-3 90-6 6-5 -3-1 -3-3 -90 4 -120zM1935 673l5 13 3 94-3 8-5 2-3 -5v-5zM2020 919l5 -2 5 1v229l-15 3-10 -3-7 -7-4 -10-1 -20 3 -85 4 -48 5 -27 5 -15 5 -10zM1855 923l10 -3 5 3 5 6 5 12 5 34 1 50-4 90-2 15-4 10-6 7-10 5-10 1-11 -3-9 -10-3 -10-1 -15 4 -90 5 -49 9 -36 6 -12zM1690 929l10 -4 5 2 5 4 5 9 6 30 2 55-4 90-4 20-5 10-5 5-10 5-10 1-10 -3-9 -8-5 -15v-15l4 -85 5 -47 9 -38zM1530 932l10 -1 5 2 5 5 5 11 5 29 1 47-5 95-2 15-4 10-5 6-10 6-10 1-15 -3-7 -5-4 -10-2 -20 5 -90 6 -50 8 -30 6 -10zM1370 939l10 -1 5 3 5 6 5 12 4 36v50l-4 75-4 20-5 10-6 5-10 4-10 1-15 -4-6 -6-4 -11-1 -19 6 -90 6 -45 9 -30 5 -8zM1205 949l5 -3h10l6 4 7 10 5 25 1 45-5 90-3 20-5 10-6 6-10 4-10 1-11 -1-9 -5-6 -10-2 -20 6 -85 6 -45 9 -30 5 -10zM1055 955l10 2 5 5 5 11 3 17 1 45-5 90-4 19-7 11-13 7h-15l-15 -5-5 -7-3 -10 6 -95 5 -40 7 -26 10 -17 5 -4zM895 965l10 2 5 4 5 9 4 20 1 45-6 85-3 15-6 10-10 6-20 2-10 -3-5 -3-5 -7-2 -10 6 -90 6 -40 7 -25 8 -12 5 -5zM730 977l10 -2 5 2 5 3 7 10 4 25v45l-5 70-3 15-6 10-6 5-11 3-10 1-15 -4-6 -5-3 -10-1 -15 6 -75 7 -40 9 -25 8 -10zM575 988h10l10 6 5 10 2 11 2 40-6 75-3 15-5 10-10 6-20 2-10 -2-5 -3-6 -13 4 -65 5 -40 7 -28 10 -17zM415 1003l10 -3 5 1 5 3 5 6 6 25-1 40-5 60-4 15-6 8-5 2-20 3-10 -2-8 -6-4 -10v-10l6 -65 6 -33 8 -22zM265 1013l10 1 5 4 5 7 3 15 1 35-5 60-4 15-5 7-10 5-15 1-12 -3-6 -5-2 -5-2 -10 5 -50 5 -35 7 -22 10 -14zM110 1024l10 1 5 4 5 8 3 13 1 30-6 60-3 10-5 7-10 5-15 2-13 -4-5 -5-2 -5-1 -10 4 -45 5 -30 7 -22 10 -14z"/><path fill="#00aad7" d="M1285 636l5 15 1 14 4 145-2 35-3 4-5 2-5 -2-3 -4-2 -35 4 -145 1 -11zM1125 645l5 20 5 145-3 45-2 6-5 2-6 -3-4 -50 5 -145zM1445 684l5 27 3 99-2 20-6 2-2 -2-1 -5-2 -15zM965 704l5 35 2 71-2 37-5 19-6 -56zM1700 940l5 2 6 8 4 12 3 23 1 45-3 85-5 20-6 9-10 6-10 1-13 -6-4 -5-3 -10-1 -15 4 -85 5 -40 7 -30 10 -17 5 -3zM1855 939l5 -3 5 1 5 3 5 10 6 30 1 50-5 95-4 10-8 9-5 2-10 2-10 -4-5 -6-4 -8-1 -15 3 -85 4 -40 8 -34zM2020 938l5 -2 5 1v203l-5 2-10 1-10 -4-5 -8-3 -21 3 -88 4 -37 6 -29 5 -11zM1530 944l5 -2 8 3 5 5 4 10 5 25 1 45-6 100-4 10-8 10-15 4-10 -1-10 -8-4 -10-2 -15 5 -85 6 -45 8 -30 7 -12zM1370 949l10 1 5 3 7 17 4 30v50l-4 70-2 15-5 10-5 6-10 4-10 1-10 -2-9 -9-4 -10v-15l5 -80 5 -45 9 -30 7 -10zM1205 959l10 -4 5 1 5 4 5 9 6 26v40l-6 100-4 10-6 7-10 5-10 1-10 -1-10 -8-4 -9-1 -15 5 -80 5 -39 8 -31 7 -12zM1050 964h10l5 4 7 12 5 30-1 45-4 70-3 15-4 8-5 6-10 4-10 2-10 -2-10 -6-5 -12-1 -15 6 -77 6 -43 9 -26 5 -8zM890 974l10 -1 5 3 5 6 3 8 4 25v45l-7 80-5 10-5 5-10 4-10 1-10 -1-10 -7-3 -7-2 -15 6 -75 6 -40 8 -25 5 -8zM735 984l10 1 5 5 5 10 3 15 1 40-5 75-4 15-5 8-10 6-15 2-15 -5-7 -11-1 -15 5 -55 5 -40 8 -30 10 -16zM570 999l10 -4 5 1 5 3 5 7 5 19 1 35-5 70-4 15-7 10-10 5-10 1-10 -2-8 -4-5 -10-1 -10 5 -60 5 -35 9 -28zM420 1009l10 1 5 5 5 10 2 10 1 35-5 65-3 10-7 10-8 4-15 1-13 -5-6 -10v-10l4 -50 4 -30 6 -22 10 -18zM260 1024l10 -2 5 2 7 11 4 20v30l-7 60-9 11-10 4h-10l-10 -3-5 -4-3 -8v-10l4 -50 5 -25 9 -25zM105 1034l10 -2 5 3 5 6 5 19v31l-5 49-3 10-5 5-7 4-15 2-14 -6-3 -5-1 -10 5 -50 5 -25 8 -21z"/><path fill="#008cc8" d="M1535 955l5 1 7 9 3 10 4 20 1 40-4 80-3 15-4 10-9 8-10 2-10 -2-8 -8-4 -10v-15l4 -80 6 -40 7 -25 5 -9 5 -5zM1695 955h6l4 3 3 7 7 30 1 40-4 80-2 12-5 10-10 8-10 1-11 -6-4 -7-2 -8 2 -65 3 -45 5 -30 7 -19 5 -8zM1860 953l5 2 5 6 7 29 1 40-3 80-3 15-5 10-7 5-10 1-5 -1-6 -5-5 -15 3 -85 3 -32 5 -26 5 -13 5 -8zM1375 959l5 2 6 9 4 10 3 20 1 40-5 80-3 15-6 10-10 6-10 1-9 -2-6 -5-5 -15 4 -85 5 -40 6 -24 10 -17 5 -4zM2020 960l5 -3 5 3v171l-10 5-7 -1-7 -5-4 -10-1 -10 6 -105 4 -25 4 -12zM1215 965l5 2 6 8 4 10 3 20 1 40-5 75-2 15-7 12-10 6-10 2-10 -2-5 -3-5 -8-2 -7 4 -80 4 -40 8 -30 6 -11 5 -6zM1050 973l10 1 5 5 5 11 4 30v40l-5 65-3 15-6 9-5 4-15 4-10 -2-7 -5-5 -10-1 -15 5 -70 5 -40 8 -25 5 -9zM890 982h10l5 4 5 9 5 25v40l-5 67-3 13-6 10-6 5-15 2-10 -2-7 -5-5 -10v-15l5 -70 6 -35 9 -25 7 -10zM730 993l10 -1 5 2 7 11 4 25v40l-7 70-4 8-5 5-10 4-10 1-10 -3-6 -5-4 -10v-10l5 -65 5 -33 9 -27zM575 1005h10l5 4 5 11 3 25v30l-5 55-3 14-4 6-6 5-15 3-10 -2-8 -6-3 -10v-10l5 -60 6 -34 10 -23zM415 1020l10 -2 5 2 5 7 4 18 1 25-6 70-4 8-5 5-15 4-10 -1-5 -3-5 -8-2 -10 5 -55 5 -25 7 -22zM260 1033l10 -2 5 4 3 5 4 15 1 25-5 55-3 10-5 7-5 3-10 2-10 -2-5 -3-5 -7v-5l5 -55 3 -20 7 -20zM105 1043l5 -2 5 1 7 8 5 20-1 25-6 51-10 10-15 1-10 -4-5 -8v-5l5 -50 4 -20 6 -16z"/><path fill="#006ebe" d="M1530 969l5 -1 5 2 6 10 4 25 1 35-5 85-4 10-4 5-8 5h-5l-10 -3-5 -5-4 -17 4 -80 4 -30 6 -25 5 -10zM1370 972l5 -1 5 3 7 16 4 30-1 41-5 69-5 10-5 5-5 2-10 1-9 -3-5 -5-3 -10-1 -10 4 -70 4 -32 5 -22 5 -13 5 -8zM1690 975l5 -4 5 1 5 6 5 20 2 32-5 90-2 8-5 7-10 5-10 -2-5 -5-3 -8-1 -10 6 -95 5 -25zM1860 973l5 3 5 13 3 46-3 80-5 13-10 7-5 -1-7 -4-4 -10-1 -10 4 -75 3 -30 5 -19 5 -10zM1205 978l5 -3h5l5 3 5 8 5 24 1 35-6 86-4 9-6 7-6 3-9 1-10 -2-5 -5-4 -9-1 -10 5 -75 4 -30 6 -25zM1045 985l5 -3 5 -1 5 3 5 7 6 24 1 35-7 85-5 10-5 4-15 4-10 -2-7 -6-3 -10-1 -10 5 -70 4 -30 7 -24zM895 990l5 2 5 5 5 13 2 15v35l-4 65-3 14-5 8-10 6-10 2-10 -3-5 -4-5 -13 5 -70 5 -35 5 -19 10 -17zM2020 987l5 -2 5 7v124l-5 8-5 3-5 -1-5 -5-2 -11 3 -85 4 -26zM735 1000l5 1 5 4 5 9 3 16 1 35-5 65-3 10-6 9-10 6h-10l-12 -5-5 -10-1 -10 5 -60 3 -25 7 -25 8 -14zM575 1013l5 -1 5 3 6 10 4 20v32l-7 63-8 11-15 4-10 -3-5 -4-3 -8-1 -10 5 -55 4 -25 10 -28zM415 1029l5 -2h5l7 8 4 15 1 25-6 65-8 10-13 4-13 -4-4 -5-1 -10 8 -75 5 -16zM260 1043l5 -2 5 1 5 7 4 16v20l-6 55-7 10-11 3-11 -3-5 -5-1 -10 7 -61 5 -17 5 -9zM105 1052l5 -1 5 2 5 7 3 15v15l-7 55-6 7-10 2-13 -4-3 -10 7 -60 4 -15z"/><path fill="#0050af" d="M1370 984h5l5 5 5 15 2 11v30l-3 70-3 15-6 10-5 3-10 1-10 -6-5 -13 4 -70 7 -45 5 -15 4 -7zM1530 984l5 -1 5 4 5 13 2 20v25l-5 80-7 12-10 3-5 -1-6 -4-4 -9-1 -11 6 -88 5 -24 5 -13zM1205 989l5 -3h5l5 5 4 9 3 20 1 30-6 80-7 12-5 4-10 2-8 -3-5 -5-4 -15 7 -94 5 -22 5 -13zM1045 994l5 -3h5l5 4 5 10 3 20 1 30-5 70-2 10-7 10-5 3-10 2-10 -3-5 -6-3 -16 4 -65 4 -28 5 -19zM1690 995l5 -5 6 5 4 13 2 27-4 80-3 11-5 5-5 2h-5l-5 -4-4 -14 4 -80 5 -29zM890 1000l5 -1 5 3 6 13 4 25-1 30-6 65-8 12-5 3-10 1-6 -1-7 -5-4 -10v-10l8 -85 9 -29zM1855 1004l5 -3 5 9 2 25-4 80-3 7-5 3h-5l-4 -5-1 -10 4 -80 1 -11zM735 1009l5 1 5 6 6 24v30l-5 60-6 15-10 6-10 1-10 -5-5 -12 4 -65 6 -30 5 -16 5 -9 5 -5zM575 1022h5l5 3 5 12 2 18v25l-4 50-3 10-10 10-10 2-10 -4-5 -8v-19l5 -51 4 -20 6 -17 5 -7zM415 1039l5 -2 5 2 5 7 3 14v20l-6 60-7 8-10 3-10 -4-5 -7v-5l7 -65 6 -20zM260 1054l5 -1 5 3 4 14 1 15-6 55-4 6-10 3-10 -4-2 -10 6 -60 6 -15zM105 1064l5 -1 5 4 3 13v15l-4 45-4 6-10 4-5 -1-5 -3-2 -6 6 -55 6 -16z"/><path fill="#0032a0" d="M1210 998l5 1 5 8 4 23 1 25-4 65-2 10-4 7-5 4-10 2-10 -5-4 -13 4 -65 6 -40 6 -15zM1370 998l5 1 5 9 3 22-3 90-3 10-4 5-8 4h-5l-7 -4-4 -10 4 -70 2 -21 5 -21 5 -11zM1045 1005l5 -3h5l6 8 4 20 1 30-6 70-5 10-7 5-8 1-6 -1-6 -5-2 -5-1 -10 6 -80 4 -20 5 -13zM1530 1002l5 -1 5 9 3 20v20l-4 70-5 10-9 4-5 -1-5 -7-1 -11 5 -85 6 -21zM890 1009h5l5 5 5 14 2 27-2 34-5 46-8 10-12 3-8 -3-4 -5-2 -15 4 -60 4 -25 6 -19 5 -8zM730 1020l5 -1 5 2 5 10 3 19v20l-6 65-7 10-10 4-12 -4-4 -5-1 -10 7 -77 5 -18 5 -10zM1695 1021l4 19-3 75-2 5-4 3-5 -2-2 -6 2 -42 4 -43 1 -5zM575 1032l5 1 5 6 3 16 1 20-4 49-1 11-4 7-5 4-10 2-7 -3-5 -10 2 -34 6 -46 6 -15zM420 1049l5 5 4 16-4 58-3 12-6 5-6 1-5 -1-5 -5-1 -5 5 -50 6 -26 5 -8zM265 1070l4 15-5 50-2 5-7 3-6 -3v-5l4 -45 2 -11 5 -9zM105 1081l5 2 1 2-1 29-3 26-7 4-5 -3v-7l5 -44z"/><path fill="#001491" d="M1050 1014l5 2 2 4 5 20v20l-4 65-3 9-5 6-10 2-6 -2-4 -5-2 -5 4 -65 3 -22 5 -18 5 -8zM1205 1015l5 -3 5 3 2 5 3 15 1 25-5 65-6 11-10 3-5 -3-4 -6-1 -10 5 -74 5 -21zM1370 1016l5 4 1 5 3 30-4 65-4 10-6 3-5 -1-3 -2-3 -10 5 -80 6 -20zM885 1025l5 -5 5 1 5 8 3 16v20l-5 65-3 8-5 4-10 2-5 -2-5 -6-1 -11 6 -72 5 -19zM735 1030l5 5 2 5 3 20-5 70-5 10-10 5-10 -4-3 -6 3 -57 4 -23 4 -15 7 -9zM1530 1028l5 7v36l-3 49-2 3-5 2-4 -5v-5l4 -70zM575 1045l5 2 5 18-5 65-1 5-4 6-10 2-5 -2-3 -6 4 -55 4 -21 5 -10zM415 1069h5l2 16-4 50-3 4-5 1-4 -5 4 -53z"/><path fill="#000082" d="M1050 1028l5 6 3 21-4 70-4 8-5 4h-5l-5 -3-3 -9 4 -60 4 -22 5 -12zM890 1034l5 3 4 18-4 70-1 5-4 7-5 2h-5l-5 -3-2 -6 4 -60 3 -20 5 -12zM1205 1033l5 -3 4 10 1 30-4 55-6 7h-5l-5 -6v-6l4 -65zM730 1044l5 1 3 5 2 10v15l-4 55-6 9-5 1-5 -1-3 -4-2 -5 5 -60 5 -19zM575 1064l3 16-4 50-4 6h-5l-2 -6 4 -50 3 -12z"/></svg><div class="ax" style="left:61px;top:224px;width:1px;height:118px;background:#a0a0a0"></div><div class="ax" style="left:61px;top:341px;width:204px;height:1px;background:#8a8a8a"></div><div class="ax" style="left:62px;top:333px;width:2px;height:1px;background:rgba(40,40,40,.28)"></div><div class="ax" style="left:62px;top:326px;width:2px;height:1px;background:rgba(40,40,40,.28)"></div><div class="ax" style="left:62px;top:319px;width:2px;height:1px;background:rgba(40,40,40,.28)"></div><div class="ax" style="left:62px;top:311px;width:2px;height:1px;background:rgba(40,40,40,.28)"></div><div class="ax" style="left:62px;top:304px;width:3px;height:1px;background:rgba(0,0,0,.6)"></div><div class="ax" style="left:62px;top:297px;width:2px;height:1px;background:rgba(40,40,40,.28)"></div><div class="ax" style="left:62px;top:289px;width:2px;height:1px;background:rgba(40,40,40,.28)"></div><div class="ax" style="left:62px;top:282px;width:2px;height:1px;background:rgba(40,40,40,.28)"></div><div class="ax" style="left:62px;top:275px;width:2px;height:1px;background:rgba(40,40,40,.28)"></div><div class="ax" style="left:62px;top:268px;width:3px;height:1px;background:rgba(0,0,0,.6)"></div><div class="ax" style="left:62px;top:260px;width:2px;height:1px;background:rgba(40,40,40,.28)"></div><div class="ax" style="left:62px;top:253px;width:2px;height:1px;background:rgba(40,40,40,.28)"></div><div class="ax" style="left:62px;top:246px;width:2px;height:1px;background:rgba(40,40,40,.28)"></div><div class="ax" style="left:62px;top:238px;width:2px;height:1px;background:rgba(40,40,40,.28)"></div><div class="ax" style="left:62px;top:231px;width:3px;height:1px;background:rgba(0,0,0,.6)"></div><div class="ax" style="left:62px;top:224px;width:2px;height:1px;background:rgba(40,40,40,.28)"></div><div class="ax" style="left:112px;top:338px;width:1px;height:3px;background:rgba(25,25,25,.75)"></div><div class="ax" style="left:163px;top:338px;width:1px;height:3px;background:rgba(25,25,25,.75)"></div><div class="ax" style="left:213px;top:338px;width:1px;height:3px;background:rgba(25,25,25,.75)"></div><div class="tl" style="right:491.5px;top:334.7px">0</div><div class="tl" style="right:491.5px;top:298.1px">0.05</div><div class="tl" style="right:491.5px;top:261.4px">0.1</div><div class="tl" style="right:491.5px;top:224.8px">0.15</div><div class="xl c" style="left:41.6px;top:340.8px">2</div><div class="xl c" style="left:92.3px;top:340.8px">4</div><div class="xl c" style="left:143.0px;top:340.8px">6</div><div class="xl c" style="left:193.7px;top:340.8px">8</div><div class="xl c" style="left:244.4px;top:340.8px">10</div><div class="at c" style="left:143.0px;top:349.6px">x</div><div class="at yt" style="left:22.5px;top:274.8px">y</div><div class="cb" style="left:114px;top:189px;background:linear-gradient(90deg,#000082 0.00% 4.17%,#001491 4.17% 8.33%,#0032a0 8.33% 12.50%,#0050af 12.50% 16.67%,#006ebe 16.67% 20.83%,#008cc8 20.83% 25.00%,#00aad7 25.00% 29.17%,#00cdeb 29.17% 33.33%,#00ebff 33.33% 37.50%,#00fad7 37.50% 41.67%,#00ffa0 41.67% 45.83%,#00fa5a 45.83% 50.00%,#00ff14 50.00% 54.17%,#78ff00 54.17% 58.33%,#c8ff00 58.33% 62.50%,#fff500 62.50% 66.67%,#f0dc00 66.67% 70.83%,#e6c300 70.83% 75.00%,#dcaa00 75.00% 79.17%,#d28c00 79.17% 83.33%,#c86e00 83.33% 87.50%,#be5000 87.50% 91.67%,#af3200 91.67% 95.83%,#a01400 95.83% 100.00%)"></div><div class="lg" style="left:72.5px;top:210.4px">u:</div><div class="lg" style="left:90.8px;top:210.4px">-6.0x10<sup>-05</sup></div><div class="lg" style="left:152.2px;top:210.4px">4.0x10<sup>-05</sup></div><svg class="fs" style="left:336px;top:224px" width="203" height="117" viewBox="0 0 2030 1170" fill-rule="evenodd"><rect width="2030" height="1170" fill="#00fa5a"/><path fill="#00ff14" d="M15 0h95l-9 655-1 325-15 4-44 6-7 5-17 175h-17v-178l15 -3 8 -4-1 -310-7 -455-2 -220zM170 0h93l-8 685-1 280-4 5-55 8-5 2-2 5-18 185h-78l18 -182 3 -3 7 -2 56 -8v-295l-9 -675v-5zM325 0h92l-8 660v295l-14 5-41 5-11 5-18 200h-79l19 -195 10 -4 49 -6 7 -5-1 -300-8 -655v-5zM480 0h93l-7 590-1 350-1 5-4 1-55 8-3 1-3 5-18 210h-80l18 -205 6 -5 61 -10-1 -300-7 -645v-5zM640 0h90l-6 465-2 465-2 5-5 1-55 8-4 6-18 220h-80l17 -215 3 -5 7 -2 55 -7 2 -1 1 -5-1 -410-7 -525zM795 0h92l-4 375-2 545-6 5-55 8-5 2-1 5-18 230h-81l18 -225 2 -5 5 -2 55 -7 2 -1 4 -5-1 -355-6 -565zM955 0h91l-4 375-1 535-10 5-43 5-14 5-18 245h-82l19 -240 12 -4 48 -6 7 -5zM1120 0h87l-4 375-1 525-12 4-46 6-10 5-17 255h-83l18 -250 12 -5 43 -5 14 -5-2 -510-4 -395zM1280 0h89l-4 410-1 475-1 5-3 2-55 7-10 6-16 265h-83l17 -260 8 -5 49 -6 12 -4-1 -505-4 -390zM1445 0h88l-3 380-2 495-3 5-55 8-8 2-4 5-16 275h-83l16 -270 5 -5 5 -1 55 -7 4 -2 2 -5-2 -500-4 -380zM1605 0h94l-4 360-2 505-7 5-56 8-6 2-2 5-15 285h-84l15 -280 3 -5 4 -1 60 -9 5 -5zM1770 0h97l-5 440-3 415-9 4-55 7-7 4-1 5-13 295h-85l14 -290 1 -5 6 -3 54 -7 12 -5-2 -505zM1940 0h90v608l-2 232-4 5-4 1-55 8-5 1-6 5-13 310h-85l13 -305 11 -5 55 -7 7 -3 2 -5-9 -845zM2030 1015v155h-6z"/><path fill="#78ff00" d="M40 0h45l-1 225 8 435 1 285-3 15-5 8-10 6-15 3-15 -1-9 -6-5 -10-1 -10 1 -285 8 -440-1 -225zM195 0h44l-1 225 6 290 3 415-3 15-6 10-13 8-15 1-10 -1-10 -6-5 -10-2 -12 3 -415 6 -295-1 -225zM345 0h50v220l7 440v255l-3 15-4 10-10 8-20 4-10 -1-10 -6-5 -10-2 -15 2 -400 5 -295zM500 0h53v225l6 375-1 300-3 20-5 9-10 7-15 3-15 -1-10 -7-5 -11-2 -15v-245l6 -435v-225zM655 0h57v225l5 245-1 420-3 20-6 10-12 7-15 2-15 -2-9 -7-5 -10-2 -15v-380l5 -290zM815 0h57v220l4 205v450l-1 15-6 15-9 9-20 5-15 -2-10 -5-6 -12-3 -20v-465l4 -195 1 -220zM970 0h63l4 515-1 350-2 20-5 10-9 8-20 5-15 -1-13 -7-5 -10-2 -20v-530l2 -120 1 -220zM1130 0h65l3 515-1 335-2 23-5 11-10 9-20 4-15 -1-11 -6-6 -10-3 -20v-570l3 -290zM1290 0h67l4 515-1 325-4 25-6 10-10 7-20 4-15 -2-10 -6-6 -13-2 -20-1 -330zM1455 0h66l3 515v310l-4 25-5 11-10 8-20 5-15 -2-12 -7-6 -15-2 -20v-575l2 -255zM1620 0h65l4 440-1 370-3 25-5 12-10 9-20 5-15 -1-10 -6-7 -14-3 -20v-535l3 -285zM1785 0h65l4 450-1 345-3 25-5 13-10 10-10 4-10 1-15 -2-10 -8-6 -13-2 -25-1 -435zM1960 0h55v225l3 290v265l-4 25-7 15-12 9-15 3-15 -5-6 -7-6 -15-2 -20v-270l4 -290v-225zM1895 875l10 -4h15l10 4 5 5 5 10 2 10 3 40-4 170-4 35-6 15-6 5-10 3-15 1-20 -1-8 -3-6 -5-4 -10-1 -20 6 -135 5 -70 8 -33 5 -9zM1730 884l10 -3h15l10 4 5 5 7 20 2 45-6 160-3 31-5 14-5 5-10 3-20 2-20 -2-10 -5-5 -11-1 -22 6 -131 6 -69 4 -19 5 -14 6 -7zM1580 890l15 2 10 7 5 10 3 16v70l-7 140-4 20-7 10-15 5h-30l-15 -5-5 -8-2 -12 5 -105 6 -85 4 -30 7 -19 11 -11zM1415 900l15 1 10 5 6 9 3 15v65l-8 145-3 15-3 7-5 4-13 4h-34l-13 -5-5 -8-1 -12 5 -110 6 -75 5 -29 6 -16 11 -10zM1255 910h10l11 5 7 10 3 15v70l-9 135-4 15-8 8-8 2h-40l-12 -6-4 -9v-10l6 -115 7 -70 5 -25 6 -12 10 -8zM1095 920h10l11 5 7 10 2 15-1 65-9 133-5 15-10 7h-48l-9 -5-3 -7-1 -13 8 -120 7 -65 5 -20 6 -10 10 -6zM915 934l20 -4 15 2 10 8 4 10 2 20-1 30-9 135-5 25-6 8-6 2h-48l-9 -5-2 -5-1 -15 10 -140 8 -50 8 -14zM760 944l15 -3 15 2 10 6 4 11 2 20v30l-10 130-4 20-7 8-5 2h-48l-9 -5-2 -5-1 -15 12 -145 4 -25 5 -15 7 -10zM605 954l15 -2 15 3 7 5 5 15v55l-10 115-3 15-4 6-5 3-50 1-5 -2-5 -5-2 -18 12 -139 5 -26 5 -12 10 -10zM455 965l15 -1 10 4 6 7 3 10v50l-9 111-5 17-10 7h-46l-9 -5-3 -10-1 -10 8 -85 6 -51 4 -19 6 -12 10 -9zM290 980l15 -3 15 2 8 6 4 10 2 15-1 30-8 100-5 20-5 7-8 3h-42l-10 -5-2 -5-2 -10 11 -110 5 -30 5 -15 8 -10zM145 990h15l10 4 5 6 3 10v45l-9 95-4 11-5 6-5 2-45 1-10 -6-3 -14 7 -70 6 -48 5 -19 5 -10 10 -9zM5 1002l10 3 5 5 4 15 1 20-10 105-5 14-10 6v-169z"/><path fill="#c8ff00" d="M520 0h13l2 220 12 220 5 220-2 245-3 10-7 8-15 5-10 -1-5 -3-5 -5-3 -9-2 -100v-145l3 -150 7 -186 7 -109 2 -220zM675 0h20l3 220 11 255 2 185-1 230-5 15-5 7-10 5-10 2-10 -2-5 -3-5 -6-3 -8-2 -90 1 -300 12 -290 2 -220zM825 0h33l3 220 7 165 3 275-1 215-3 15-6 10-11 7-10 1-10 -1-10 -5-6 -12-2 -15-1 -210 3 -250 8 -195zM980 0h42l2 220 4 95 3 200v345l-2 15-4 10-10 9-15 4-15 -2-8 -6-5 -10-2 -15v-350l3 -180 5 -115zM1140 0h44l8 515 1 330-3 20-5 10-10 8-15 4-10 -1-11 -6-6 -10-3 -20v-335l3 -225zM1300 0h47l8 515v320l-4 20-6 11-10 6-15 3-10 -1-10 -6-6 -13-2 -15-1 -325zM1465 0h45l9 515-1 305-3 20-5 11-10 8-15 4-10 -1-11 -7-6 -10-3 -20 1 -385 7 -440zM1630 0h43l8 350 2 310-1 145-2 18-5 12-10 10-15 4-15 -3-7 -6-5 -10-3 -20-1 -150 2 -225zM1800 0h36l4 220 6 215v360l-2 15-8 15-11 8-10 1-10 -2-10 -8-5 -12-2 -17 1 -425 10 -370zM1975 0h21l2 220 7 167 3 128v265l-2 15-5 10-6 6-10 4-10 -2-9 -8-4 -10-2 -15-1 -120 3 -215 9 -225zM370 233l5 16 5 48 8 148 6 220v245l-2 15-7 10-10 5-10 1-6 -1-8 -5-3 -5-2 -10-1 -145 5 -260 5 -137 7 -98 3 -31zM215 288l5 14 5 48 6 95 6 220 2 265-2 10-7 9-10 5-10 1-12 -5-4 -5-3 -10v-125l2 -150 7 -222 7 -103 3 -30zM60 320l5 5 4 30 6 80 8 225 2 150v137l-2 8-8 8-15 5-10 -2-5 -2-6 -9-1 -10 2 -280 5 -150 5 -108 5 -60zM1900 889l10 -2 10 2 8 6 6 10 6 30 1 45-4 130-2 25-5 14-5 7-10 5-15 3-15 -2-13 -7-6 -15-2 -20 5 -115 6 -60 5 -25 5 -14 5 -8zM1745 895l10 2 10 9 5 12 3 17 2 65-5 120-3 20-7 15-6 5-9 4-20 1-10 -2-10 -5-5 -8-2 -10-1 -25 6 -115 5 -50 7 -30 5 -10 9 -10 6 -3zM1570 904l10 -2 11 3 9 8 5 11 5 36-1 65-5 95-4 27-5 9-10 7-10 3h-15l-15 -3-10 -8-4 -15v-20l6 -110 7 -60 5 -20 6 -13 6 -7zM1405 914l10 -3 10 1 10 7 5 8 5 23 1 50-6 120-3 25-4 10-8 7-10 4-15 1-15 -1-12 -6-5 -10-2 -25 7 -110 7 -58 5 -19 5 -11 5 -7zM1240 924l10 -3h10l10 4 5 5 5 12 2 13 2 45-7 120-3 25-4 10-5 6-10 5-20 2-15 -2-11 -6-5 -10-1 -20 7 -105 6 -55 9 -30 5 -8zM1090 929l10 1 11 5 6 10 4 15 1 55-7 115-4 20-6 11-15 7h-25l-13 -3-6 -5-4 -15v-20l8 -110 5 -40 8 -25 6 -10 6 -5zM930 940h10l11 5 6 10 4 15v55l-7 105-3 20-6 11-6 4-9 3-25 1-14 -4-6 -5-4 -15 9 -123 5 -37 7 -25 7 -10 6 -5zM760 953l10 -2 10 -1 10 4 6 6 4 10 2 15v45l-7 100-5 24-5 8-10 5-25 2-15 -3-9 -6-3 -10v-15l7 -90 6 -50 9 -27 6 -8zM605 964l10 -2h10l10 6 5 8 4 29-2 60-6 70-5 20-6 8-5 3-15 3h-15l-15 -4-6 -5-3 -10v-20l7 -85 7 -44 5 -17 5 -9 5 -5zM455 974h10l10 4 6 7 4 15 1 45-7 90-5 20-9 10-15 3h-20l-10 -3-5 -3-5 -12v-15l8 -90 5 -30 7 -21 10 -13zM295 988l10 -1 10 2 5 3 5 8 4 15 1 15-3 50-5 60-4 15-4 5-9 6-25 2-15 -3-7 -5-3 -10v-15l7 -75 8 -40 5 -14 5 -8 5 -5zM145 999l10 1 10 5 5 7 3 13 1 40-7 75-4 15-8 9-15 4h-20l-10 -3-5 -4-4 -11 8 -90 6 -28 7 -17 9 -10zM5 1013l9 7 4 10 2 35-7 80-4 10-4 6-5 4v-153z"/><path fill="#fff500" d="M1155 0h12l3 47 6 173 4 60 8 380-2 190-2 10-6 10-8 6-10 2-12 -3-9 -10-3 -10-1 -45v-205l5 -242zM1315 0h17l12 290 6 370-2 180-3 10-5 8-10 6-10 2-10 -3-5 -4-5 -8-2 -11-1 -35-1 -145 4 -250 4 -155zM1480 0h15l12 270 6 390-1 165-3 10-6 10-8 5-10 3-10 -2-5 -4-5 -7-3 -10-2 -165 7 -410 8 -192 3 -63zM1650 14l5 13 5 62 11 216 5 360-1 146-2 9-6 10-7 5-10 3-10 -2-5 -4-5 -8-2 -9-2 -150 6 -375 13 -238zM1000 42l5 31 6 152 8 90 7 350-1 200-4 10-6 8-15 6-10 -2-5 -2-7 -10-2 -10-1 -200 7 -335 9 -110 4 -119zM1815 182l5 6 5 50 10 147 2 60 2 220-2 135-7 15-5 4-10 2-5 -1-7 -5-4 -5-2 -10-2 -135 4 -285 6 -102zM840 248l5 6 5 28 9 108 5 275-1 210-2 10-6 8-5 3-10 3-10 -2-5 -4-6 -13-1 -215 5 -260 7 -98 5 -41zM680 334l5 -3 5 23 5 49 5 77 3 185-1 225-2 6-5 7-5 3-10 2-10 -4-5 -7-1 -7-1 -225 2 -160 5 -86 5 -55zM525 433l5 9 5 46 5 87 2 90-1 235-1 6-5 7-10 4-10 -4-4 -8-2 -240 6 -145 5 -62zM1985 432l5 29 7 204-2 115-3 10-7 5-5 -1-5 -4-2 -5-2 -120 5 -150 4 -69zM370 516l5 23 5 66 3 60 2 145-1 105-4 10-10 5-10 -3-4 -7-1 -110 5 -206 5 -66zM215 585l5 21 5 59 4 145v120l-4 9-10 5h-5l-6 -4-3 -10v-120l4 -134 5 -69zM60 599l5 7 6 54 5 145v75 65l-6 10-10 3-10 -4-3 -9v-135l3 -90 5 -91zM1905 903h10l10 8 5 10 4 19 4 55-3 88-2 42-7 20-11 10-10 3h-10l-15 -4-8 -9-4 -15v-20l5 -105 6 -55 5 -20 6 -13 5 -7zM1740 909h10l5 3 6 8 6 15 4 40v65l-4 80-4 20-6 10-7 6-10 4h-10l-15 -3-9 -7-5 -15-1 -20 5 -100 7 -60 6 -20 7 -15 5 -6zM1575 915h10l10 8 6 12 4 20 2 55-5 105-4 25-8 14-15 7-15 1-10 -2-8 -5-4 -5-3 -10-2 -20 5 -80 5 -60 7 -34 10 -21 5 -5zM1405 925l15 -3 10 6 5 7 5 15 2 15 1 50-5 105-3 20-4 10-6 7-10 5-15 1-15 -2-10 -6-5 -12-1 -18 6 -100 6 -50 9 -33 5 -9zM1240 935l10 -4 10 1 10 7 4 6 5 25 2 45-6 105-4 25-6 10-5 4-10 4-15 1-15 -2-9 -7-4 -10-1 -20 6 -95 6 -50 9 -30 7 -10zM1085 939l10 -1 10 4 7 8 5 15 3 45-5 88-3 37-7 20-5 5-10 4-20 1-15 -3-7 -7-4 -15v-20l7 -90 7 -50 6 -20 6 -10 5 -5zM925 949l10 -1 10 4 5 4 5 11 4 33-2 65-5 65-4 20-8 10-5 3-10 2-15 1-15 -4-8 -7-3 -10v-20l6 -85 8 -50 6 -20 6 -10 5 -6zM770 959h10l10 7 5 9 3 15 1 50-6 90-5 20-7 10-11 5-20 1-10 -2-8 -4-4 -5-3 -10v-15l6 -75 6 -45 8 -29 10 -15zM605 972l10 -2 10 2 5 3 5 7 5 23v45l-6 80-4 20-5 8-5 4-10 3-15 1-10 -1-10 -5-6 -10-1 -15 7 -80 6 -40 9 -28 5 -7zM450 985l10 -2 10 3 5 4 5 10 3 30-2 50-5 55-6 20-5 5-10 4-20 1-10 -2-10 -8-2 -10v-15l6 -70 7 -40 9 -22 6 -8zM295 998l10 -2 5 1 5 3 6 10 5 25-2 50-4 50-5 17-10 10-10 2-15 1-15 -5-5 -7-2 -13 2 -28 5 -49 7 -33 8 -20 5 -6zM145 1009l10 1 5 3 5 7 4 15 1 40-6 65-4 12-7 8-13 5h-15l-14 -5-6 -10-1 -10 6 -61 6 -34 8 -20 11 -12zM5 1024l5 6 4 10 2 35-6 66-3 9-7 10v-138z"/><path fill="#f0dc00" d="M1325 268l5 35 5 79 5 132 3 146-1 145-2 36-5 9-5 3-10 2-10 -5-5 -10-2 -180 4 -145 7 -175 6 -66zM1485 268l5 6 5 47 4 74 7 270-2 155-2 10-3 5-7 5-7 1-10 -4-6 -12-2 -160 3 -150 5 -136 5 -77zM1160 297l5 10 5 53 5 100 5 205-1 185-4 10-5 5-10 3-10 -4-5 -7-2 -7-1 -185 8 -261 5 -75zM1650 319l5 11 5 60 5 130 3 145-2 145-6 11-10 4-9 -5-4 -10-2 -145 5 -224 5 -86zM1000 344l5 17 5 60 8 244-1 195-2 8-5 7-10 4-10 -3-6 -11-1 -200 7 -222 5 -72zM840 435l5 13 5 63 5 154v145l-2 65-3 8-5 3-5 1-7 -2-3 -5-1 -5-2 -65v-145l5 -150 3 -45zM1815 463l5 4 5 106 2 92-2 130-5 7h-5l-3 -2-2 -5-3 -130 3 -113zM685 564l6 101v145l-3 75-3 7h-5l-1 -2-4 -65v-160l5 -95zM1905 918l10 1 5 4 8 17 5 35 1 50-4 90-3 15-7 15-10 6-10 2-10 -1-11 -7-5 -10-3 -20 4 -91 6 -54 9 -35 5 -9zM1735 924l10 -2 5 1 5 5 6 12 6 35 1 50-4 90-4 20-5 10-5 5-10 5-10 1-15 -4-7 -7-4 -10-1 -20 5 -90 5 -50 10 -35 7 -12zM1570 928l10 -2 5 2 7 7 5 10 5 30 1 50-4 90-3 20-4 10-7 8-10 4-10 1-15 -3-7 -5-5 -10-2 -20 5 -90 6 -50 8 -32 5 -10zM1410 933h10l5 3 5 6 5 11 5 32v55l-5 80-4 20-5 10-6 5-10 4-10 1-15 -3-8 -7-4 -10-2 -20 6 -95 8 -50 5 -19 5 -10 5 -6zM1240 945l5 -3 10 -1 10 5 5 7 6 27 2 45-6 95-3 20-4 9-6 6-9 4-15 2-10 -2-10 -5-5 -9-2 -20 6 -90 6 -45 9 -30zM1085 948l10 -1 5 2 7 6 5 10 4 30v50l-5 80-4 20-7 10-5 4-10 3-10 1-15 -3-7 -5-6 -10-1 -20 6 -85 7 -50 6 -19 5 -10 5 -7zM920 960l5 -3h10l10 5 5 8 5 20 1 40-5 95-3 15-4 10-9 9-10 3-10 1-15 -2-9 -6-4 -10-1 -15 6 -80 6 -45 9 -30 7 -10zM765 968l10 -1 8 3 7 8 3 7 4 25-1 45-5 75-4 15-6 10-6 5-20 3-15 -2-8 -6-4 -10-1 -15 7 -80 6 -40 10 -28 5 -7zM610 979h10l5 3 5 5 5 13 3 35-3 58-4 42-4 15-4 5-8 5-20 3-13 -3-7 -5-4 -10-1 -15 7 -75 7 -40 6 -16 5 -9 5 -6zM450 993l10 -1 5 1 5 4 5 8 5 25v35l-6 65-3 15-6 10-5 4-10 3h-10l-12 -2-8 -5-4 -10-1 -10 6 -65 7 -40 10 -25zM290 1010l10 -4h5l10 7 6 17 2 35-6 70-3 10-4 8-5 4-10 4-10 1-11 -2-8 -5-5 -10v-10l5 -55 5 -30 9 -28zM140 1019l5 -1 9 2 8 10 4 20v35l-5 55-4 10-4 5-8 5-15 2-10 -2-8 -5-4 -10v-10l5 -55 6 -30 9 -20zM3 1035l7 15 2 30-5 60-7 15v-123z"/><path fill="#e6c300" d="M1325 578l5 48 2 39-3 140-4 32-6 -2-5 -170 6 -79zM1485 596l5 10 4 59-4 91-5 18-6 -109zM1160 605l5 13 3 47-2 145-1 23-5 15-4 -38-2 -145zM1905 933h5l5 3 5 6 5 15 4 33 1 40-5 95-4 10-6 7-5 4-10 2-10 -2-8 -6-5 -10-2 -15 4 -90 5 -45 8 -30 8 -13zM1575 938l10 3 5 6 5 13 5 35v50l-4 75-3 15-6 10-6 5-16 4-10 -2-10 -7-5 -12-1 -18 5 -85 6 -46 10 -32 5 -7zM1735 938l10 -2 5 2 5 7 4 10 5 30v45l-3 85-3 15-3 7-6 8-9 5-10 1-10 -2-9 -9-4 -10-1 -15 4 -80 5 -47 8 -33 7 -12zM1410 944l10 1 5 4 8 16 4 30v50l-4 75-3 15-5 10-5 5-10 5-10 1-10 -1-10 -8-5 -11-1 -16 5 -85 6 -44 10 -32 5 -8zM1245 952l10 -1 5 2 5 5 5 11 5 31-1 50-4 70-4 20-6 9-5 4-10 4-10 1-11 -3-9 -8-4 -12v-15l5 -80 6 -45 8 -25 6 -10zM1080 959l10 -4 5 1 6 4 7 10 5 25 1 40-5 90-3 15-6 10-5 5-10 4-10 1-15 -4-7 -6-4 -10-1 -15 6 -80 5 -40 9 -30 7 -11zM930 965l10 3 5 5 5 12 3 15 1 45-6 80-4 20-9 10-10 4-15 1-10 -3-5 -3-6 -14-1 -15 6 -75 6 -41 8 -24 10 -15zM770 975l10 2 5 5 5 10 3 18 1 40-6 80-4 15-7 10-12 5h-15l-10 -3-5 -4-5 -13 5 -80 5 -35 9 -30 11 -16zM605 989l10 -2 5 1 5 4 5 8 5 25v40l-5 65-4 15-6 8-5 4-10 3h-10l-10 -2-9 -8-3 -10v-10l6 -70 6 -34 10 -26zM450 1002l10 -1 5 2 8 12 4 25-1 35-5 60-3 10-9 10-9 4h-10l-15 -5-6 -9-1 -10 6 -65 5 -30 9 -25 7 -9zM290 1020l10 -5 5 1 5 3 4 6 4 20 1 25-5 65-3 10-6 8-5 3-15 3-10 -3-5 -3-5 -8-1 -10 5 -55 4 -25 7 -21zM140 1029h10l5 4 5 9 3 23-1 25-6 55-6 8-5 3-15 2-10 -2-5 -4-4 -7v-10l4 -45 5 -27 9 -23zM0 1045l7 15 1 20-5 60-3 8z"/><path fill="#dcaa00" d="M1740 950h5l8 10 7 30 1 40-4 85-2 12-5 10-10 8-10 1-5 -1-8 -5-7 -15 3 -80 3 -35 5 -30 9 -22 5 -6zM1410 954h5l5 2 5 6 5 13 4 30v45l-4 70-4 15-6 10-5 4-15 4-10 -3-7 -5-5 -10-1 -15 5 -80 5 -40 8 -28 5 -9zM1570 953l5 -3 5 1 5 4 6 10 5 25 1 45-4 80-2 15-5 10-5 5-6 3-10 2-10 -2-8 -8-4 -10-1 -10 4 -75 4 -40 9 -35 6 -12zM1900 954l5 -4h5l5 5 5 10 4 25 2 30-5 100-7 15-6 5-8 2-9 -2-6 -5-5 -10-1 -10 6 -113 5 -27zM1090 964l10 5 4 6 6 25 2 45-6 80-3 15-7 10-11 6-10 1-10 -2-8 -5-3 -5-3 -10 4 -76 5 -41 7 -28 8 -17 5 -5zM1245 962l10 -1 5 3 8 16 4 30-1 45-4 65-2 15-5 9-5 5-10 5h-10l-10 -2-7 -7-4 -10-1 -15 5 -75 6 -40 9 -30 7 -10zM925 974h10l5 3 7 13 4 25v45l-5 65-3 15-6 10-7 5-15 3-12 -3-8 -6-4 -9-1 -15 6 -70 6 -40 8 -25 5 -8zM765 984h10l5 3 8 13 3 25v40l-5 65-2 10-9 12-10 5-10 1-10 -2-8 -6-4 -10-1 -10 6 -70 5 -35 8 -25 7 -10zM605 998l10 -2 5 2 8 12 4 25v35l-7 70-5 9-5 4-10 4h-10l-10 -3-5 -5-4 -9v-10l5 -60 4 -30 10 -30zM455 1010l5 1 5 4 5 9 3 16v30l-5 60-2 10-6 10-10 5-10 1-5 -1-9 -5-5 -10 5 -60 4 -30 5 -17 10 -18zM290 1030l10 -5 5 2 5 6 5 17v25l-6 65-4 7-5 5-15 3-12 -5-4 -5-1 -10 7 -69 6 -21zM140 1040l5 -1 5 2 5 7 4 17-1 25-4 45-3 10-6 6-15 4-11 -5-3 -5-1 -10 5 -50 4 -20 6 -15zM1 1065l3 20-4 42v-67z"/><path fill="#d28c00" d="M1575 963l5 2 5 5 5 14 2 16 2 35-4 80-2 10-4 10-9 8-10 3-5 -1-8 -5-3 -5-3 -10 3 -75 3 -35 7 -30 6 -14 5 -6zM1405 969l5 -3h5l5 3 5 9 5 23 1 39-6 90-5 10-5 4-15 5-10 -3-5 -5-5 -11v-10l4 -75 4 -30 7 -30zM1735 968l5 -2 5 1 7 13 4 25 1 35-4 75-2 10-6 10-5 4-10 2-11 -6-4 -8-1 -12 6 -104 5 -23 5 -13zM1905 969l5 2 7 14 3 20 1 30-4 80-2 9-4 6-6 4-5 1h-5l-6 -5-5 -10v-10l3 -75 3 -30 5 -21 5 -10zM1085 974l5 -1 5 2 5 5 5 12 4 28v35l-5 70-2 10-6 10-5 5-16 4-10 -3-7 -6-4 -10-1 -10 5 -75 6 -35 10 -30 6 -8zM1245 972l5 -2 5 2 5 5 5 12 4 26v40l-4 65-4 15-6 10-5 3-15 3-10 -4-5 -5-4 -12v-10l4 -70 5 -35 10 -32zM925 982l5 -1 5 2 5 5 5 12 3 25v35l-6 75-5 10-5 5-7 3-10 2-10 -3-9 -7-3 -10v-10l5 -70 6 -35 9 -25 7 -10zM765 993h10l5 4 5 10 4 23v35l-5 60-3 15-6 8-5 4-15 3-10 -3-7 -7-3 -10v-10l5 -65 5 -30 10 -27zM610 1005h5l6 5 5 10 3 15v30l-5 65-2 10-7 9-10 4-10 1-10 -4-5 -8-2 -7 5 -65 5 -30 7 -20 5 -8zM455 1020l5 2 5 6 5 22v25l-5 55-5 15-10 7h-10l-10 -4-5 -8 4 -65 5 -25 6 -17 5 -7 5 -5zM295 1038l5 -1 5 4 5 13 1 16-1 26-5 44-5 7-5 3-10 1-10 -5-3 -6 3 -43 6 -37 7 -15zM140 1052l5 -1 5 5 4 14v15l-4 48-1 7-4 6-5 3-10 1-9 -5-2 -5 5 -50 6 -25 5 -9z"/><path fill="#c86e00" d="M1410 978h5l5 6 6 21 2 35-3 58-1 22-4 13-10 10-10 1-10 -4-6 -10-1 -10 2 -40 3 -45 6 -30 6 -17 5 -7zM1570 980l5 -2 5 2 5 10 4 20 1 30-5 83-6 12-9 5-5 1-5 -2-6 -4-4 -10-1 -10 6 -92 5 -24 5 -13zM1085 983l5 -1 5 3 7 15 4 25v35l-6 72-4 8-6 7-15 3-10 -3-5 -4-3 -8-1 -10 4 -66 5 -36 10 -30zM1245 983l5 -2 5 3 5 7 3 9 3 30-1 38-5 62-5 9-5 5-5 2-10 1-10 -5-5 -9-1 -8 1 -26 4 -54 5 -30 6 -20 5 -8zM1740 984l5 4 3 7 4 25-3 95-3 10-4 5-7 4h-5l-7 -4-4 -10 3 -80 3 -27 5 -18 5 -8zM920 994l5 -3 5 -1 5 3 5 7 5 21 1 34-5 70-2 10-4 8-5 4-5 3-10 2-10 -3-5 -4-4 -10-1 -10 5 -63 4 -27 6 -24zM1905 994l5 5 3 11 1 30-3 75-6 10-5 2-5 -2-4 -5-1 -19 5 -81 5 -20zM765 1002l5 -2 5 2 7 13 4 20v35l-6 65-5 9-5 4-5 3-10 1-10 -4-5 -5-2 -8-1 -10 5 -60 4 -25 9 -27zM610 1014l5 1 5 5 6 20v30l-5 60-3 10-4 5-9 5h-10l-9 -5-4 -10 4 -60 4 -27 5 -16 5 -10 5 -5zM450 1032l5 -1 5 4 4 10 2 20-1 27-5 45-6 8-9 4-5 -1-7 -3-4 -5 1 -30 6 -50 5 -15zM295 1051l5 1 2 3 4 15-5 65-1 5-5 4-10 2-5 -3-3 -8 3 -45 5 -24 5 -11zM140 1068l5 2 3 20-5 45-1 5-7 5-5 -1-4 -4v-5l4 -45 5 -17z"/><path fill="#be5000" d="M1085 993h5l5 4 5 11 2 12 1 30-3 57-1 18-4 11-9 9-11 2-10 -4-5 -8-2 -10 2 -26 4 -49 4 -25 7 -21 5 -8zM1245 995l5 -1 5 4 5 12 3 40-5 75-3 7-5 7-10 4-10 -2-5 -6-3 -15 4 -65 4 -28 5 -18 5 -10zM1405 995l5 -4 5 2 5 9 3 18 1 25-5 80-4 8-5 4-10 3-5 -2-5 -5-4 -13 6 -85 6 -25zM1575 995l5 5 5 25-3 90-2 9-4 6-6 4-5 1-8 -5-4 -10 4 -75 3 -23 5 -17 5 -8zM920 1004l5 -4h5l5 4 3 6 4 20 1 25-6 75-2 7-5 6-5 3-10 2-9 -3-5 -5-3 -15 7 -80 5 -22zM765 1011l5 -1 5 3 5 11 3 21v25l-7 65-7 10-14 3-8 -3-4 -5-3 -15 5 -60 3 -20 7 -22 5 -8zM1735 1013l5 -2 2 4 3 12v13l-3 75-2 6-5 4h-5l-4 -5-1 -5 4 -80zM610 1025l5 2 2 3 5 15 1 20-3 40-2 25-3 8-5 6-10 3-8 -2-5 -5-2 -13 5 -57 4 -20 6 -17 5 -6zM450 1046h5l5 8 1 26-5 55-3 5-8 4-5 -1-5 -3-2 -10 7 -65 5 -14zM295 1073l3 12-3 36-2 14-3 2-5 -2v-3l5 -52z"/><path fill="#af3200" d="M1085 1004h5l5 7 5 24v24l-4 61-2 10-4 7-5 4-10 2-7 -3-6 -10 3 -59 3 -26 4 -20 7 -15zM1245 1009h5l5 7 3 19v20l-4 70-4 7-10 6-5 -1-5 -3-3 -4-1 -10 6 -80 5 -20zM1410 1008l6 7 4 25-5 80-5 11-5 2-5 1-6 -4-3 -10 4 -70 5 -28 5 -11zM920 1014l5 -3 5 1 5 6 4 17 1 25-6 70-6 10-8 4-5 1-10 -6-4 -14 7 -75 4 -20zM765 1022h5l5 5 4 18 1 20-5 60-2 10-4 5-9 5-5 -1-8 -4-3 -5 1 -28 6 -57 4 -15 5 -9zM1570 1021h5l4 19-3 75-1 5-4 5-6 1-5 -6v-15l4 -65zM605 1040l5 -2 5 5 3 12v15l-4 60-4 8-5 3-5 1-7 -2-3 -5-1 -5 6 -66 5 -17zM450 1067l4 8v5l-4 46-1 4-4 6-4 -6 4 -50z"/><path fill="#a01400" d="M1085 1017l6 3 5 20-4 80-2 10-4 5-6 3h-5l-6 -3-4 -10 5 -65 5 -29 5 -10zM925 1023l5 2 6 20v20l-5 60-1 6-5 6-10 3-8 -5-2 -7 4 -63 6 -28 5 -10zM1245 1027l5 3 3 25-4 65-4 9-5 2-5 -1-4 -10 4 -65 5 -21zM765 1035l5 1 4 9 1 25-5 60-5 8-5 2h-5l-5 -4-2 -11 6 -70 6 -15zM1405 1039l5 -2 2 13-4 65-3 9-5 -1-1 -3 1 -35zM605 1059h5l2 16-5 55-2 4-5 2-5 -6 5 -58z"/><path fill="#00ffa0" d="M0 5l3 220 11 440 2 285v10l-4 10-4 5-8 5zM125 0h29l3 225 13 585-1 135-3 10-6 8-10 5-15 3-10 -1-11 -5-6 -10-1 -15 2 -275 11 -440 3 -225zM280 0h29l3 225 12 565v130l-2 15-4 10-8 8-20 5-15 -2-9 -6-4 -10-1 -15 2 -260 10 -440 3 -225zM430 0h36l2 225 10 440 1 250-4 15-5 7-10 6-15 2-15 -2-10 -8-3 -10-2 -15 2 -245 10 -440zM585 0h39l3 225 8 340 2 335-3 15-6 10-13 7-15 2-15 -3-8 -6-4 -10-2 -15 2 -310 9 -365zM745 0h38l3 225 6 210 4 230v220l-4 20-6 10-11 6-15 3-15 -2-10 -6-5 -11-3 -20 1 -220 3 -205 6 -235 3 -225zM900 0h44l3 220 5 185 4 260v210l-4 20-7 10-15 7-15 1-15 -2-7 -6-5 -10-3 -20 1 -210 4 -285 4 -155 3 -225zM1060 0h46l6 380 4 245v240l-4 20-7 10-15 6-15 2-15 -3-10 -8-4 -12-2 -20 1 -235 5 -300 6 -325zM1220 0h48l9 570 2 275-3 20-6 15-10 7-20 5-15 -2-10 -5-6 -10-4 -25 2 -255 3 -247 6 -348zM1380 0h51l9 533 2 297-3 25-4 10-4 5-11 7-20 3-15 -3-10 -7-5 -13-2 -22 3 -385 8 -450zM1545 0h50l8 445 3 375-4 25-7 12-10 7-20 4-15 -3-10 -6-6 -14-2 -25 3 -390 8 -430zM1710 0h49l8 395 4 410-4 25-7 14-15 9-15 2-15 -3-10 -9-5 -13-2 -20 4 -390zM1880 0h44l11 630 1 160-2 20-6 15-3 5-10 7-15 3-15 -2-10 -7-7 -16-2 -20 4 -350 9 -445zM1985 870l10 -2 12 2 8 5 6 10 5 30 1 65-4 135-4 30-3 10-6 7-10 5-20 1-15 -1-12 -7-5 -15-1 -25 6 -140 6 -65 8 -30 8 -10zM1815 880l15 -3 10 1 10 7 3 5 6 25 1 40-5 158-3 32-6 15-6 5-10 3-15 1-20 -2-10 -5-5 -12-1 -20 6 -130 5 -70 4 -20 5 -15 6 -9zM1650 889l15 -3 10 2 10 6 4 6 5 25v45l-6 145-3 35-5 10-5 5-10 4-20 1-20 -3-9 -7-3 -10-1 -20 7 -130 6 -66 5 -23 5 -11 5 -6zM1485 898l15 -3 15 3 8 7 5 15 2 20v35l-7 140-2 30-6 17-5 4-10 3-30 1-15 -4-5 -6-2 -5-1 -25 3 -54 6 -91 6 -50 3 -14 5 -11 5 -6zM1320 909l15 -3 15 1 10 8 5 14 2 21-1 35-7 140-4 29-6 11-14 5h-33l-13 -5-3 -5-2 -10 6 -120 5 -62 5 -31 6 -17 4 -5zM1155 920l20 -5 15 3 5 3 5 6 4 18v65l-9 132-5 19-5 6-9 3h-40l-6 -2-7 -8-2 -10 7 -115 7 -74 6 -26 7 -10zM995 930l20 -4 15 2 8 7 4 10 2 20v30l-9 136-3 24-7 11-9 4h-42l-10 -5-4 -15 9 -135 5 -40 5 -25 6 -13zM840 939l15 -3 15 2 9 7 3 10 2 20v30l-10 135-4 20-5 7-5 2-47 1-9 -5-2 -5-1 -15 11 -145 5 -30 4 -15 9 -11zM685 949l15 -2 15 4 5 5 4 14v50l-9 123-4 17-6 8-7 2h-43l-5 -2-5 -5-2 -18 12 -143 5 -27 5 -12 10 -10zM530 960l15 -1 10 2 5 3 4 6 2 10v50l-9 115-4 15-3 5-5 4-5 1h-41l-10 -5-3 -15 12 -140 6 -25 6 -14 10 -8zM370 974l15 -3 15 4 5 5 4 10 1 45-9 105-5 20-6 7-8 3h-38l-10 -5-3 -5-1 -10 11 -115 4 -27 5 -17 8 -11zM220 985l15 -1 10 4 5 5 4 12v45l-9 95-4 15-6 7-9 3h-37l-10 -5-2 -5-1 -10 11 -115 4 -20 6 -15 8 -9zM60 998l15 -2 15 3 6 6 3 10v40l-8 90-4 15-7 8-7 2h-38l-10 -6-3 -14 10 -95 4 -25 5 -15 9 -12z"/><path fill="#00fad7" d="M605 0l5 76 4 144 11 269 6 321-1 85-2 10-8 12-10 5-10 1-10 -2-5 -4-6 -12-1 -95 2 -170 5 -199 9 -216 6 -194zM755 0h14l6 225 10 250 6 335-1 70-3 15-6 10-6 5-15 4-15 -4-5 -5-5 -10-2 -85 1 -150 5 -205 9 -230zM910 0h22l5 220 6 145 7 300v210l-3 10-7 11-10 5-10 2-16 -3-6 -5-5 -10-2 -15-1 -60 5 -318zM1070 0h25l16 660v200l-3 15-8 10-10 6-10 2-15 -3-7 -5-6 -10-3 -20 1 -195 5 -231 7 -209 5 -220zM1230 0h27l12 450 4 210v190l-3 12-5 9-10 7-15 3-10 -1-10 -5-6 -10-4 -20 1 -185 4 -213 12 -447zM1390 0h30l11 405 5 255 1 165-2 15-5 15-5 6-10 6-15 2-10 -2-10 -8-5 -11-2 -18 2 -273zM1555 0h29l11 403 5 257-1 165-4 14-5 7-10 7-15 3-10 -2-10 -7-6 -12-2 -20 1 -155 4 -215 12 -445zM1725 0h22l11 365 6 300v145l-5 15-8 10-11 6-10 1-10 -3-10 -9-4 -10-2 -15 1 -145 5 -274 11 -386zM1895 0h14l14 445 5 340-2 15-6 15-10 8-10 3-10 -2-10 -9-4 -10-2 -15 5 -345 14 -445zM450 152l2 68 8 115 5 134 5 196 2 240-2 12-5 9-10 7-10 2-10 -2-5 -4-5 -7-2 -7v-105l2 -155 10 -315 8 -120 2 -65zM290 246l5 2 1 12 4 35 5 93 11 422v115l-6 15-10 6-10 2-10 -2-5 -3-5 -7-2 -6v-120l12 -428 5 -91zM140 273l5 40 4 72 6 151 7 274v125l-1 10-6 9-10 6-10 1-10 -2-5 -3-5 -11-1 -135 11 -377 9 -138 1 -15zM0 500l9 305v145l-2 10-7 9zM1985 888l10 -2 10 4 5 4 6 11 6 35 1 65-4 110-4 25-4 10-6 6-10 4-15 2-15 -3-9 -9-5 -15-1 -20 5 -110 5 -60 5 -24 5 -15 5 -9zM1820 895l10 -2 10 4 6 8 6 15 4 40-1 75-4 85-4 25-6 10-6 4-10 4h-15l-15 -3-9 -10-3 -15-1 -20 6 -115 7 -60 5 -20 5 -12 5 -7zM1650 904l10 -3 10 1 6 3 7 10 3 10 3 20 2 55-6 120-4 25-5 10-6 5-10 4-15 1-15 -3-9 -7-5 -15-1 -20 6 -105 6 -60 8 -33 5 -9zM1490 909l10 -1 10 3 8 9 4 10 4 35v60l-5 95-4 25-4 10-8 7-10 3-15 1-15 -2-10 -7-4 -12-1 -25 6 -105 7 -60 9 -30 8 -10zM1325 919l10 -2 10 2 8 6 5 10 5 30-1 60-5 100-5 25-6 10-6 4-10 2-15 1-15 -3-5 -2-5 -6-3 -11-1 -20 7 -110 7 -53 5 -19 5 -11 6 -7zM1160 929l10 -3 10 1 10 5 5 7 5 21 1 40-6 120-4 25-3 10-8 8-10 4-15 1-15 -2-11 -6-4 -10-1 -20 6 -95 7 -60 8 -30 5 -8zM1000 938l10 -2h10l10 5 5 8 5 26v50l-7 100-4 25-4 9-8 6-12 3h-15l-15 -2-8 -6-3 -10-1 -20 7 -97 7 -53 8 -27 6 -8zM840 949l10 -3h10l10 5 5 7 5 22v50l-7 100-3 20-5 10-7 5-13 3-15 1-15 -3-8 -6-3 -10-1 -20 8 -90 6 -50 8 -26 6 -9zM685 959l10 -2 10 1 9 7 5 10 3 30-2 55-6 75-5 20-4 6-10 6-25 1-15 -3-6 -5-3 -10v-20l7 -90 7 -44 5 -17 5 -9 5 -6zM530 970l15 -1 10 6 5 9 2 11 1 45-7 95-5 20-6 8-15 5h-20l-15 -5-6 -13v-15l6 -72 5 -40 7 -28 8 -16 5 -5zM370 985l10 -3 10 1 10 8 4 9 2 15v40l-7 80-4 18-4 7-6 4-10 3-15 1-15 -3-8 -5-3 -10v-15l6 -70 7 -45 8 -21 5 -7zM225 995l10 1 6 4 4 5 4 15 1 40-7 80-5 15-8 9-15 4-20 -1-12 -7-4 -15 11 -100 5 -22 6 -13 9 -10zM60 1009l10 -2 10 1 10 8 5 19v35l-6 70-4 14-4 6-6 4-10 3-15 1-14 -3-6 -4-3 -6-1 -15 7 -65 6 -35 9 -20z"/><path fill="#00ebff" d="M1405 174l10 89 8 157 7 236 1 154-1 20-4 15-9 10-12 4-10 -1-10 -8-6 -15v-25l1 -175 7 -215 8 -162 5 -54zM1240 191l5 5 5 47 10 172 7 240 1 155v30l-3 15-10 13-15 4-10 -2-10 -10-4 -15v-35l1 -170 8 -242 5 -99zM1570 197l10 92 5 94 8 277 1 150-2 15-7 12-10 7-10 1-10 -3-5 -4-4 -8-2 -10v-155l6 -223 5 -111 5 -74 5 -44zM1080 241l5 11 5 43 5 79 9 251 2 185v45l-2 10-9 13-15 5-14 -3-8 -10-2 -10-1 -50 2 -185 8 -222 5 -93 5 -48zM1735 252l5 24 5 62 5 106 6 216 1 140-2 12-5 9-5 5-10 4-10 -2-9 -8-4 -10-1 -10 1 -140 8 -252 5 -91 5 -51zM920 289l5 13 5 46 5 83 8 229 2 150-2 65-8 13-5 3-10 3-14 -4-7 -10-2 -10-1 -60 2 -150 7 -199 5 -96 5 -54zM760 357l5 6 5 43 5 80 7 174 2 150-2 75-7 13-5 4-10 2-11 -4-7 -10-2 -80 5 -239 6 -121 4 -59zM1900 390l5 14 5 64 7 192 1 125-3 15-5 7-10 4-5 -1-6 -5-5 -10-1 -10 2 -125 5 -152 5 -87zM605 434l5 31 5 80 5 115 3 150-2 85-1 6-5 7-10 5-11 -3-7 -10-1 -90 2 -145 4 -95 8 -121zM445 528l5 -1 5 48 5 90 3 145-1 100-2 5-5 5-10 3-8 -3-3 -5-1 -5-1 -100 4 -150 4 -82zM290 575l5 2 5 52 7 181-1 115-6 9-10 3-5 -1-5 -4-2 -7v-115l5 -150zM140 592l5 42 5 103 2 73v125l-3 10-7 5-7 1-5 -2-5 -4-1 -5v-130l6 -159 5 -53zM1990 904l10 2 5 4 7 15 4 20 3 60-3 105-3 20-6 15-12 9-15 2-15 -5-8 -11-3 -20 1 -34 4 -86 6 -49 5 -21 5 -12 5 -7zM1825 909l10 2 5 5 6 14 4 20 2 60-4 105-3 21-8 14-12 7-15 1-15 -6-5 -7-3 -10-2 -20 4 -90 6 -55 6 -30 9 -21 5 -6zM1660 914l10 3 7 8 5 10 3 20 2 55-4 105-3 20-7 15-5 5-8 4-15 1-10 -2-7 -3-4 -5-4 -10-2 -20 4 -85 5 -55 8 -38 10 -19 5 -5zM1485 924l10 -4 10 2 5 3 6 10 4 13 2 17 1 50-5 105-3 20-5 10-5 6-10 5-15 1-15 -3-8 -9-3 -10-1 -20 5 -95 6 -50 9 -35 6 -10zM1330 928l10 1 10 7 5 11 4 18 1 55-5 100-3 20-7 14-10 7-20 2-15 -4-5 -4-5 -11-1 -19 4 -70 5 -60 7 -35 10 -21 5 -6zM1160 939l5 -2 10 -1 10 4 5 6 7 24 1 45-6 110-4 20-5 10-6 5-7 3-15 2-15 -3-9 -7-4 -10-1 -15 6 -95 7 -50 8 -30 7 -10zM1010 945l10 1 10 9 4 10 3 15v50l-6 95-3 20-8 13-10 5-20 2-16 -5-5 -5-3 -10-1 -20 6 -80 6 -50 8 -28 10 -15 5 -4zM850 955l10 1 7 4 6 10 3 15 1 50-6 95-5 20-6 9-10 5-20 1-10 -1-7 -4-4 -5-3 -10v-15l6 -80 6 -45 7 -27 10 -16 5 -4zM685 968l15 -2 10 7 4 7 4 25v45l-6 80-5 20-7 10-5 3-20 3-15 -3-9 -8-3 -10v-15l7 -80 6 -40 9 -28 5 -7zM530 979l10 -1 6 2 6 5 5 10 3 30-2 50-5 60-4 15-4 7-5 4-10 3-15 1-10 -2-10 -7-3 -11v-15l6 -75 7 -39 10 -25 5 -6zM370 995l5 -2 10 -1 6 3 7 10 4 20v40l-6 70-4 15-7 9-5 3-20 2-10 -1-10 -7-3 -11v-10l6 -70 6 -35 10 -25zM215 1008l5 -2h10l5 2 6 7 5 20v40l-6 60-4 15-6 8-5 3-20 3-10 -2-10 -7-2 -10v-10l6 -60 6 -35 10 -23zM60 1020l5 -2 10 -1 5 2 5 6 6 20v40l-6 55-3 10-2 5-10 7-20 2-15 -5-5 -9-1 -10 6 -55 5 -30 10 -25z"/><path fill="#00cdeb" d="M1405 432l5 19 10 148 2 66 1 145-1 20-2 7-5 7-10 4-10 -2-6 -6-2 -10v-20-145l3 -77 10 -140zM1240 441l5 4 5 36 5 70 5 114 1 145-1 30-2 10-8 9-10 3-10 -4-5 -8-2 -40 1 -145 3 -55 8 -136zM1570 456l5 31 9 158 1 165-1 10-4 7-5 4-10 2-5 -2-5 -5-3 -11v-150l8 -150 5 -50zM1080 474l5 13 5 46 5 79 4 198-2 50-7 10-10 3-10 -3-6 -10-1 -50 3 -190 9 -124zM920 533l5 12 7 85 5 180-2 60-5 9-10 4-10 -4-4 -9-1 -60 2 -145 3 -53 5 -57zM1735 562l5 30 5 68 1 140-3 10-8 5h-5l-5 -4-3 -11 3 -165 5 -58zM760 615l5 5 5 43 4 147-3 70-1 6-5 4-5 1-5 -3-2 -3-3 -75 4 -145zM1825 924l10 5 5 8 7 28 2 50-4 95-1 15-6 15-8 9-15 4-15 -4-5 -5-4 -9-2 -15 1 -36 4 -74 6 -44 10 -30 5 -7zM1985 925l5 -3h5l5 4 5 7 4 12 5 35 1 45-5 100-4 10-6 8-10 6-10 1-10 -4-6 -6-4 -10-2 -20 3 -85 5 -45 4 -24 5 -16zM1655 929h10l5 3 5 7 4 11 4 35v55l-3 75-4 20-5 10-6 6-10 4-10 1-10 -3-9 -8-4 -15-1 -15 5 -85 5 -50 9 -33 5 -9zM1490 933l10 -1 5 3 5 6 5 11 5 33v55l-5 80-4 20-6 10-5 4-10 4h-10l-12 -3-8 -8-4 -12-1 -15 6 -90 6 -50 8 -29 5 -9zM1330 939l10 1 6 5 5 10 4 20 2 50-5 95-2 15-7 15-13 8-15 1-15 -5-5 -7-2 -7-2 -15 4 -70 5 -49 7 -36 9 -20 4 -5zM1160 950l5 -3 10 -1 10 7 4 7 5 25 1 45-5 92-3 18-5 10-7 7-10 4h-10l-10 -1-10 -6-5 -10-2 -19 6 -85 6 -45 9 -30zM1005 955l10 -1 10 7 5 9 3 15 2 45-6 90-3 20-6 13-10 7-20 2-15 -6-6 -11-2 -15 3 -41 5 -59 7 -40 8 -21 5 -7zM845 964l10 -1 5 2 5 4 5 9 5 27-1 45-5 75-4 20-5 9-5 4-10 4-10 1-15 -3-6 -5-5 -10-1 -15 6 -80 6 -41 10 -30 5 -7zM690 975l10 1 6 4 5 10 4 15 1 45-6 75-4 20-6 10-10 6-15 2-15 -4-5 -5-4 -9-1 -15 5 -55 5 -45 7 -30 8 -15 5 -5zM530 988l10 -1 5 3 7 10 4 15 1 40-6 75-3 15-6 10-12 6-15 1-10 -3-5 -3-5 -11-1 -15 5 -50 5 -40 6 -26 10 -19zM370 1005l10 -3 5 1 5 4 5 8 4 20v35l-6 65-2 10-6 9-5 3-10 4h-10l-10 -3-5 -3-5 -10-1 -10 6 -61 5 -30 10 -28zM215 1018l10 -2 5 1 7 8 5 20v35l-7 65-5 8-5 4-10 3-10 1-10 -3-5 -4-4 -9v-10l5 -50 5 -30 8 -25zM65 1028h10l5 5 6 17 1 30-5 55-2 11-6 9-9 5-15 1-12 -6-5 -10 5 -55 4 -25 7 -20 6 -10z"/><path fill="#00aad7" d="M1240 664l5 12 3 134-2 30-1 5-5 1-2 -6-2 -30zM1405 727l2 83-2 14-2 -14zM1080 760l5 50-5 23-3 -23zM1490 945h10l5 4 7 16 5 35-1 50-4 70-3 15-4 9-7 6-8 3-10 1-10 -3-6 -6-5 -10-1 -20 5 -80 6 -45 9 -30 7 -11zM1655 942l5 -1 5 2 5 6 5 11 5 35v50l-4 70-2 15-4 9-5 6-10 5-10 1-10 -4-6 -7-4 -10-1 -15 5 -85 6 -45 9 -30 6 -9zM1820 942l5 -1 5 2 5 5 5 13 4 29 1 40-5 95-4 10-6 7-5 3-10 2-10 -2-6 -5-5 -10-2 -15 4 -80 4 -42 5 -24 5 -14 5 -9zM1985 944l5 -3 5 1 5 6 5 12 4 25 1 35-4 100-7 15-5 5-9 3-10 -2-5 -3-5 -8-3 -15 3 -80 4 -40 6 -32 5 -12zM1330 950l10 2 5 6 5 13 3 14 1 45-5 90-2 15-7 13-10 6-15 2-13 -6-4 -5-3 -10-1 -15 4 -70 5 -45 7 -30 10 -19zM1160 959l5 -3h10l5 3 5 7 6 24 2 45-5 85-3 17-5 10-5 6-10 4-10 1-10 -2-8 -6-5 -10-1 -15 5 -75 4 -40 10 -35zM1005 964l10 -1 5 3 8 14 4 30v45l-5 70-3 15-9 13-10 5-10 1-10 -1-10 -7-5 -11v-15l5 -75 7 -45 8 -25 5 -9zM845 973l10 -1 5 3 5 6 3 9 4 30v40l-5 65-3 15-4 9-5 5-10 5-10 1-10 -2-10 -7-4 -11-1 -10 6 -75 6 -40 8 -25 5 -9zM690 983l10 3 5 5 5 12 2 12 1 40-5 70-3 15-5 10-10 7-15 3-15 -6-5 -7-2 -7 4 -65 5 -40 8 -30 10 -16zM525 1000l10 -4 5 1 8 8 5 20 1 30-7 85-5 10-6 5-16 4-15 -4-7 -10-1 -10 5 -65 5 -30 8 -27zM375 1013l10 2 4 5 6 20v35l-5 60-3 10-7 8-10 4h-10l-8 -2-6 -5-3 -10 5 -60 5 -30 6 -20 6 -10zM215 1029l10 -2 5 3 5 8 3 22v25l-5 50-2 10-11 10-15 2-6 -2-6 -5-3 -5-1 -10 6 -55 4 -20 6 -19zM65 1038h5l5 3 5 8 3 16v25l-7 55-3 5-7 5-11 2-10 -2-5 -4-3 -6v-10l8 -65 10 -24z"/><path fill="#008cc8" d="M1490 957l5 -1 5 2 5 6 5 14 4 32-1 40-3 65-3 15-4 10-5 5-8 4-10 1-10 -4-5 -6-3 -10-1 -15 4 -70 5 -42 9 -33 6 -9zM1655 957l5 -1 5 3 7 16 4 25 1 35-6 90-8 15-8 5-5 1-10 -2-6 -4-5 -10-1 -15 4 -75 3 -35 5 -22 5 -14 5 -8zM1820 959h5l5 3 5 10 5 28v35l-4 85-7 15-7 5-7 1-6 -1-7 -5-4 -10-2 -10 4 -80 4 -35 6 -25 5 -10zM1170 965l5 1 7 9 4 10 3 20 1 40-5 75-2 15-5 10-8 7-15 3-10 -3-5 -4-6 -13 4 -80 5 -40 7 -29 10 -17zM1325 963l5 -2h5l5 4 5 9 5 26 1 40-6 90-4 10-6 7-5 3-10 2-10 -2-7 -5-5 -10-1 -15 4 -70 5 -40 9 -34zM1990 963l5 3 6 14 3 25 1 30-3 80-7 15-10 6-6 -1-7 -5-4 -10-1 -10 3 -75 4 -35 6 -25 5 -9zM1005 973h10l5 5 5 10 4 27v40l-5 70-3 15-6 9-5 4-15 3-10 -2-6 -4-6 -10-1 -15 6 -75 6 -40 9 -25 7 -9zM840 985l10 -5 5 2 5 4 5 9 4 25 1 30-5 75-4 15-6 10-5 4-15 3-10 -2-7 -5-4 -10-1 -10 5 -70 4 -30 8 -30zM685 994l10 -1 5 3 5 9 5 25v35l-5 65-3 10-6 10-6 4-15 2-10 -3-5 -4-4 -9-1 -10 5 -60 5 -35 10 -30zM525 1009l10 -3 5 2 5 6 5 17 1 34-5 65-2 10-9 12-15 4-10 -3-5 -3-5 -10v-10l5 -60 4 -25 6 -20zM375 1024h5l5 4 5 12 1 10 1 25-6 60-4 10-5 5-7 3h-10l-10 -6-3 -7 4 -60 4 -23 5 -16 5 -10 5 -5zM220 1039l5 1 5 6 4 19v20l-5 50-3 10-6 5-5 2h-10l-6 -2-4 -5-1 -5 4 -55 7 -30 6 -10 4 -4zM60 1053l5 -2 5 1 5 6 3 12v20l-5 50-7 10-11 3-10 -4-4 -9 7 -60 7 -20z"/><path fill="#006ebe" d="M1495 969l5 3 5 10 5 28v35l-4 75-2 10-7 10-7 4-10 1-10 -6-6 -14 5 -85 5 -35 6 -21 5 -9 5 -5zM1325 974l5 -2 5 2 5 5 4 11 4 25v30l-6 85-7 12-5 4-10 2-10 -2-5 -5-5 -11v-10l4 -75 4 -30 7 -25zM1655 973h5l5 5 4 12 3 20v30l-4 80-3 10-4 5-11 5-10 -2-5 -6-3 -17 3 -70 4 -35 6 -23 5 -9zM1160 980l5 -4 5 -1 5 3 5 7 6 25 1 35-4 75-3 14-5 9-5 4-5 3-10 1-10 -3-5 -5-3 -8-1 -10 4 -70 5 -35 5 -21zM1005 982l5 -1 5 2 5 7 3 10 4 25-1 35-6 75-5 9-5 5-15 4-10 -3-6 -5-4 -10v-10l5 -73 5 -32 10 -28zM1820 980h5l5 8 2 7 3 20v25l-4 80-6 10-10 4-5 -1-5 -5-3 -8v-10l5 -90 5 -25 3 -9zM850 990l5 1 5 6 4 13 2 15 1 35-5 65-2 11-5 9-10 7-10 2-10 -3-5 -4-5 -12 5 -70 5 -35 5 -18 10 -18zM1990 993l5 9 3 23-3 85-3 10-7 6-5 -1-6 -10 1 -36 5 -69 5 -14zM685 1003l5 -1 5 1 5 5 3 7 4 20v35l-7 68-4 7-6 5-15 3-9 -3-5 -5-3 -15 5 -65 4 -25 8 -24zM525 1020l5 -4h5l5 4 3 5 4 15 1 25-6 70-7 12-5 3-10 2-8 -2-6 -5-2 -5-1 -10 7 -72 5 -20zM370 1038l5 -2 5 2 4 7 3 15 1 15-6 60-6 10-11 4-10 -3-5 -11 7 -65 6 -20zM215 1055l5 -2 5 5 3 12 1 15-5 50-4 9-10 4-8 -3-3 -5v-5l6 -59 5 -14zM60 1069l5 -2 5 4 2 19-5 50-4 5-8 2-5 -2-2 -5v-5l4 -45 3 -12z"/><path fill="#0050af" d="M1490 985l5 -1 5 6 3 10 3 20v25l-5 80-6 11-10 4h-5l-7 -5-3 -5-2 -10 7 -99 5 -21 5 -10zM1165 987l5 -1 5 4 5 11 3 14 1 35-4 66-2 14-5 10-8 6-10 1-10 -4-5 -8-1 -10 1 -23 4 -57 4 -25 7 -21 5 -8zM1325 987l5 -2 5 3 5 8 4 24 1 25-5 80-4 10-5 5-11 4-10 -4-4 -5-3 -15 7 -93 5 -22 5 -12zM1005 992l5 -1 5 4 5 10 4 25-1 35-4 60-2 10-8 10-4 3-10 1-10 -3-5 -6-3 -15 5 -65 4 -30 9 -28 5 -7zM1655 992l5 2 5 11 2 40-4 75-5 10-8 4-5 -1-5 -4-3 -14 5 -90 5 -20 3 -7zM850 999l5 3 5 9 4 24v25l-5 65-2 10-6 10-6 4-10 1-10 -3-5 -7-1 -5 4 -70 4 -30 6 -20 7 -11 5 -4zM685 1013l5 -1 5 2 5 8 4 23v25l-6 65-8 11-5 3h-10l-10 -5-4 -14 5 -60 4 -25 5 -17 5 -10zM1820 1010l5 4 2 16-2 77-3 13-7 4-5 -4-1 -5 1 -37 3 -48 2 -11zM530 1028h5l5 7 3 15 1 20-4 51-2 14-3 6-5 5-10 2-10 -5-3 -8 3 -46 6 -39 7 -15zM370 1054l5 -2 5 7 2 21-5 55-3 5-9 4-5 -2-4 -7 5 -55 4 -18zM215 1079l5 6-1 5-4 45-5 4-2 -4 2 -31z"/><path fill="#0032a0" d="M1165 999h5l5 6 5 22v28l-4 65-1 10-5 8-5 3-10 2-7 -3-5 -10 2 -55 6 -50 5 -15 4 -7zM1005 1002l5 1 5 5 4 12 2 20-1 31-5 60-5 9-9 5-6 1-11 -6-2 -5-2 -10 5 -65 4 -25 6 -21 5 -8zM1325 1002l5 -2 5 5 2 5 3 15 1 25-5 75-6 10-10 4-5 -2-5 -4-3 -13 6 -85 7 -25zM1490 1002l5 1 5 13 2 34-4 70-5 10-8 4-5 -1-5 -4-2 -14 6 -85 6 -22zM840 1014l5 -4h5l5 5 5 18 1 27-6 72-4 8-6 5-10 2-5 -2-6 -5-3 -15 7 -75 6 -25zM685 1024l5 -1 2 2 6 10 2 15v20l-5 62-5 9-10 5-10 -3-5 -8v-5l6 -70 5 -20 4 -10zM1655 1023l5 12v10l-4 70-1 5-5 3-5 -3v-28l4 -57 1 -5zM530 1042l5 3 5 20-5 63-5 12-10 3-5 -2-3 -6 3 -53 5 -27 5 -10z"/><path fill="#001491" d="M1005 1015l5 1 2 4 3 7 2 13v20l-4 60-2 10-2 5-7 5-7 1-5 -2-6 -9 4 -65 2 -17 5 -20 5 -9zM1165 1013l5 1 3 6 3 20-4 80-2 10-4 5-6 3h-5l-5 -3-4 -10 4 -67 5 -29 5 -12zM845 1022l5 1 4 7 3 15v20l-4 60-3 10-5 5-10 2-5 -2-5 -10 4 -60 6 -33 5 -10zM1325 1020h5l4 10 1 25-4 65-1 6-4 4-6 2-5 -2-3 -10 4 -70 4 -20zM1490 1029l4 11 1 10-5 70-5 5-5 -5v-15l5 -65zM685 1038h5l4 7 2 25-5 60-6 9-5 2-5 -1-5 -5-1 -5 6 -70 5 -15zM530 1065l2 15-5 50-2 4h-5v-24l4 -35 1 -7z"/><path fill="#000082" d="M1000 1034l5 -3 5 5 2 29-4 60-3 7-5 3h-5l-5 -4-2 -6 5 -65 2 -12zM1165 1032l5 8 1 5-1 34-4 46-6 6-6 -1-3 -5v-5l5 -65 4 -18zM845 1038l5 4 2 18-4 65-3 8-5 4-5 -1-5 -5-1 -6 5 -60 6 -23zM685 1060l3 5v10l-3 47-2 8-3 2-3 -2v-5l3 -50z"/></svg><div class="ax" style="left:335px;top:224px;width:1px;height:118px;background:#a0a0a0"></div><div class="ax" style="left:335px;top:341px;width:204px;height:1px;background:#8a8a8a"></div><div class="ax" style="left:336px;top:333px;width:2px;height:1px;background:rgba(40,40,40,.28)"></div><div class="ax" style="left:336px;top:326px;width:2px;height:1px;background:rgba(40,40,40,.28)"></div><div class="ax" style="left:336px;top:319px;width:2px;height:1px;background:rgba(40,40,40,.28)"></div><div class="ax" style="left:336px;top:311px;width:2px;height:1px;background:rgba(40,40,40,.28)"></div><div class="ax" style="left:336px;top:304px;width:3px;height:1px;background:rgba(0,0,0,.6)"></div><div class="ax" style="left:336px;top:297px;width:2px;height:1px;background:rgba(40,40,40,.28)"></div><div class="ax" style="left:336px;top:289px;width:2px;height:1px;background:rgba(40,40,40,.28)"></div><div class="ax" style="left:336px;top:282px;width:2px;height:1px;background:rgba(40,40,40,.28)"></div><div class="ax" style="left:336px;top:275px;width:2px;height:1px;background:rgba(40,40,40,.28)"></div><div class="ax" style="left:336px;top:268px;width:3px;height:1px;background:rgba(0,0,0,.6)"></div><div class="ax" style="left:336px;top:260px;width:2px;height:1px;background:rgba(40,40,40,.28)"></div><div class="ax" style="left:336px;top:253px;width:2px;height:1px;background:rgba(40,40,40,.28)"></div><div class="ax" style="left:336px;top:246px;width:2px;height:1px;background:rgba(40,40,40,.28)"></div><div class="ax" style="left:336px;top:238px;width:2px;height:1px;background:rgba(40,40,40,.28)"></div><div class="ax" style="left:336px;top:231px;width:3px;height:1px;background:rgba(0,0,0,.6)"></div><div class="ax" style="left:336px;top:224px;width:2px;height:1px;background:rgba(40,40,40,.28)"></div><div class="ax" style="left:386px;top:338px;width:1px;height:3px;background:rgba(25,25,25,.75)"></div><div class="ax" style="left:437px;top:338px;width:1px;height:3px;background:rgba(25,25,25,.75)"></div><div class="ax" style="left:488px;top:338px;width:1px;height:3px;background:rgba(25,25,25,.75)"></div><div class="tl" style="right:217.5px;top:334.7px">0</div><div class="tl" style="right:217.5px;top:298.1px">0.05</div><div class="tl" style="right:217.5px;top:261.4px">0.1</div><div class="tl" style="right:217.5px;top:224.8px">0.15</div><div class="xl c" style="left:315.6px;top:340.8px">2</div><div class="xl c" style="left:366.5px;top:340.8px">4</div><div class="xl c" style="left:417.4px;top:340.8px">6</div><div class="xl c" style="left:468.3px;top:340.8px">8</div><div class="xl c" style="left:519.2px;top:340.8px">10</div><div class="at c" style="left:417.4px;top:349.6px">x</div><div class="at yt" style="left:296.5px;top:274.8px">y</div><div class="cb" style="left:388px;top:189px;background:linear-gradient(90deg,#000082 0.00% 4.17%,#001491 4.17% 8.33%,#0032a0 8.33% 12.50%,#0050af 12.50% 16.67%,#006ebe 16.67% 20.83%,#008cc8 20.83% 25.00%,#00aad7 25.00% 29.17%,#00cdeb 29.17% 33.33%,#00ebff 33.33% 37.50%,#00fad7 37.50% 41.67%,#00ffa0 41.67% 45.83%,#00fa5a 45.83% 50.00%,#00ff14 50.00% 54.17%,#78ff00 54.17% 58.33%,#c8ff00 58.33% 62.50%,#fff500 62.50% 66.67%,#f0dc00 66.67% 70.83%,#e6c300 70.83% 75.00%,#dcaa00 75.00% 79.17%,#d28c00 79.17% 83.33%,#c86e00 83.33% 87.50%,#be5000 87.50% 91.67%,#af3200 91.67% 95.83%,#a01400 95.83% 100.00%)"></div><div class="lg" style="left:346.5px;top:210.4px">u:</div><div class="lg" style="left:364.8px;top:210.4px">-6.0x10<sup>-05</sup></div><div class="lg" style="left:426.2px;top:210.4px">4.0x10<sup>-05</sup></div><div class="pl" style="left:5.6px;top:170.8px">(<b>a</b>)</div><div class="pl" style="left:5.4px;top:356.2px">(<b>b</b>)</div></body></html>
